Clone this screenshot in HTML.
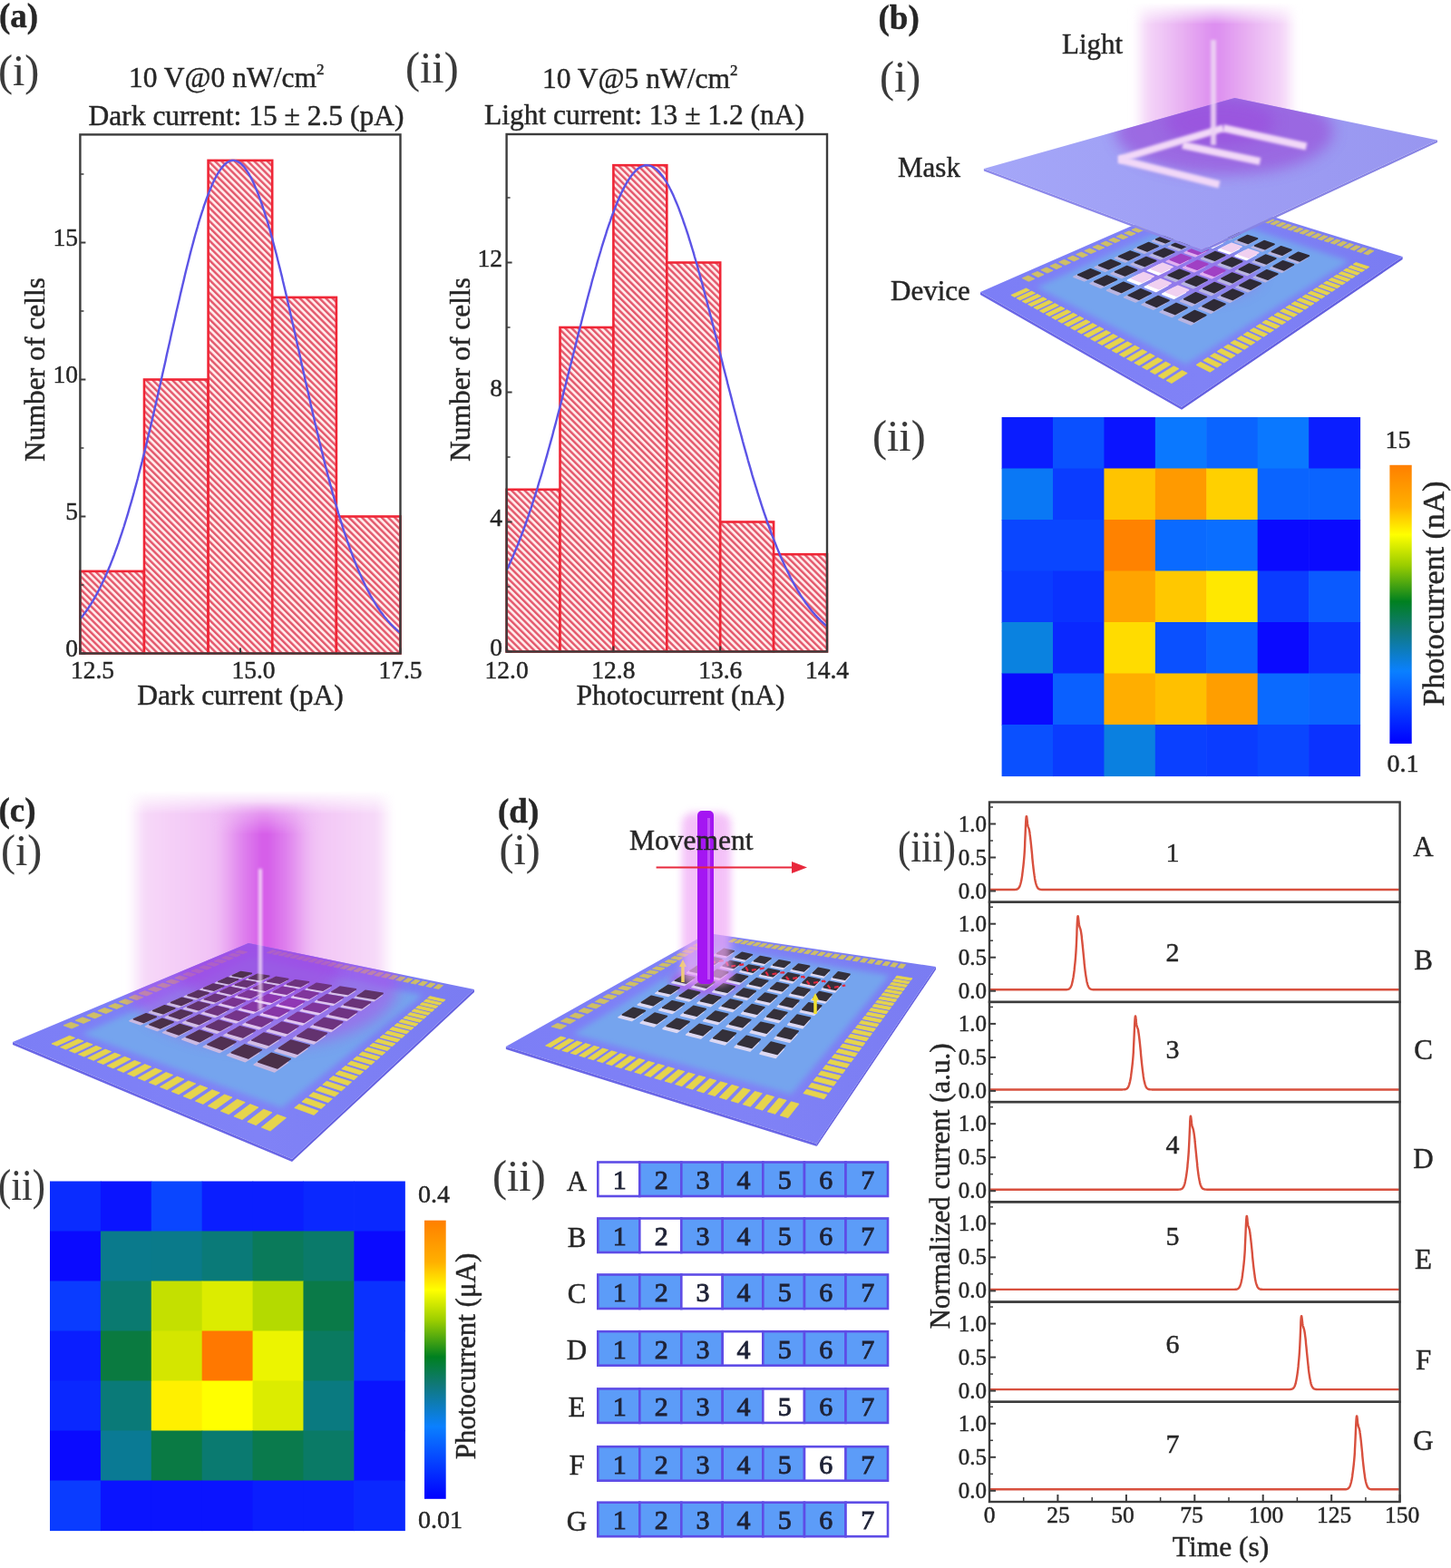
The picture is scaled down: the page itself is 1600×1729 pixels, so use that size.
<!DOCTYPE html>
<html><head><meta charset="utf-8"><style>
html,body{margin:0;padding:0;background:#fff;overflow:hidden;}
svg{display:block;filter:blur(0.6px);}
</style></head><body>
<svg width="1600" height="1729" viewBox="0 0 1600 1729" font-family="'Liberation Serif', serif">
<defs><pattern id="hatch" patternUnits="userSpaceOnUse" width="5.1" height="5.1" patternTransform="rotate(-45)">
<rect width="5.1" height="5.1" fill="#ffeaea"/><rect x="0" y="0" width="2.4" height="5.1" fill="#e4586c"/></pattern><linearGradient id="cbar" x1="0" y1="1" x2="0" y2="0"><stop offset="0" stop-color="#0000ff"/><stop offset="0.26" stop-color="#0a80ff"/><stop offset="0.41" stop-color="#107878"/><stop offset="0.51" stop-color="#008020"/><stop offset="0.64" stop-color="#9acd00"/><stop offset="0.75" stop-color="#ffff00"/><stop offset="0.85" stop-color="#ffb000"/><stop offset="1" stop-color="#ff7f00"/></linearGradient><filter id="soft2" x="-10%" y="-10%" width="120%" height="120%"><feGaussianBlur stdDeviation="3"/></filter><filter id="blur8" x="-50%" y="-50%" width="200%" height="200%"><feGaussianBlur stdDeviation="8"/></filter><filter id="blur5" x="-50%" y="-50%" width="200%" height="200%"><feGaussianBlur stdDeviation="5"/></filter><filter id="blur4" x="-50%" y="-50%" width="200%" height="200%"><feGaussianBlur stdDeviation="4"/></filter><filter id="blur2" x="-50%" y="-50%" width="200%" height="200%"><feGaussianBlur stdDeviation="1.5"/></filter><filter id="blur1" x="-20%" y="-20%" width="140%" height="140%"><feGaussianBlur stdDeviation="0.7"/></filter><linearGradient id="gc" x1="0" y1="0" x2="1" y2="0"><stop offset="0" stop-color="#f8e0fa" stop-opacity="0"/><stop offset="0.06" stop-color="#f6d6f8" stop-opacity="0.95"/><stop offset="0.3" stop-color="#f2c4f6"/><stop offset="0.5" stop-color="#eeb4f4"/><stop offset="0.7" stop-color="#f2c4f6"/><stop offset="0.94" stop-color="#f6d8f8" stop-opacity="0.95"/><stop offset="1" stop-color="#f8e0fa" stop-opacity="0"/></linearGradient><linearGradient id="gcc" x1="0" y1="0" x2="1" y2="0"><stop offset="0" stop-color="#e8a0f0" stop-opacity="0"/><stop offset="0.25" stop-color="#e088ee"/><stop offset="0.5" stop-color="#d458e8"/><stop offset="0.75" stop-color="#e088ee"/><stop offset="1" stop-color="#e8a0f0" stop-opacity="0"/></linearGradient><linearGradient id="gcv" x1="0" y1="0" x2="0" y2="1"><stop offset="0" stop-color="#fff" stop-opacity="0"/><stop offset="1" stop-color="#fff" stop-opacity="1"/></linearGradient><mask id="mcv"><rect x="0" y="872" width="600" height="26" fill="url(#gcv)"/><rect x="0" y="897" width="600" height="300" fill="#fff"/></mask><mask id="mcc"><rect x="0" y="884" width="600" height="36" fill="url(#gcv)"/><rect x="0" y="919" width="600" height="300" fill="#fff"/></mask><linearGradient id="pl1" gradientUnits="userSpaceOnUse" x1="14" y1="1149" x2="523" y2="1091"><stop offset="0" stop-color="#7c7ef6"/><stop offset="0.5" stop-color="#8082f6"/><stop offset="1" stop-color="#7a7cf2"/></linearGradient><clipPath id="cp1"><polygon points="274,1040 523,1091 322,1278 14,1149"/></clipPath><linearGradient id="pl2" gradientUnits="userSpaceOnUse" x1="1081" y1="322" x2="1546.6" y2="283"><stop offset="0" stop-color="#7c7ef6"/><stop offset="0.5" stop-color="#8082f6"/><stop offset="1" stop-color="#7a7cf2"/></linearGradient><clipPath id="cp2"><polygon points="1326,215 1546.6,283 1303,448.75 1081,322"/></clipPath><linearGradient id="gb" x1="0" y1="0" x2="1" y2="0"><stop offset="0" stop-color="#f6dcf8" stop-opacity="0"/><stop offset="0.08" stop-color="#f4d4f8" stop-opacity="0.95"/><stop offset="0.3" stop-color="#e8b0f2"/><stop offset="0.5" stop-color="#dc8cf0"/><stop offset="0.7" stop-color="#e8b0f2"/><stop offset="0.92" stop-color="#f4d4f8" stop-opacity="0.95"/><stop offset="1" stop-color="#f6dcf8" stop-opacity="0"/></linearGradient><mask id="mbv"><rect x="1100" y="3" width="500" height="24" fill="url(#gcv)"/><rect x="1100" y="26" width="500" height="200" fill="#fff"/></mask><linearGradient id="mkbase" gradientUnits="userSpaceOnUse" x1="1100" y1="180" x2="1580" y2="160"><stop offset="0" stop-color="#a4a6f8"/><stop offset="1" stop-color="#9896f0"/></linearGradient><clipPath id="cpmask"><polygon points="1084.9,186 1361.5,108 1585,154.5 1325,275.4"/></clipPath><linearGradient id="pl3" gradientUnits="userSpaceOnUse" x1="557.9" y1="1154" x2="1032" y2="1066"><stop offset="0" stop-color="#7c7ef6"/><stop offset="0.5" stop-color="#8082f6"/><stop offset="1" stop-color="#7a7cf2"/></linearGradient><clipPath id="cp3"><polygon points="780.5,1029 1032,1066 900.7,1261 557.9,1154"/></clipPath></defs>
<rect width="1600" height="1729" fill="#fff"/>
<rect x="88.4" y="629.9" width="70.6" height="90.6" fill="url(#hatch)" stroke="#f02636" stroke-width="2.6"/>
<rect x="159.0" y="418.5" width="70.6" height="302.0" fill="url(#hatch)" stroke="#f02636" stroke-width="2.6"/>
<rect x="229.6" y="176.9" width="70.6" height="543.6" fill="url(#hatch)" stroke="#f02636" stroke-width="2.6"/>
<rect x="300.3" y="327.9" width="70.6" height="392.6" fill="url(#hatch)" stroke="#f02636" stroke-width="2.6"/>
<rect x="370.9" y="569.5" width="70.6" height="151.0" fill="url(#hatch)" stroke="#f02636" stroke-width="2.6"/>
<polyline points="88.4,682.5 89.6,681.1 90.8,679.6 91.9,678.1 93.1,676.5 94.3,674.9 95.5,673.3 96.6,671.6 97.8,669.8 99.0,668.0 100.2,666.2 101.3,664.3 102.5,662.3 103.7,660.3 104.9,658.2 106.1,656.1 107.2,654.0 108.4,651.7 109.6,649.5 110.8,647.1 111.9,644.7 113.1,642.3 114.3,639.8 115.5,637.2 116.6,634.6 117.8,631.9 119.0,629.2 120.2,626.3 121.4,623.5 122.5,620.6 123.7,617.6 124.9,614.5 126.1,611.4 127.2,608.2 128.4,605.0 129.6,601.7 130.8,598.3 131.9,594.9 133.1,591.4 134.3,587.8 135.5,584.2 136.7,580.5 137.8,576.8 139.0,573.0 140.2,569.1 141.4,565.2 142.5,561.2 143.7,557.2 144.9,553.1 146.1,548.9 147.3,544.7 148.4,540.4 149.6,536.1 150.8,531.7 152.0,527.3 153.1,522.8 154.3,518.2 155.5,513.6 156.7,509.0 157.8,504.3 159.0,499.5 160.2,494.7 161.4,489.9 162.6,485.0 163.7,480.1 164.9,475.1 166.1,470.1 167.3,465.1 168.4,460.0 169.6,454.9 170.8,449.8 172.0,444.6 173.1,439.5 174.3,434.2 175.5,429.0 176.7,423.8 177.9,418.5 179.0,413.2 180.2,408.0 181.4,402.7 182.6,397.4 183.7,392.1 184.9,386.8 186.1,381.5 187.3,376.2 188.4,370.9 189.6,365.6 190.8,360.3 192.0,355.1 193.2,349.8 194.3,344.6 195.5,339.5 196.7,334.3 197.9,329.2 199.0,324.1 200.2,319.1 201.4,314.0 202.6,309.1 203.7,304.2 204.9,299.3 206.1,294.5 207.3,289.7 208.5,285.0 209.6,280.4 210.8,275.8 212.0,271.3 213.2,266.9 214.3,262.6 215.5,258.3 216.7,254.1 217.9,250.0 219.0,245.9 220.2,242.0 221.4,238.2 222.6,234.4 223.8,230.8 224.9,227.2 226.1,223.8 227.3,220.4 228.5,217.2 229.6,214.1 230.8,211.1 232.0,208.2 233.2,205.4 234.3,202.7 235.5,200.2 236.7,197.8 237.9,195.5 239.1,193.3 240.2,191.3 241.4,189.4 242.6,187.6 243.8,186.0 244.9,184.5 246.1,183.1 247.3,181.8 248.5,180.7 249.6,179.8 250.8,178.9 252.0,178.3 253.2,177.7 254.4,177.3 255.5,177.0 256.7,176.9 257.9,176.9 259.1,177.1 260.2,177.4 261.4,177.8 262.6,178.4 263.8,179.1 265.0,180.0 266.1,180.9 267.3,182.1 268.5,183.3 269.7,184.7 270.8,186.3 272.0,188.0 273.2,189.8 274.4,191.7 275.5,193.8 276.7,195.9 277.9,198.3 279.1,200.7 280.3,203.3 281.4,205.9 282.6,208.7 283.8,211.7 285.0,214.7 286.1,217.8 287.3,221.1 288.5,224.5 289.7,227.9 290.8,231.5 292.0,235.2 293.2,238.9 294.4,242.8 295.6,246.7 296.7,250.8 297.9,254.9 299.1,259.1 300.3,263.4 301.4,267.8 302.6,272.2 303.8,276.7 305.0,281.3 306.1,286.0 307.3,290.7 308.5,295.4 309.7,300.3 310.9,305.1 312.0,310.1 313.2,315.0 314.4,320.1 315.6,325.1 316.7,330.2 317.9,335.3 319.1,340.5 320.3,345.7 321.4,350.9 322.6,356.1 323.8,361.4 325.0,366.6 326.2,371.9 327.3,377.2 328.5,382.5 329.7,387.8 330.9,393.1 332.0,398.4 333.2,403.7 334.4,409.0 335.6,414.3 336.7,419.6 337.9,424.8 339.1,430.1 340.3,435.3 341.5,440.5 342.6,445.7 343.8,450.8 345.0,455.9 346.2,461.0 347.3,466.1 348.5,471.1 349.7,476.1 350.9,481.1 352.0,486.0 353.2,490.8 354.4,495.7 355.6,500.5 356.8,505.2 357.9,509.9 359.1,514.5 360.3,519.1 361.5,523.7 362.6,528.1 363.8,532.6 365.0,537.0 366.2,541.3 367.3,545.5 368.5,549.8 369.7,553.9 370.9,558.0 372.1,562.0 373.2,566.0 374.4,569.9 375.6,573.8 376.8,577.6 377.9,581.3 379.1,585.0 380.3,588.6 381.5,592.1 382.7,595.6 383.8,599.0 385.0,602.3 386.2,605.6 387.4,608.9 388.5,612.0 389.7,615.1 390.9,618.2 392.1,621.1 393.2,624.1 394.4,626.9 395.6,629.7 396.8,632.4 398.0,635.1 399.1,637.7 400.3,640.3 401.5,642.8 402.7,645.2 403.8,647.6 405.0,649.9 406.2,652.2 407.4,654.4 408.5,656.5 409.7,658.6 410.9,660.7 412.1,662.7 413.3,664.6 414.4,666.5 415.6,668.4 416.8,670.2 418.0,671.9 419.1,673.6 420.3,675.2 421.5,676.8 422.7,678.4 423.8,679.9 425.0,681.4 426.2,682.8 427.4,684.2 428.6,685.5 429.7,686.8 430.9,688.1 432.1,689.3 433.3,690.5 434.4,691.6 435.6,692.7 436.8,693.8 438.0,694.8 439.1,695.8 440.3,696.8 441.5,697.7" fill="none" stroke="#5c54e6" stroke-width="2.4"/>
<rect x="88.4" y="148.4" width="353.1" height="572.1" fill="none" stroke="#3c3c3c" stroke-width="2.4"/>
<line x1="88.4" y1="720.5" x2="94.4" y2="720.5" stroke="#3c3c3c" stroke-width="2"/>
<text x="85.9" y="723.5" font-size="27.5" text-anchor="end" fill="#262626" stroke="#262626" stroke-width="0.45">0</text>
<line x1="88.4" y1="569.5" x2="94.4" y2="569.5" stroke="#3c3c3c" stroke-width="2"/>
<text x="85.9" y="572.5" font-size="27.5" text-anchor="end" fill="#262626" stroke="#262626" stroke-width="0.45">5</text>
<line x1="88.4" y1="418.5" x2="94.4" y2="418.5" stroke="#3c3c3c" stroke-width="2"/>
<text x="85.9" y="421.5" font-size="27.5" text-anchor="end" fill="#262626" stroke="#262626" stroke-width="0.45">10</text>
<line x1="88.4" y1="267.5" x2="94.4" y2="267.5" stroke="#3c3c3c" stroke-width="2"/>
<text x="85.9" y="270.5" font-size="27.5" text-anchor="end" fill="#262626" stroke="#262626" stroke-width="0.45">15</text>
<line x1="88.4" y1="645.0" x2="92.4" y2="645.0" stroke="#3c3c3c" stroke-width="1.5"/>
<line x1="88.4" y1="494.0" x2="92.4" y2="494.0" stroke="#3c3c3c" stroke-width="1.5"/>
<line x1="88.4" y1="343.0" x2="92.4" y2="343.0" stroke="#3c3c3c" stroke-width="1.5"/>
<line x1="88.4" y1="192.0" x2="92.4" y2="192.0" stroke="#3c3c3c" stroke-width="1.5"/>
<line x1="88.4" y1="720.5" x2="88.4" y2="714.5" stroke="#3c3c3c" stroke-width="2"/>
<text x="102" y="748" font-size="27.5" text-anchor="middle" fill="#262626" stroke="#262626" stroke-width="0.45">12.5</text>
<line x1="265.0" y1="720.5" x2="265.0" y2="714.5" stroke="#3c3c3c" stroke-width="2"/>
<text x="279.5" y="748" font-size="27.5" text-anchor="middle" fill="#262626" stroke="#262626" stroke-width="0.45">15.0</text>
<line x1="441.5" y1="720.5" x2="441.5" y2="714.5" stroke="#3c3c3c" stroke-width="2"/>
<text x="441.5" y="748" font-size="27.5" text-anchor="middle" fill="#262626" stroke="#262626" stroke-width="0.45">17.5</text>
<rect x="558.6" y="539.8" width="58.9" height="178.8" fill="url(#hatch)" stroke="#f02636" stroke-width="2.6"/>
<rect x="617.5" y="361.0" width="58.9" height="357.5" fill="url(#hatch)" stroke="#f02636" stroke-width="2.6"/>
<rect x="676.4" y="182.2" width="58.9" height="536.2" fill="url(#hatch)" stroke="#f02636" stroke-width="2.6"/>
<rect x="735.3" y="289.5" width="58.9" height="429.0" fill="url(#hatch)" stroke="#f02636" stroke-width="2.6"/>
<rect x="794.2" y="575.5" width="58.9" height="143.0" fill="url(#hatch)" stroke="#f02636" stroke-width="2.6"/>
<rect x="853.1" y="611.2" width="58.9" height="107.2" fill="url(#hatch)" stroke="#f02636" stroke-width="2.6"/>
<polyline points="558.6,628.9 559.8,626.5 561.0,624.0 562.1,621.4 563.3,618.8 564.5,616.1 565.7,613.4 566.8,610.6 568.0,607.8 569.2,605.0 570.4,602.1 571.6,599.1 572.7,596.1 573.9,593.0 575.1,589.9 576.3,586.8 577.4,583.6 578.6,580.3 579.8,577.0 581.0,573.7 582.2,570.3 583.3,566.8 584.5,563.3 585.7,559.8 586.9,556.2 588.0,552.5 589.2,548.8 590.4,545.1 591.6,541.3 592.8,537.5 593.9,533.6 595.1,529.7 596.3,525.8 597.5,521.8 598.7,517.7 599.8,513.7 601.0,509.6 602.2,505.4 603.4,501.2 604.5,497.0 605.7,492.7 606.9,488.4 608.1,484.1 609.3,479.7 610.4,475.3 611.6,470.9 612.8,466.5 614.0,462.0 615.1,457.5 616.3,453.0 617.5,448.4 618.7,443.8 619.9,439.2 621.0,434.6 622.2,430.0 623.4,425.4 624.6,420.7 625.7,416.1 626.9,411.4 628.1,406.7 629.3,402.0 630.5,397.3 631.6,392.7 632.8,388.0 634.0,383.3 635.2,378.6 636.3,373.9 637.5,369.3 638.7,364.6 639.9,360.0 641.1,355.3 642.2,350.7 643.4,346.1 644.6,341.6 645.8,337.0 646.9,332.5 648.1,328.0 649.3,323.5 650.5,319.1 651.7,314.7 652.8,310.3 654.0,306.0 655.2,301.7 656.4,297.5 657.6,293.3 658.7,289.1 659.9,285.0 661.1,281.0 662.3,277.0 663.4,273.0 664.6,269.1 665.8,265.3 667.0,261.6 668.2,257.9 669.3,254.2 670.5,250.7 671.7,247.2 672.9,243.8 674.0,240.4 675.2,237.2 676.4,234.0 677.6,230.9 678.8,227.9 679.9,224.9 681.1,222.1 682.3,219.3 683.5,216.6 684.6,214.0 685.8,211.5 687.0,209.1 688.2,206.8 689.4,204.6 690.5,202.5 691.7,200.5 692.9,198.6 694.1,196.8 695.2,195.1 696.4,193.4 697.6,191.9 698.8,190.5 700.0,189.3 701.1,188.1 702.3,187.0 703.5,186.0 704.7,185.2 705.9,184.4 707.0,183.8 708.2,183.3 709.4,182.8 710.6,182.5 711.7,182.3 712.9,182.3 714.1,182.3 715.3,182.4 716.5,182.7 717.6,183.0 718.8,183.5 720.0,184.1 721.2,184.8 722.3,185.6 723.5,186.5 724.7,187.5 725.9,188.6 727.1,189.9 728.2,191.2 729.4,192.7 730.6,194.2 731.8,195.9 732.9,197.7 734.1,199.5 735.3,201.5 736.5,203.5 737.7,205.7 738.8,208.0 740.0,210.3 741.2,212.8 742.4,215.3 743.5,217.9 744.7,220.7 745.9,223.5 747.1,226.4 748.3,229.4 749.4,232.4 750.6,235.6 751.8,238.8 753.0,242.1 754.1,245.5 755.3,248.9 756.5,252.4 757.7,256.0 758.9,259.7 760.0,263.4 761.2,267.2 762.4,271.1 763.6,275.0 764.8,278.9 765.9,283.0 767.1,287.0 768.3,291.2 769.5,295.3 770.6,299.6 771.8,303.8 773.0,308.1 774.2,312.5 775.4,316.9 776.5,321.3 777.7,325.7 778.9,330.2 780.1,334.7 781.2,339.3 782.4,343.8 783.6,348.4 784.8,353.0 786.0,357.6 787.1,362.3 788.3,366.9 789.5,371.6 790.7,376.3 791.8,380.9 793.0,385.6 794.2,390.3 795.4,395.0 796.6,399.7 797.7,404.4 798.9,409.1 800.1,413.7 801.3,418.4 802.4,423.1 803.6,427.7 804.8,432.3 806.0,436.9 807.2,441.5 808.3,446.1 809.5,450.7 810.7,455.2 811.9,459.7 813.0,464.2 814.2,468.7 815.4,473.1 816.6,477.5 817.8,481.9 818.9,486.3 820.1,490.6 821.3,494.9 822.5,499.1 823.7,503.3 824.8,507.5 826.0,511.6 827.2,515.7 828.4,519.8 829.5,523.8 830.7,527.8 831.9,531.7 833.1,535.6 834.3,539.4 835.4,543.2 836.6,547.0 837.8,550.7 839.0,554.4 840.1,558.0 841.3,561.5 842.5,565.1 843.7,568.5 844.9,572.0 846.0,575.3 847.2,578.7 848.4,582.0 849.6,585.2 850.7,588.4 851.9,591.5 853.1,594.6 854.3,597.6 855.5,600.6 856.6,603.5 857.8,606.4 859.0,609.2 860.2,612.0 861.3,614.8 862.5,617.5 863.7,620.1 864.9,622.7 866.1,625.2 867.2,627.7 868.4,630.1 869.6,632.5 870.8,634.9 871.9,637.2 873.1,639.4 874.3,641.7 875.5,643.8 876.7,645.9 877.8,648.0 879.0,650.0 880.2,652.0 881.4,653.9 882.5,655.8 883.7,657.7 884.9,659.5 886.1,661.3 887.3,663.0 888.4,664.7 889.6,666.3 890.8,667.9 892.0,669.5 893.2,671.0 894.3,672.5 895.5,673.9 896.7,675.4 897.9,676.7 899.0,678.1 900.2,679.4 901.4,680.7 902.6,681.9 903.8,683.1 904.9,684.3 906.1,685.4 907.3,686.5 908.5,687.6 909.6,688.7 910.8,689.7 912.0,690.7" fill="none" stroke="#5c54e6" stroke-width="2.4"/>
<rect x="558.6" y="148.0" width="353.4" height="570.5" fill="none" stroke="#3c3c3c" stroke-width="2.4"/>
<line x1="558.6" y1="718.5" x2="564.6" y2="718.5" stroke="#3c3c3c" stroke-width="2"/>
<text x="554.1" y="722.5" font-size="27.5" text-anchor="end" fill="#262626" stroke="#262626" stroke-width="0.45">0</text>
<line x1="558.6" y1="575.5" x2="564.6" y2="575.5" stroke="#3c3c3c" stroke-width="2"/>
<text x="554.1" y="579.5" font-size="27.5" text-anchor="end" fill="#262626" stroke="#262626" stroke-width="0.45">4</text>
<line x1="558.6" y1="432.5" x2="564.6" y2="432.5" stroke="#3c3c3c" stroke-width="2"/>
<text x="554.1" y="436.5" font-size="27.5" text-anchor="end" fill="#262626" stroke="#262626" stroke-width="0.45">8</text>
<line x1="558.6" y1="289.5" x2="564.6" y2="289.5" stroke="#3c3c3c" stroke-width="2"/>
<text x="554.1" y="293.5" font-size="27.5" text-anchor="end" fill="#262626" stroke="#262626" stroke-width="0.45">12</text>
<line x1="558.6" y1="647.0" x2="562.6" y2="647.0" stroke="#3c3c3c" stroke-width="1.5"/>
<line x1="558.6" y1="504.0" x2="562.6" y2="504.0" stroke="#3c3c3c" stroke-width="1.5"/>
<line x1="558.6" y1="361.0" x2="562.6" y2="361.0" stroke="#3c3c3c" stroke-width="1.5"/>
<line x1="558.6" y1="218.0" x2="562.6" y2="218.0" stroke="#3c3c3c" stroke-width="1.5"/>
<line x1="558.6" y1="718.5" x2="558.6" y2="712.5" stroke="#3c3c3c" stroke-width="2"/>
<text x="558.6" y="748" font-size="27.5" text-anchor="middle" fill="#262626" stroke="#262626" stroke-width="0.45">12.0</text>
<line x1="676.4" y1="718.5" x2="676.4" y2="712.5" stroke="#3c3c3c" stroke-width="2"/>
<text x="676.4000000000001" y="748" font-size="27.5" text-anchor="middle" fill="#262626" stroke="#262626" stroke-width="0.45">12.8</text>
<line x1="794.2" y1="718.5" x2="794.2" y2="712.5" stroke="#3c3c3c" stroke-width="2"/>
<text x="794.1999999999999" y="748" font-size="27.5" text-anchor="middle" fill="#262626" stroke="#262626" stroke-width="0.45">13.6</text>
<line x1="912.0" y1="718.5" x2="912.0" y2="712.5" stroke="#3c3c3c" stroke-width="2"/>
<text x="912.0" y="748" font-size="27.5" text-anchor="middle" fill="#262626" stroke="#262626" stroke-width="0.45">14.4</text>
<text x="-1" y="29.5" font-size="37" text-anchor="start" font-weight="bold" fill="#262626" stroke="#262626" stroke-width="0.45">(a)</text>
<text x="-2" y="93.5" font-size="48" text-anchor="start" fill="#3a3a3a" stroke="#3a3a3a" stroke-width="0.1">(i)</text>
<text x="447" y="90.7" font-size="48" text-anchor="start" fill="#3a3a3a" stroke="#3a3a3a" stroke-width="0.1">(ii)</text>
<text x="142" y="96" font-size="31.5" text-anchor="start" fill="#262626" stroke="#262626" stroke-width="0.45">10 V@0 nW/cm<tspan font-size="17" dy="-14">2</tspan></text>
<text x="271.5" y="138" font-size="31.5" text-anchor="middle" fill="#262626" stroke="#262626" stroke-width="0.45">Dark current: 15 ± 2.5 (pA)</text>
<text x="598" y="97" font-size="31.5" text-anchor="start" fill="#262626" stroke="#262626" stroke-width="0.45">10 V@5 nW/cm<tspan font-size="17" dy="-14">2</tspan></text>
<text x="710.5" y="137" font-size="31.5" text-anchor="middle" fill="#262626" stroke="#262626" stroke-width="0.45">Light current: 13 ± 1.2 (nA)</text>
<text x="265" y="777" font-size="31.5" text-anchor="middle" fill="#262626" stroke="#262626" stroke-width="0.45">Dark current (pA)</text>
<text x="750.5" y="777" font-size="31.5" text-anchor="middle" fill="#262626" stroke="#262626" stroke-width="0.45">Photocurrent (nA)</text>
<text x="48.5" y="407.5" font-size="31.5" text-anchor="middle" fill="#262626" stroke="#262626" stroke-width="0.45" transform="rotate(-90 48.5 407.5)">Number of cells</text>
<text x="517.5" y="407.5" font-size="31.5" text-anchor="middle" fill="#262626" stroke="#262626" stroke-width="0.45" transform="rotate(-90 517.5 407.5)">Number of cells</text>
<rect x="1104.60" y="460.00" width="57.01" height="57.10" fill="#0a1cff"/>
<rect x="1161.01" y="460.00" width="57.01" height="57.10" fill="#0a50ff"/>
<rect x="1217.43" y="460.00" width="57.01" height="57.10" fill="#0a14ff"/>
<rect x="1273.84" y="460.00" width="57.01" height="57.10" fill="#0a78ff"/>
<rect x="1330.26" y="460.00" width="57.01" height="57.10" fill="#0a64ff"/>
<rect x="1386.67" y="460.00" width="57.01" height="57.10" fill="#0a78ff"/>
<rect x="1443.09" y="460.00" width="57.01" height="57.10" fill="#0a1eff"/>
<rect x="1104.60" y="516.50" width="57.01" height="57.10" fill="#0a78f5"/>
<rect x="1161.01" y="516.50" width="57.01" height="57.10" fill="#0a3cff"/>
<rect x="1217.43" y="516.50" width="57.01" height="57.10" fill="#ffc400"/>
<rect x="1273.84" y="516.50" width="57.01" height="57.10" fill="#ff9a00"/>
<rect x="1330.26" y="516.50" width="57.01" height="57.10" fill="#ffd000"/>
<rect x="1386.67" y="516.50" width="57.01" height="57.10" fill="#0a64ff"/>
<rect x="1443.09" y="516.50" width="57.01" height="57.10" fill="#0a64ff"/>
<rect x="1104.60" y="573.00" width="57.01" height="57.10" fill="#0a46ff"/>
<rect x="1161.01" y="573.00" width="57.01" height="57.10" fill="#0a46ff"/>
<rect x="1217.43" y="573.00" width="57.01" height="57.10" fill="#ff8200"/>
<rect x="1273.84" y="573.00" width="57.01" height="57.10" fill="#0a6aff"/>
<rect x="1330.26" y="573.00" width="57.01" height="57.10" fill="#0a6eff"/>
<rect x="1386.67" y="573.00" width="57.01" height="57.10" fill="#0a0aff"/>
<rect x="1443.09" y="573.00" width="57.01" height="57.10" fill="#0a0aff"/>
<rect x="1104.60" y="629.50" width="57.01" height="57.10" fill="#0a3cff"/>
<rect x="1161.01" y="629.50" width="57.01" height="57.10" fill="#0a32ff"/>
<rect x="1217.43" y="629.50" width="57.01" height="57.10" fill="#ffa400"/>
<rect x="1273.84" y="629.50" width="57.01" height="57.10" fill="#ffc800"/>
<rect x="1330.26" y="629.50" width="57.01" height="57.10" fill="#ffe800"/>
<rect x="1386.67" y="629.50" width="57.01" height="57.10" fill="#0a3cff"/>
<rect x="1443.09" y="629.50" width="57.01" height="57.10" fill="#0a5aff"/>
<rect x="1104.60" y="686.00" width="57.01" height="57.10" fill="#0a82e0"/>
<rect x="1161.01" y="686.00" width="57.01" height="57.10" fill="#0a28ff"/>
<rect x="1217.43" y="686.00" width="57.01" height="57.10" fill="#ffdc00"/>
<rect x="1273.84" y="686.00" width="57.01" height="57.10" fill="#0a50ff"/>
<rect x="1330.26" y="686.00" width="57.01" height="57.10" fill="#0a64ff"/>
<rect x="1386.67" y="686.00" width="57.01" height="57.10" fill="#0a0aff"/>
<rect x="1443.09" y="686.00" width="57.01" height="57.10" fill="#0a32ff"/>
<rect x="1104.60" y="742.50" width="57.01" height="57.10" fill="#0a0aff"/>
<rect x="1161.01" y="742.50" width="57.01" height="57.10" fill="#0a60ff"/>
<rect x="1217.43" y="742.50" width="57.01" height="57.10" fill="#ffae00"/>
<rect x="1273.84" y="742.50" width="57.01" height="57.10" fill="#ffc000"/>
<rect x="1330.26" y="742.50" width="57.01" height="57.10" fill="#ff9e00"/>
<rect x="1386.67" y="742.50" width="57.01" height="57.10" fill="#0a6aff"/>
<rect x="1443.09" y="742.50" width="57.01" height="57.10" fill="#0a64ff"/>
<rect x="1104.60" y="799.00" width="57.01" height="57.10" fill="#0a50ff"/>
<rect x="1161.01" y="799.00" width="57.01" height="57.10" fill="#0a3cff"/>
<rect x="1217.43" y="799.00" width="57.01" height="57.10" fill="#0a80e0"/>
<rect x="1273.84" y="799.00" width="57.01" height="57.10" fill="#0a40ff"/>
<rect x="1330.26" y="799.00" width="57.01" height="57.10" fill="#0a3cff"/>
<rect x="1386.67" y="799.00" width="57.01" height="57.10" fill="#0a46ff"/>
<rect x="1443.09" y="799.00" width="57.01" height="57.10" fill="#0a32ff"/>
<rect x="1532.4" y="512.8" width="24.3" height="307.2" fill="url(#cbar)"/>
<text x="1541.5" y="493.5" font-size="28" text-anchor="middle" fill="#262626" stroke="#262626" stroke-width="0.45">15</text>
<text x="1547" y="851" font-size="28" text-anchor="middle" fill="#262626" stroke="#262626" stroke-width="0.45">0.1</text>
<text x="1592" y="654.5" font-size="34" text-anchor="middle" fill="#262626" stroke="#262626" stroke-width="0.45" transform="rotate(-90 1592 654.5)">Photocurrent (nA)</text>
<rect x="55.00" y="1302.50" width="56.49" height="55.60" fill="#0a2cff"/>
<rect x="110.89" y="1302.50" width="56.49" height="55.60" fill="#0a14ff"/>
<rect x="166.79" y="1302.50" width="56.49" height="55.60" fill="#0a46ff"/>
<rect x="222.68" y="1302.50" width="56.49" height="55.60" fill="#0a1eff"/>
<rect x="278.57" y="1302.50" width="56.49" height="55.60" fill="#0a1eff"/>
<rect x="334.46" y="1302.50" width="56.49" height="55.60" fill="#0a28ff"/>
<rect x="390.36" y="1302.50" width="56.49" height="55.60" fill="#0a28ff"/>
<rect x="55.00" y="1357.50" width="56.49" height="55.60" fill="#0a0aff"/>
<rect x="110.89" y="1357.50" width="56.49" height="55.60" fill="#0a7a8c"/>
<rect x="166.79" y="1357.50" width="56.49" height="55.60" fill="#0a7a8a"/>
<rect x="222.68" y="1357.50" width="56.49" height="55.60" fill="#0a7a78"/>
<rect x="278.57" y="1357.50" width="56.49" height="55.60" fill="#0a7a5a"/>
<rect x="334.46" y="1357.50" width="56.49" height="55.60" fill="#0a7a6a"/>
<rect x="390.36" y="1357.50" width="56.49" height="55.60" fill="#0a0aff"/>
<rect x="55.00" y="1412.50" width="56.49" height="55.60" fill="#0a3cff"/>
<rect x="110.89" y="1412.50" width="56.49" height="55.60" fill="#0a7a70"/>
<rect x="166.79" y="1412.50" width="56.49" height="55.60" fill="#c4e000"/>
<rect x="222.68" y="1412.50" width="56.49" height="55.60" fill="#dcec00"/>
<rect x="278.57" y="1412.50" width="56.49" height="55.60" fill="#b4da00"/>
<rect x="334.46" y="1412.50" width="56.49" height="55.60" fill="#0a7a48"/>
<rect x="390.36" y="1412.50" width="56.49" height="55.60" fill="#0a32ff"/>
<rect x="55.00" y="1467.50" width="56.49" height="55.60" fill="#0a1eff"/>
<rect x="110.89" y="1467.50" width="56.49" height="55.60" fill="#0a7a40"/>
<rect x="166.79" y="1467.50" width="56.49" height="55.60" fill="#d4e600"/>
<rect x="222.68" y="1467.50" width="56.49" height="55.60" fill="#ff7800"/>
<rect x="278.57" y="1467.50" width="56.49" height="55.60" fill="#ecf400"/>
<rect x="334.46" y="1467.50" width="56.49" height="55.60" fill="#0a7a60"/>
<rect x="390.36" y="1467.50" width="56.49" height="55.60" fill="#0a32ff"/>
<rect x="55.00" y="1522.50" width="56.49" height="55.60" fill="#0a28ff"/>
<rect x="110.89" y="1522.50" width="56.49" height="55.60" fill="#0a7a78"/>
<rect x="166.79" y="1522.50" width="56.49" height="55.60" fill="#fff000"/>
<rect x="222.68" y="1522.50" width="56.49" height="55.60" fill="#ffff00"/>
<rect x="278.57" y="1522.50" width="56.49" height="55.60" fill="#dcec00"/>
<rect x="334.46" y="1522.50" width="56.49" height="55.60" fill="#0a7a80"/>
<rect x="390.36" y="1522.50" width="56.49" height="55.60" fill="#0a14ff"/>
<rect x="55.00" y="1577.50" width="56.49" height="55.60" fill="#0a0aff"/>
<rect x="110.89" y="1577.50" width="56.49" height="55.60" fill="#0a7a94"/>
<rect x="166.79" y="1577.50" width="56.49" height="55.60" fill="#0a7a44"/>
<rect x="222.68" y="1577.50" width="56.49" height="55.60" fill="#0a7a70"/>
<rect x="278.57" y="1577.50" width="56.49" height="55.60" fill="#0a7a4c"/>
<rect x="334.46" y="1577.50" width="56.49" height="55.60" fill="#0a7a66"/>
<rect x="390.36" y="1577.50" width="56.49" height="55.60" fill="#0a14ff"/>
<rect x="55.00" y="1632.50" width="56.49" height="55.60" fill="#0a3cff"/>
<rect x="110.89" y="1632.50" width="56.49" height="55.60" fill="#0a14ff"/>
<rect x="166.79" y="1632.50" width="56.49" height="55.60" fill="#0a14ff"/>
<rect x="222.68" y="1632.50" width="56.49" height="55.60" fill="#0a14ff"/>
<rect x="278.57" y="1632.50" width="56.49" height="55.60" fill="#0a1eff"/>
<rect x="334.46" y="1632.50" width="56.49" height="55.60" fill="#0a1eff"/>
<rect x="390.36" y="1632.50" width="56.49" height="55.60" fill="#0a28ff"/>
<rect x="468" y="1345.7" width="23.7" height="307.1" fill="url(#cbar)"/>
<text x="478.5" y="1325.6" font-size="28" text-anchor="middle" fill="#262626" stroke="#262626" stroke-width="0.45">0.4</text>
<text x="485.5" y="1685" font-size="28" text-anchor="middle" fill="#262626" stroke="#262626" stroke-width="0.45">0.01</text>
<text x="524" y="1495.5" font-size="31" text-anchor="middle" fill="#262626" stroke="#262626" stroke-width="0.45" transform="rotate(-90 524 1495.5)">Photocurrent (μA)</text>
<rect x="659.3" y="1281.5" width="46.0" height="37.5" fill="#ffffff" stroke="#5e4ce6" stroke-width="2.6"/>
<text x="683.3" y="1311.0" font-size="30" text-anchor="middle" fill="#1e2236" stroke="#1e2236" stroke-width="0.9">1</text>
<rect x="705.3" y="1281.5" width="46.0" height="37.5" fill="#5c9cf8" stroke="#5e4ce6" stroke-width="2.6"/>
<text x="729.3" y="1311.0" font-size="30" text-anchor="middle" fill="#1e2236" stroke="#1e2236" stroke-width="0.9">2</text>
<rect x="751.3" y="1281.5" width="45.4" height="37.5" fill="#5c9cf8" stroke="#5e4ce6" stroke-width="2.6"/>
<text x="775.0" y="1311.0" font-size="30" text-anchor="middle" fill="#1e2236" stroke="#1e2236" stroke-width="0.9">3</text>
<rect x="796.7" y="1281.5" width="44.6" height="37.5" fill="#5c9cf8" stroke="#5e4ce6" stroke-width="2.6"/>
<text x="820.0" y="1311.0" font-size="30" text-anchor="middle" fill="#1e2236" stroke="#1e2236" stroke-width="0.9">4</text>
<rect x="841.3" y="1281.5" width="45.7" height="37.5" fill="#5c9cf8" stroke="#5e4ce6" stroke-width="2.6"/>
<text x="865.15" y="1311.0" font-size="30" text-anchor="middle" fill="#1e2236" stroke="#1e2236" stroke-width="0.9">5</text>
<rect x="887.0" y="1281.5" width="45.5" height="37.5" fill="#5c9cf8" stroke="#5e4ce6" stroke-width="2.6"/>
<text x="910.75" y="1311.0" font-size="30" text-anchor="middle" fill="#1e2236" stroke="#1e2236" stroke-width="0.9">6</text>
<rect x="932.5" y="1281.5" width="46.5" height="37.5" fill="#5c9cf8" stroke="#5e4ce6" stroke-width="2.6"/>
<text x="956.75" y="1311.0" font-size="30" text-anchor="middle" fill="#1e2236" stroke="#1e2236" stroke-width="0.9">7</text>
<text x="636" y="1312.5" font-size="31" text-anchor="middle" fill="#262626" stroke="#262626" stroke-width="0.45">A</text>
<rect x="659.3" y="1343.5" width="46.0" height="37.5" fill="#5c9cf8" stroke="#5e4ce6" stroke-width="2.6"/>
<text x="683.3" y="1373.0" font-size="30" text-anchor="middle" fill="#1e2236" stroke="#1e2236" stroke-width="0.9">1</text>
<rect x="705.3" y="1343.5" width="46.0" height="37.5" fill="#ffffff" stroke="#5e4ce6" stroke-width="2.6"/>
<text x="729.3" y="1373.0" font-size="30" text-anchor="middle" fill="#1e2236" stroke="#1e2236" stroke-width="0.9">2</text>
<rect x="751.3" y="1343.5" width="45.4" height="37.5" fill="#5c9cf8" stroke="#5e4ce6" stroke-width="2.6"/>
<text x="775.0" y="1373.0" font-size="30" text-anchor="middle" fill="#1e2236" stroke="#1e2236" stroke-width="0.9">3</text>
<rect x="796.7" y="1343.5" width="44.6" height="37.5" fill="#5c9cf8" stroke="#5e4ce6" stroke-width="2.6"/>
<text x="820.0" y="1373.0" font-size="30" text-anchor="middle" fill="#1e2236" stroke="#1e2236" stroke-width="0.9">4</text>
<rect x="841.3" y="1343.5" width="45.7" height="37.5" fill="#5c9cf8" stroke="#5e4ce6" stroke-width="2.6"/>
<text x="865.15" y="1373.0" font-size="30" text-anchor="middle" fill="#1e2236" stroke="#1e2236" stroke-width="0.9">5</text>
<rect x="887.0" y="1343.5" width="45.5" height="37.5" fill="#5c9cf8" stroke="#5e4ce6" stroke-width="2.6"/>
<text x="910.75" y="1373.0" font-size="30" text-anchor="middle" fill="#1e2236" stroke="#1e2236" stroke-width="0.9">6</text>
<rect x="932.5" y="1343.5" width="46.5" height="37.5" fill="#5c9cf8" stroke="#5e4ce6" stroke-width="2.6"/>
<text x="956.75" y="1373.0" font-size="30" text-anchor="middle" fill="#1e2236" stroke="#1e2236" stroke-width="0.9">7</text>
<text x="636" y="1374.5" font-size="31" text-anchor="middle" fill="#262626" stroke="#262626" stroke-width="0.45">B</text>
<rect x="659.3" y="1405.5" width="46.0" height="37.5" fill="#5c9cf8" stroke="#5e4ce6" stroke-width="2.6"/>
<text x="683.3" y="1435.0" font-size="30" text-anchor="middle" fill="#1e2236" stroke="#1e2236" stroke-width="0.9">1</text>
<rect x="705.3" y="1405.5" width="46.0" height="37.5" fill="#5c9cf8" stroke="#5e4ce6" stroke-width="2.6"/>
<text x="729.3" y="1435.0" font-size="30" text-anchor="middle" fill="#1e2236" stroke="#1e2236" stroke-width="0.9">2</text>
<rect x="751.3" y="1405.5" width="45.4" height="37.5" fill="#ffffff" stroke="#5e4ce6" stroke-width="2.6"/>
<text x="775.0" y="1435.0" font-size="30" text-anchor="middle" fill="#1e2236" stroke="#1e2236" stroke-width="0.9">3</text>
<rect x="796.7" y="1405.5" width="44.6" height="37.5" fill="#5c9cf8" stroke="#5e4ce6" stroke-width="2.6"/>
<text x="820.0" y="1435.0" font-size="30" text-anchor="middle" fill="#1e2236" stroke="#1e2236" stroke-width="0.9">4</text>
<rect x="841.3" y="1405.5" width="45.7" height="37.5" fill="#5c9cf8" stroke="#5e4ce6" stroke-width="2.6"/>
<text x="865.15" y="1435.0" font-size="30" text-anchor="middle" fill="#1e2236" stroke="#1e2236" stroke-width="0.9">5</text>
<rect x="887.0" y="1405.5" width="45.5" height="37.5" fill="#5c9cf8" stroke="#5e4ce6" stroke-width="2.6"/>
<text x="910.75" y="1435.0" font-size="30" text-anchor="middle" fill="#1e2236" stroke="#1e2236" stroke-width="0.9">6</text>
<rect x="932.5" y="1405.5" width="46.5" height="37.5" fill="#5c9cf8" stroke="#5e4ce6" stroke-width="2.6"/>
<text x="956.75" y="1435.0" font-size="30" text-anchor="middle" fill="#1e2236" stroke="#1e2236" stroke-width="0.9">7</text>
<text x="636" y="1436.5" font-size="31" text-anchor="middle" fill="#262626" stroke="#262626" stroke-width="0.45">C</text>
<rect x="659.3" y="1468.2" width="46.0" height="37.5" fill="#5c9cf8" stroke="#5e4ce6" stroke-width="2.6"/>
<text x="683.3" y="1497.7" font-size="30" text-anchor="middle" fill="#1e2236" stroke="#1e2236" stroke-width="0.9">1</text>
<rect x="705.3" y="1468.2" width="46.0" height="37.5" fill="#5c9cf8" stroke="#5e4ce6" stroke-width="2.6"/>
<text x="729.3" y="1497.7" font-size="30" text-anchor="middle" fill="#1e2236" stroke="#1e2236" stroke-width="0.9">2</text>
<rect x="751.3" y="1468.2" width="45.4" height="37.5" fill="#5c9cf8" stroke="#5e4ce6" stroke-width="2.6"/>
<text x="775.0" y="1497.7" font-size="30" text-anchor="middle" fill="#1e2236" stroke="#1e2236" stroke-width="0.9">3</text>
<rect x="796.7" y="1468.2" width="44.6" height="37.5" fill="#ffffff" stroke="#5e4ce6" stroke-width="2.6"/>
<text x="820.0" y="1497.7" font-size="30" text-anchor="middle" fill="#1e2236" stroke="#1e2236" stroke-width="0.9">4</text>
<rect x="841.3" y="1468.2" width="45.7" height="37.5" fill="#5c9cf8" stroke="#5e4ce6" stroke-width="2.6"/>
<text x="865.15" y="1497.7" font-size="30" text-anchor="middle" fill="#1e2236" stroke="#1e2236" stroke-width="0.9">5</text>
<rect x="887.0" y="1468.2" width="45.5" height="37.5" fill="#5c9cf8" stroke="#5e4ce6" stroke-width="2.6"/>
<text x="910.75" y="1497.7" font-size="30" text-anchor="middle" fill="#1e2236" stroke="#1e2236" stroke-width="0.9">6</text>
<rect x="932.5" y="1468.2" width="46.5" height="37.5" fill="#5c9cf8" stroke="#5e4ce6" stroke-width="2.6"/>
<text x="956.75" y="1497.7" font-size="30" text-anchor="middle" fill="#1e2236" stroke="#1e2236" stroke-width="0.9">7</text>
<text x="636" y="1499.2" font-size="31" text-anchor="middle" fill="#262626" stroke="#262626" stroke-width="0.45">D</text>
<rect x="659.3" y="1531.4" width="46.0" height="37.5" fill="#5c9cf8" stroke="#5e4ce6" stroke-width="2.6"/>
<text x="683.3" y="1560.9" font-size="30" text-anchor="middle" fill="#1e2236" stroke="#1e2236" stroke-width="0.9">1</text>
<rect x="705.3" y="1531.4" width="46.0" height="37.5" fill="#5c9cf8" stroke="#5e4ce6" stroke-width="2.6"/>
<text x="729.3" y="1560.9" font-size="30" text-anchor="middle" fill="#1e2236" stroke="#1e2236" stroke-width="0.9">2</text>
<rect x="751.3" y="1531.4" width="45.4" height="37.5" fill="#5c9cf8" stroke="#5e4ce6" stroke-width="2.6"/>
<text x="775.0" y="1560.9" font-size="30" text-anchor="middle" fill="#1e2236" stroke="#1e2236" stroke-width="0.9">3</text>
<rect x="796.7" y="1531.4" width="44.6" height="37.5" fill="#5c9cf8" stroke="#5e4ce6" stroke-width="2.6"/>
<text x="820.0" y="1560.9" font-size="30" text-anchor="middle" fill="#1e2236" stroke="#1e2236" stroke-width="0.9">4</text>
<rect x="841.3" y="1531.4" width="45.7" height="37.5" fill="#ffffff" stroke="#5e4ce6" stroke-width="2.6"/>
<text x="865.15" y="1560.9" font-size="30" text-anchor="middle" fill="#1e2236" stroke="#1e2236" stroke-width="0.9">5</text>
<rect x="887.0" y="1531.4" width="45.5" height="37.5" fill="#5c9cf8" stroke="#5e4ce6" stroke-width="2.6"/>
<text x="910.75" y="1560.9" font-size="30" text-anchor="middle" fill="#1e2236" stroke="#1e2236" stroke-width="0.9">6</text>
<rect x="932.5" y="1531.4" width="46.5" height="37.5" fill="#5c9cf8" stroke="#5e4ce6" stroke-width="2.6"/>
<text x="956.75" y="1560.9" font-size="30" text-anchor="middle" fill="#1e2236" stroke="#1e2236" stroke-width="0.9">7</text>
<text x="636" y="1562.4" font-size="31" text-anchor="middle" fill="#262626" stroke="#262626" stroke-width="0.45">E</text>
<rect x="659.3" y="1595.2" width="46.0" height="37.5" fill="#5c9cf8" stroke="#5e4ce6" stroke-width="2.6"/>
<text x="683.3" y="1624.7" font-size="30" text-anchor="middle" fill="#1e2236" stroke="#1e2236" stroke-width="0.9">1</text>
<rect x="705.3" y="1595.2" width="46.0" height="37.5" fill="#5c9cf8" stroke="#5e4ce6" stroke-width="2.6"/>
<text x="729.3" y="1624.7" font-size="30" text-anchor="middle" fill="#1e2236" stroke="#1e2236" stroke-width="0.9">2</text>
<rect x="751.3" y="1595.2" width="45.4" height="37.5" fill="#5c9cf8" stroke="#5e4ce6" stroke-width="2.6"/>
<text x="775.0" y="1624.7" font-size="30" text-anchor="middle" fill="#1e2236" stroke="#1e2236" stroke-width="0.9">3</text>
<rect x="796.7" y="1595.2" width="44.6" height="37.5" fill="#5c9cf8" stroke="#5e4ce6" stroke-width="2.6"/>
<text x="820.0" y="1624.7" font-size="30" text-anchor="middle" fill="#1e2236" stroke="#1e2236" stroke-width="0.9">4</text>
<rect x="841.3" y="1595.2" width="45.7" height="37.5" fill="#5c9cf8" stroke="#5e4ce6" stroke-width="2.6"/>
<text x="865.15" y="1624.7" font-size="30" text-anchor="middle" fill="#1e2236" stroke="#1e2236" stroke-width="0.9">5</text>
<rect x="887.0" y="1595.2" width="45.5" height="37.5" fill="#ffffff" stroke="#5e4ce6" stroke-width="2.6"/>
<text x="910.75" y="1624.7" font-size="30" text-anchor="middle" fill="#1e2236" stroke="#1e2236" stroke-width="0.9">6</text>
<rect x="932.5" y="1595.2" width="46.5" height="37.5" fill="#5c9cf8" stroke="#5e4ce6" stroke-width="2.6"/>
<text x="956.75" y="1624.7" font-size="30" text-anchor="middle" fill="#1e2236" stroke="#1e2236" stroke-width="0.9">7</text>
<text x="636" y="1626.2" font-size="31" text-anchor="middle" fill="#262626" stroke="#262626" stroke-width="0.45">F</text>
<rect x="659.3" y="1656.7" width="46.0" height="37.5" fill="#5c9cf8" stroke="#5e4ce6" stroke-width="2.6"/>
<text x="683.3" y="1686.2" font-size="30" text-anchor="middle" fill="#1e2236" stroke="#1e2236" stroke-width="0.9">1</text>
<rect x="705.3" y="1656.7" width="46.0" height="37.5" fill="#5c9cf8" stroke="#5e4ce6" stroke-width="2.6"/>
<text x="729.3" y="1686.2" font-size="30" text-anchor="middle" fill="#1e2236" stroke="#1e2236" stroke-width="0.9">2</text>
<rect x="751.3" y="1656.7" width="45.4" height="37.5" fill="#5c9cf8" stroke="#5e4ce6" stroke-width="2.6"/>
<text x="775.0" y="1686.2" font-size="30" text-anchor="middle" fill="#1e2236" stroke="#1e2236" stroke-width="0.9">3</text>
<rect x="796.7" y="1656.7" width="44.6" height="37.5" fill="#5c9cf8" stroke="#5e4ce6" stroke-width="2.6"/>
<text x="820.0" y="1686.2" font-size="30" text-anchor="middle" fill="#1e2236" stroke="#1e2236" stroke-width="0.9">4</text>
<rect x="841.3" y="1656.7" width="45.7" height="37.5" fill="#5c9cf8" stroke="#5e4ce6" stroke-width="2.6"/>
<text x="865.15" y="1686.2" font-size="30" text-anchor="middle" fill="#1e2236" stroke="#1e2236" stroke-width="0.9">5</text>
<rect x="887.0" y="1656.7" width="45.5" height="37.5" fill="#5c9cf8" stroke="#5e4ce6" stroke-width="2.6"/>
<text x="910.75" y="1686.2" font-size="30" text-anchor="middle" fill="#1e2236" stroke="#1e2236" stroke-width="0.9">6</text>
<rect x="932.5" y="1656.7" width="46.5" height="37.5" fill="#ffffff" stroke="#5e4ce6" stroke-width="2.6"/>
<text x="956.75" y="1686.2" font-size="30" text-anchor="middle" fill="#1e2236" stroke="#1e2236" stroke-width="0.9">7</text>
<text x="636" y="1687.7" font-size="31" text-anchor="middle" fill="#262626" stroke="#262626" stroke-width="0.45">G</text>
<polyline points="1091.9,981.0 1092.8,981.0 1093.8,981.0 1094.7,981.0 1095.6,981.0 1096.6,981.0 1097.5,981.0 1098.4,981.0 1099.3,981.0 1100.3,981.0 1101.2,981.0 1102.1,981.0 1103.1,981.0 1104.0,981.0 1104.9,981.0 1105.9,981.0 1106.8,981.0 1107.7,981.0 1108.7,981.0 1109.6,981.0 1110.5,981.0 1111.4,981.0 1112.4,981.0 1113.3,981.0 1114.2,981.0 1114.4,981.0 1114.6,981.0 1114.8,981.0 1115.0,981.0 1115.2,981.0 1115.4,981.0 1115.6,981.0 1115.8,981.0 1116.0,981.0 1116.2,981.0 1116.4,981.0 1116.5,981.0 1116.7,981.0 1116.9,981.0 1117.1,981.0 1117.3,981.0 1117.5,981.0 1117.7,981.0 1117.9,981.0 1118.1,981.0 1118.3,981.0 1118.5,981.0 1118.7,981.0 1118.9,981.0 1119.1,981.0 1119.2,981.0 1119.4,981.0 1119.6,980.9 1119.8,980.9 1120.0,980.9 1120.2,980.9 1120.4,980.8 1120.6,980.8 1120.8,980.8 1121.0,980.7 1121.2,980.7 1121.4,980.6 1121.6,980.5 1121.8,980.4 1121.9,980.3 1122.1,980.2 1122.3,980.1 1122.5,980.0 1122.7,979.8 1122.9,979.6 1123.1,979.4 1123.3,979.2 1123.5,978.9 1123.7,978.7 1123.9,978.3 1124.1,978.0 1124.3,977.6 1124.5,977.2 1124.6,976.7 1124.8,976.1 1125.0,975.6 1125.2,974.9 1125.4,974.3 1125.6,973.5 1125.8,972.7 1126.0,971.8 1126.2,970.9 1126.4,969.9 1126.6,968.8 1126.8,967.6 1127.0,966.4 1127.2,965.1 1127.3,963.8 1127.5,962.3 1127.7,960.8 1127.9,959.2 1128.1,957.5 1128.3,955.8 1128.5,954.0 1128.7,952.1 1128.9,950.1 1129.1,947.9 1129.3,945.6 1129.5,943.0 1129.7,940.1 1129.9,936.8 1130.1,933.1 1130.2,929.0 1130.4,924.4 1130.6,919.7 1130.8,914.9 1131.0,910.3 1131.2,906.4 1131.4,903.2 1131.6,901.1 1131.8,900.1 1132.0,900.1 1132.2,900.9 1132.4,902.4 1132.6,904.1 1132.8,905.9 1132.9,907.6 1133.1,909.0 1133.3,910.1 1133.5,910.9 1133.7,911.6 1133.9,912.1 1134.1,912.6 1134.3,913.1 1134.5,913.7 1134.7,914.4 1134.9,915.2 1135.1,916.2 1135.3,917.2 1135.5,918.4 1135.6,919.7 1135.8,921.2 1136.0,922.7 1136.2,924.4 1136.4,926.1 1136.6,927.9 1136.8,929.8 1137.0,931.7 1137.2,933.7 1137.4,935.7 1137.6,937.7 1137.8,939.7 1138.0,941.7 1138.2,943.8 1138.3,945.8 1138.5,947.7 1138.7,949.7 1138.9,951.6 1139.1,953.4 1139.3,955.2 1139.5,957.0 1139.7,958.6 1139.9,960.2 1140.1,961.8 1140.3,963.3 1140.5,964.6 1140.7,966.0 1140.9,967.2 1141.0,968.4 1141.2,969.5 1141.4,970.5 1141.6,971.5 1141.8,972.4 1142.0,973.2 1142.2,974.0 1142.4,974.7 1142.6,975.4 1142.8,975.9 1143.0,976.5 1143.2,977.0 1143.4,977.4 1143.6,977.8 1143.7,978.2 1143.9,978.5 1144.1,978.8 1144.3,979.1 1144.5,979.4 1144.7,979.6 1144.9,979.8 1145.1,979.9 1145.3,980.1 1145.5,980.2 1145.7,980.3 1145.9,980.4 1146.1,980.5 1146.3,980.6 1146.4,980.6 1146.6,980.7 1146.8,980.8 1147.0,980.8 1147.2,980.8 1147.4,980.9 1147.6,980.9 1147.8,980.9 1148.0,980.9 1148.2,980.9 1148.4,981.0 1148.6,981.0 1148.8,981.0 1149.0,981.0 1149.1,981.0 1149.3,981.0 1149.5,981.0 1149.7,981.0 1149.9,981.0 1150.1,981.0 1150.3,981.0 1150.5,981.0 1150.7,981.0 1150.9,981.0 1151.1,981.0 1151.3,981.0 1151.5,981.0 1151.7,981.0 1151.8,981.0 1152.0,981.0 1152.2,981.0 1152.4,981.0 1152.6,981.0 1152.8,981.0 1153.0,981.0 1153.2,981.0 1153.4,981.0 1153.6,981.0 1153.8,981.0 1154.0,981.0 1154.2,981.0 1154.4,981.0 1154.5,981.0 1154.7,981.0 1154.9,981.0 1155.1,981.0 1155.3,981.0 1155.5,981.0 1155.7,981.0 1155.9,981.0 1156.1,981.0 1156.3,981.0 1156.5,981.0 1166.4,981.0 1176.3,981.0 1186.2,981.0 1196.1,981.0 1206.0,981.0 1215.9,981.0 1225.8,981.0 1235.7,981.0 1245.6,981.0 1255.5,981.0 1265.4,981.0 1275.3,981.0 1285.2,981.0 1295.1,981.0 1305.0,981.0 1314.9,981.0 1324.8,981.0 1334.7,981.0 1344.6,981.0 1354.5,981.0 1364.4,981.0 1374.3,981.0 1384.2,981.0 1394.1,981.0 1404.1,981.0 1414.0,981.0 1423.9,981.0 1433.8,981.0 1443.7,981.0 1453.6,981.0 1463.5,981.0 1473.4,981.0 1483.3,981.0 1493.2,981.0 1503.1,981.0 1513.0,981.0 1522.9,981.0 1532.8,981.0 1542.7,981.0" fill="none" stroke="#d8503e" stroke-width="2.4" stroke-linejoin="round"/>
<rect x="1091" y="884.5" width="452.6" height="110.2" fill="none" stroke="#3c3c3c" stroke-width="2.4"/>
<line x1="1091" y1="982.5" x2="1098" y2="982.5" stroke="#3c3c3c" stroke-width="2"/>
<text x="1088" y="990.5142857142856" font-size="25" text-anchor="end" fill="#262626" stroke="#262626" stroke-width="0.45">0.0</text>
<line x1="1091" y1="945.5" x2="1098" y2="945.5" stroke="#3c3c3c" stroke-width="2"/>
<text x="1088" y="953.5142857142856" font-size="25" text-anchor="end" fill="#262626" stroke="#262626" stroke-width="0.45">0.5</text>
<line x1="1091" y1="908.5" x2="1098" y2="908.5" stroke="#3c3c3c" stroke-width="2"/>
<text x="1088" y="916.5142857142856" font-size="25" text-anchor="end" fill="#262626" stroke="#262626" stroke-width="0.45">1.0</text>
<line x1="1091" y1="964.0" x2="1095" y2="964.0" stroke="#3c3c3c" stroke-width="1.5"/>
<line x1="1091" y1="927.0" x2="1095" y2="927.0" stroke="#3c3c3c" stroke-width="1.5"/>
<line x1="1091" y1="890.0" x2="1095" y2="890.0" stroke="#3c3c3c" stroke-width="1.5"/>
<polyline points="1091.9,1091.2 1095.2,1091.2 1098.5,1091.2 1101.8,1091.2 1105.1,1091.2 1108.4,1091.2 1111.7,1091.2 1115.0,1091.2 1118.3,1091.2 1121.6,1091.2 1124.8,1091.2 1128.1,1091.2 1131.4,1091.2 1134.7,1091.2 1138.0,1091.2 1141.3,1091.2 1144.6,1091.2 1147.9,1091.2 1151.2,1091.2 1154.5,1091.2 1157.8,1091.2 1161.1,1091.2 1164.4,1091.2 1167.7,1091.2 1171.0,1091.2 1171.2,1091.2 1171.3,1091.2 1171.5,1091.2 1171.7,1091.2 1171.9,1091.2 1172.1,1091.2 1172.3,1091.2 1172.5,1091.2 1172.7,1091.2 1172.9,1091.2 1173.1,1091.2 1173.3,1091.2 1173.5,1091.2 1173.7,1091.2 1173.9,1091.2 1174.0,1091.2 1174.2,1091.2 1174.4,1091.2 1174.6,1091.2 1174.8,1091.2 1175.0,1091.2 1175.2,1091.2 1175.4,1091.2 1175.6,1091.2 1175.8,1091.2 1176.0,1091.2 1176.2,1091.2 1176.4,1091.2 1176.6,1091.1 1176.7,1091.1 1176.9,1091.1 1177.1,1091.1 1177.3,1091.0 1177.5,1091.0 1177.7,1090.9 1177.9,1090.9 1178.1,1090.8 1178.3,1090.7 1178.5,1090.7 1178.7,1090.6 1178.9,1090.5 1179.1,1090.3 1179.3,1090.2 1179.4,1090.0 1179.6,1089.8 1179.8,1089.6 1180.0,1089.4 1180.2,1089.2 1180.4,1088.9 1180.6,1088.6 1180.8,1088.2 1181.0,1087.8 1181.2,1087.4 1181.4,1086.9 1181.6,1086.4 1181.8,1085.8 1182.0,1085.2 1182.1,1084.5 1182.3,1083.7 1182.5,1082.9 1182.7,1082.0 1182.9,1081.1 1183.1,1080.1 1183.3,1079.0 1183.5,1077.9 1183.7,1076.6 1183.9,1075.3 1184.1,1074.0 1184.3,1072.5 1184.5,1071.0 1184.7,1069.4 1184.8,1067.8 1185.0,1066.0 1185.2,1064.2 1185.4,1062.3 1185.6,1060.3 1185.8,1058.2 1186.0,1055.8 1186.2,1053.2 1186.4,1050.3 1186.6,1047.0 1186.8,1043.3 1187.0,1039.2 1187.2,1034.6 1187.4,1029.9 1187.5,1025.1 1187.7,1020.6 1187.9,1016.6 1188.1,1013.4 1188.3,1011.3 1188.5,1010.3 1188.7,1010.3 1188.9,1011.1 1189.1,1012.6 1189.3,1014.3 1189.5,1016.1 1189.7,1017.8 1189.9,1019.2 1190.1,1020.3 1190.2,1021.2 1190.4,1021.8 1190.6,1022.4 1190.8,1022.8 1191.0,1023.4 1191.2,1023.9 1191.4,1024.6 1191.6,1025.4 1191.8,1026.4 1192.0,1027.4 1192.2,1028.6 1192.4,1030.0 1192.6,1031.4 1192.8,1032.9 1192.9,1034.6 1193.1,1036.3 1193.3,1038.1 1193.5,1040.0 1193.7,1041.9 1193.9,1043.9 1194.1,1045.9 1194.3,1047.9 1194.5,1049.9 1194.7,1052.0 1194.9,1054.0 1195.1,1056.0 1195.3,1058.0 1195.5,1059.9 1195.6,1061.8 1195.8,1063.6 1196.0,1065.4 1196.2,1067.2 1196.4,1068.8 1196.6,1070.5 1196.8,1072.0 1197.0,1073.5 1197.2,1074.9 1197.4,1076.2 1197.6,1077.4 1197.8,1078.6 1198.0,1079.7 1198.2,1080.7 1198.3,1081.7 1198.5,1082.6 1198.7,1083.4 1198.9,1084.2 1199.1,1084.9 1199.3,1085.6 1199.5,1086.2 1199.7,1086.7 1199.9,1087.2 1200.1,1087.7 1200.3,1088.1 1200.5,1088.4 1200.7,1088.8 1200.9,1089.1 1201.0,1089.3 1201.2,1089.6 1201.4,1089.8 1201.6,1090.0 1201.8,1090.1 1202.0,1090.3 1202.2,1090.4 1202.4,1090.5 1202.6,1090.6 1202.8,1090.7 1203.0,1090.8 1203.2,1090.9 1203.4,1090.9 1203.6,1091.0 1203.8,1091.0 1203.9,1091.0 1204.1,1091.1 1204.3,1091.1 1204.5,1091.1 1204.7,1091.1 1204.9,1091.2 1205.1,1091.2 1205.3,1091.2 1205.5,1091.2 1205.7,1091.2 1205.9,1091.2 1206.1,1091.2 1206.3,1091.2 1206.5,1091.2 1206.6,1091.2 1206.8,1091.2 1207.0,1091.2 1207.2,1091.2 1207.4,1091.2 1207.6,1091.2 1207.8,1091.2 1208.0,1091.2 1208.2,1091.2 1208.4,1091.2 1208.6,1091.2 1208.8,1091.2 1209.0,1091.2 1209.2,1091.2 1209.3,1091.2 1209.5,1091.2 1209.7,1091.2 1209.9,1091.2 1210.1,1091.2 1210.3,1091.2 1210.5,1091.2 1210.7,1091.2 1210.9,1091.2 1211.1,1091.2 1211.3,1091.2 1211.5,1091.2 1211.7,1091.2 1211.9,1091.2 1212.0,1091.2 1212.2,1091.2 1212.4,1091.2 1212.6,1091.2 1212.8,1091.2 1213.0,1091.2 1213.2,1091.2 1221.7,1091.2 1230.1,1091.2 1238.5,1091.2 1247.0,1091.2 1255.4,1091.2 1263.9,1091.2 1272.3,1091.2 1280.8,1091.2 1289.2,1091.2 1297.7,1091.2 1306.1,1091.2 1314.6,1091.2 1323.0,1091.2 1331.5,1091.2 1339.9,1091.2 1348.4,1091.2 1356.8,1091.2 1365.3,1091.2 1373.7,1091.2 1382.2,1091.2 1390.6,1091.2 1399.1,1091.2 1407.5,1091.2 1416.0,1091.2 1424.4,1091.2 1432.9,1091.2 1441.3,1091.2 1449.8,1091.2 1458.2,1091.2 1466.7,1091.2 1475.1,1091.2 1483.6,1091.2 1492.0,1091.2 1500.5,1091.2 1508.9,1091.2 1517.3,1091.2 1525.8,1091.2 1534.2,1091.2 1542.7,1091.2" fill="none" stroke="#d8503e" stroke-width="2.4" stroke-linejoin="round"/>
<rect x="1091" y="994.7" width="452.6" height="110.2" fill="none" stroke="#3c3c3c" stroke-width="2.4"/>
<line x1="1091" y1="1092.7" x2="1098" y2="1092.7" stroke="#3c3c3c" stroke-width="2"/>
<text x="1088" y="1100.7285714285713" font-size="25" text-anchor="end" fill="#262626" stroke="#262626" stroke-width="0.45">0.0</text>
<line x1="1091" y1="1055.7" x2="1098" y2="1055.7" stroke="#3c3c3c" stroke-width="2"/>
<text x="1088" y="1063.7285714285713" font-size="25" text-anchor="end" fill="#262626" stroke="#262626" stroke-width="0.45">0.5</text>
<line x1="1091" y1="1018.7" x2="1098" y2="1018.7" stroke="#3c3c3c" stroke-width="2"/>
<text x="1088" y="1026.7285714285713" font-size="25" text-anchor="end" fill="#262626" stroke="#262626" stroke-width="0.45">1.0</text>
<line x1="1091" y1="1074.2" x2="1095" y2="1074.2" stroke="#3c3c3c" stroke-width="1.5"/>
<line x1="1091" y1="1037.2" x2="1095" y2="1037.2" stroke="#3c3c3c" stroke-width="1.5"/>
<line x1="1091" y1="1000.2" x2="1095" y2="1000.2" stroke="#3c3c3c" stroke-width="1.5"/>
<polyline points="1091.9,1201.5 1097.8,1201.5 1103.8,1201.5 1109.7,1201.5 1115.6,1201.5 1121.6,1201.5 1127.5,1201.5 1133.4,1201.5 1139.4,1201.5 1145.3,1201.5 1151.2,1201.5 1157.2,1201.5 1163.1,1201.5 1169.0,1201.5 1175.0,1201.5 1180.9,1201.5 1186.9,1201.5 1192.8,1201.5 1198.7,1201.5 1204.7,1201.5 1210.6,1201.5 1216.5,1201.5 1222.5,1201.5 1228.4,1201.5 1234.3,1201.5 1234.5,1201.5 1234.7,1201.5 1234.9,1201.5 1235.1,1201.5 1235.3,1201.5 1235.5,1201.5 1235.7,1201.5 1235.9,1201.5 1236.1,1201.5 1236.3,1201.5 1236.4,1201.5 1236.6,1201.5 1236.8,1201.5 1237.0,1201.5 1237.2,1201.5 1237.4,1201.5 1237.6,1201.5 1237.8,1201.4 1238.0,1201.4 1238.2,1201.4 1238.4,1201.4 1238.6,1201.4 1238.8,1201.4 1239.0,1201.4 1239.1,1201.4 1239.3,1201.4 1239.5,1201.4 1239.7,1201.4 1239.9,1201.3 1240.1,1201.3 1240.3,1201.3 1240.5,1201.3 1240.7,1201.2 1240.9,1201.2 1241.1,1201.1 1241.3,1201.1 1241.5,1201.0 1241.7,1201.0 1241.8,1200.9 1242.0,1200.8 1242.2,1200.7 1242.4,1200.5 1242.6,1200.4 1242.8,1200.2 1243.0,1200.1 1243.2,1199.9 1243.4,1199.6 1243.6,1199.4 1243.8,1199.1 1244.0,1198.8 1244.2,1198.4 1244.4,1198.0 1244.5,1197.6 1244.7,1197.1 1244.9,1196.6 1245.1,1196.0 1245.3,1195.4 1245.5,1194.7 1245.7,1193.9 1245.9,1193.1 1246.1,1192.3 1246.3,1191.3 1246.5,1190.3 1246.7,1189.2 1246.9,1188.1 1247.1,1186.9 1247.2,1185.6 1247.4,1184.2 1247.6,1182.7 1247.8,1181.2 1248.0,1179.6 1248.2,1178.0 1248.4,1176.2 1248.6,1174.4 1248.8,1172.5 1249.0,1170.5 1249.2,1168.4 1249.4,1166.0 1249.6,1163.4 1249.8,1160.5 1249.9,1157.3 1250.1,1153.5 1250.3,1149.4 1250.5,1144.9 1250.7,1140.1 1250.9,1135.3 1251.1,1130.8 1251.3,1126.8 1251.5,1123.7 1251.7,1121.5 1251.9,1120.5 1252.1,1120.5 1252.3,1121.3 1252.5,1122.8 1252.6,1124.5 1252.8,1126.3 1253.0,1128.0 1253.2,1129.4 1253.4,1130.5 1253.6,1131.4 1253.8,1132.0 1254.0,1132.6 1254.2,1133.1 1254.4,1133.6 1254.6,1134.2 1254.8,1134.8 1255.0,1135.6 1255.2,1136.6 1255.3,1137.6 1255.5,1138.8 1255.7,1140.2 1255.9,1141.6 1256.1,1143.2 1256.3,1144.8 1256.5,1146.5 1256.7,1148.3 1256.9,1150.2 1257.1,1152.1 1257.3,1154.1 1257.5,1156.1 1257.7,1158.1 1257.9,1160.1 1258.0,1162.2 1258.2,1164.2 1258.4,1166.2 1258.6,1168.2 1258.8,1170.1 1259.0,1172.0 1259.2,1173.9 1259.4,1175.6 1259.6,1177.4 1259.8,1179.1 1260.0,1180.7 1260.2,1182.2 1260.4,1183.7 1260.6,1185.1 1260.7,1186.4 1260.9,1187.6 1261.1,1188.8 1261.3,1189.9 1261.5,1191.0 1261.7,1191.9 1261.9,1192.8 1262.1,1193.7 1262.3,1194.4 1262.5,1195.1 1262.7,1195.8 1262.9,1196.4 1263.1,1196.9 1263.3,1197.4 1263.4,1197.9 1263.6,1198.3 1263.8,1198.6 1264.0,1199.0 1264.2,1199.3 1264.4,1199.5 1264.6,1199.8 1264.8,1200.0 1265.0,1200.2 1265.2,1200.3 1265.4,1200.5 1265.6,1200.6 1265.8,1200.7 1266.0,1200.8 1266.1,1200.9 1266.3,1201.0 1266.5,1201.1 1266.7,1201.1 1266.9,1201.2 1267.1,1201.2 1267.3,1201.3 1267.5,1201.3 1267.7,1201.3 1267.9,1201.3 1268.1,1201.4 1268.3,1201.4 1268.5,1201.4 1268.7,1201.4 1268.9,1201.4 1269.0,1201.4 1269.2,1201.4 1269.4,1201.4 1269.6,1201.4 1269.8,1201.4 1270.0,1201.4 1270.2,1201.5 1270.4,1201.5 1270.6,1201.5 1270.8,1201.5 1271.0,1201.5 1271.2,1201.5 1271.4,1201.5 1271.6,1201.5 1271.7,1201.5 1271.9,1201.5 1272.1,1201.5 1272.3,1201.5 1272.5,1201.5 1272.7,1201.5 1272.9,1201.5 1273.1,1201.5 1273.3,1201.5 1273.5,1201.5 1273.7,1201.5 1273.9,1201.5 1274.1,1201.5 1274.3,1201.5 1274.4,1201.5 1274.6,1201.5 1274.8,1201.5 1275.0,1201.5 1275.2,1201.5 1275.4,1201.5 1275.6,1201.5 1275.8,1201.5 1276.0,1201.5 1276.2,1201.5 1276.4,1201.5 1276.6,1201.5 1283.4,1201.5 1290.2,1201.5 1297.0,1201.5 1303.9,1201.5 1310.7,1201.5 1317.5,1201.5 1324.3,1201.5 1331.2,1201.5 1338.0,1201.5 1344.8,1201.5 1351.6,1201.5 1358.5,1201.5 1365.3,1201.5 1372.1,1201.5 1378.9,1201.5 1385.7,1201.5 1392.6,1201.5 1399.4,1201.5 1406.2,1201.5 1413.0,1201.5 1419.9,1201.5 1426.7,1201.5 1433.5,1201.5 1440.3,1201.5 1447.2,1201.5 1454.0,1201.5 1460.8,1201.5 1467.6,1201.5 1474.5,1201.5 1481.3,1201.5 1488.1,1201.5 1494.9,1201.5 1501.8,1201.5 1508.6,1201.5 1515.4,1201.5 1522.2,1201.5 1529.0,1201.5 1535.9,1201.5 1542.7,1201.5" fill="none" stroke="#d8503e" stroke-width="2.4" stroke-linejoin="round"/>
<rect x="1091" y="1104.9" width="452.6" height="110.2" fill="none" stroke="#3c3c3c" stroke-width="2.4"/>
<line x1="1091" y1="1202.9" x2="1098" y2="1202.9" stroke="#3c3c3c" stroke-width="2"/>
<text x="1088" y="1210.942857142857" font-size="25" text-anchor="end" fill="#262626" stroke="#262626" stroke-width="0.45">0.0</text>
<line x1="1091" y1="1165.9" x2="1098" y2="1165.9" stroke="#3c3c3c" stroke-width="2"/>
<text x="1088" y="1173.942857142857" font-size="25" text-anchor="end" fill="#262626" stroke="#262626" stroke-width="0.45">0.5</text>
<line x1="1091" y1="1128.9" x2="1098" y2="1128.9" stroke="#3c3c3c" stroke-width="2"/>
<text x="1088" y="1136.942857142857" font-size="25" text-anchor="end" fill="#262626" stroke="#262626" stroke-width="0.45">1.0</text>
<line x1="1091" y1="1184.4" x2="1095" y2="1184.4" stroke="#3c3c3c" stroke-width="1.5"/>
<line x1="1091" y1="1147.4" x2="1095" y2="1147.4" stroke="#3c3c3c" stroke-width="1.5"/>
<line x1="1091" y1="1110.4" x2="1095" y2="1110.4" stroke="#3c3c3c" stroke-width="1.5"/>
<polyline points="1091.9,1311.7 1100.4,1311.7 1108.9,1311.7 1117.3,1311.7 1125.8,1311.7 1134.3,1311.7 1142.7,1311.7 1151.2,1311.7 1159.7,1311.7 1168.2,1311.7 1176.6,1311.7 1185.1,1311.7 1193.6,1311.7 1202.1,1311.7 1210.5,1311.7 1219.0,1311.7 1227.5,1311.7 1236.0,1311.7 1244.4,1311.7 1252.9,1311.7 1261.4,1311.7 1269.9,1311.7 1278.3,1311.7 1286.8,1311.7 1295.3,1311.7 1295.5,1311.7 1295.7,1311.7 1295.9,1311.7 1296.0,1311.7 1296.2,1311.7 1296.4,1311.7 1296.6,1311.7 1296.8,1311.7 1297.0,1311.7 1297.2,1311.7 1297.4,1311.7 1297.6,1311.7 1297.8,1311.7 1298.0,1311.7 1298.2,1311.7 1298.4,1311.7 1298.6,1311.7 1298.7,1311.7 1298.9,1311.7 1299.1,1311.7 1299.3,1311.7 1299.5,1311.6 1299.7,1311.6 1299.9,1311.6 1300.1,1311.6 1300.3,1311.6 1300.5,1311.6 1300.7,1311.6 1300.9,1311.6 1301.1,1311.5 1301.3,1311.5 1301.4,1311.5 1301.6,1311.5 1301.8,1311.4 1302.0,1311.4 1302.2,1311.3 1302.4,1311.2 1302.6,1311.2 1302.8,1311.1 1303.0,1311.0 1303.2,1310.9 1303.4,1310.8 1303.6,1310.6 1303.8,1310.5 1304.0,1310.3 1304.1,1310.1 1304.3,1309.8 1304.5,1309.6 1304.7,1309.3 1304.9,1309.0 1305.1,1308.6 1305.3,1308.2 1305.5,1307.8 1305.7,1307.3 1305.9,1306.8 1306.1,1306.2 1306.3,1305.6 1306.5,1304.9 1306.7,1304.2 1306.8,1303.3 1307.0,1302.5 1307.2,1301.5 1307.4,1300.5 1307.6,1299.4 1307.8,1298.3 1308.0,1297.1 1308.2,1295.8 1308.4,1294.4 1308.6,1293.0 1308.8,1291.4 1309.0,1289.9 1309.2,1288.2 1309.4,1286.5 1309.5,1284.6 1309.7,1282.7 1309.9,1280.7 1310.1,1278.6 1310.3,1276.2 1310.5,1273.7 1310.7,1270.8 1310.9,1267.5 1311.1,1263.8 1311.3,1259.6 1311.5,1255.1 1311.7,1250.3 1311.9,1245.5 1312.1,1241.0 1312.2,1237.0 1312.4,1233.9 1312.6,1231.7 1312.8,1230.7 1313.0,1230.7 1313.2,1231.6 1313.4,1233.0 1313.6,1234.7 1313.8,1236.5 1314.0,1238.2 1314.2,1239.6 1314.4,1240.7 1314.6,1241.6 1314.8,1242.2 1314.9,1242.8 1315.1,1243.3 1315.3,1243.8 1315.5,1244.4 1315.7,1245.1 1315.9,1245.9 1316.1,1246.8 1316.3,1247.9 1316.5,1249.1 1316.7,1250.4 1316.9,1251.8 1317.1,1253.4 1317.3,1255.0 1317.5,1256.7 1317.6,1258.5 1317.8,1260.4 1318.0,1262.3 1318.2,1264.3 1318.4,1266.3 1318.6,1268.3 1318.8,1270.4 1319.0,1272.4 1319.2,1274.4 1319.4,1276.4 1319.6,1278.4 1319.8,1280.3 1320.0,1282.2 1320.2,1284.1 1320.3,1285.9 1320.5,1287.6 1320.7,1289.3 1320.9,1290.9 1321.1,1292.4 1321.3,1293.9 1321.5,1295.3 1321.7,1296.6 1321.9,1297.9 1322.1,1299.0 1322.3,1300.1 1322.5,1301.2 1322.7,1302.1 1322.9,1303.0 1323.0,1303.9 1323.2,1304.6 1323.4,1305.3 1323.6,1306.0 1323.8,1306.6 1324.0,1307.1 1324.2,1307.6 1324.4,1308.1 1324.6,1308.5 1324.8,1308.9 1325.0,1309.2 1325.2,1309.5 1325.4,1309.8 1325.6,1310.0 1325.7,1310.2 1325.9,1310.4 1326.1,1310.6 1326.3,1310.7 1326.5,1310.8 1326.7,1311.0 1326.9,1311.1 1327.1,1311.1 1327.3,1311.2 1327.5,1311.3 1327.7,1311.3 1327.9,1311.4 1328.1,1311.4 1328.3,1311.5 1328.5,1311.5 1328.6,1311.5 1328.8,1311.6 1329.0,1311.6 1329.2,1311.6 1329.4,1311.6 1329.6,1311.6 1329.8,1311.6 1330.0,1311.6 1330.2,1311.6 1330.4,1311.6 1330.6,1311.7 1330.8,1311.7 1331.0,1311.7 1331.2,1311.7 1331.3,1311.7 1331.5,1311.7 1331.7,1311.7 1331.9,1311.7 1332.1,1311.7 1332.3,1311.7 1332.5,1311.7 1332.7,1311.7 1332.9,1311.7 1333.1,1311.7 1333.3,1311.7 1333.5,1311.7 1333.7,1311.7 1333.9,1311.7 1334.0,1311.7 1334.2,1311.7 1334.4,1311.7 1334.6,1311.7 1334.8,1311.7 1335.0,1311.7 1335.2,1311.7 1335.4,1311.7 1335.6,1311.7 1335.8,1311.7 1336.0,1311.7 1336.2,1311.7 1336.4,1311.7 1336.6,1311.7 1336.7,1311.7 1336.9,1311.7 1337.1,1311.7 1337.3,1311.7 1337.5,1311.7 1342.8,1311.7 1348.0,1311.7 1353.3,1311.7 1358.6,1311.7 1363.8,1311.7 1369.1,1311.7 1374.3,1311.7 1379.6,1311.7 1384.9,1311.7 1390.1,1311.7 1395.4,1311.7 1400.6,1311.7 1405.9,1311.7 1411.2,1311.7 1416.4,1311.7 1421.7,1311.7 1427.0,1311.7 1432.2,1311.7 1437.5,1311.7 1442.7,1311.7 1448.0,1311.7 1453.3,1311.7 1458.5,1311.7 1463.8,1311.7 1469.0,1311.7 1474.3,1311.7 1479.6,1311.7 1484.8,1311.7 1490.1,1311.7 1495.3,1311.7 1500.6,1311.7 1505.9,1311.7 1511.1,1311.7 1516.4,1311.7 1521.7,1311.7 1526.9,1311.7 1532.2,1311.7 1537.4,1311.7 1542.7,1311.7" fill="none" stroke="#d8503e" stroke-width="2.4" stroke-linejoin="round"/>
<rect x="1091" y="1215.1" width="452.6" height="110.2" fill="none" stroke="#3c3c3c" stroke-width="2.4"/>
<line x1="1091" y1="1313.2" x2="1098" y2="1313.2" stroke="#3c3c3c" stroke-width="2"/>
<text x="1088" y="1321.1571428571428" font-size="25" text-anchor="end" fill="#262626" stroke="#262626" stroke-width="0.45">0.0</text>
<line x1="1091" y1="1276.2" x2="1098" y2="1276.2" stroke="#3c3c3c" stroke-width="2"/>
<text x="1088" y="1284.1571428571428" font-size="25" text-anchor="end" fill="#262626" stroke="#262626" stroke-width="0.45">0.5</text>
<line x1="1091" y1="1239.2" x2="1098" y2="1239.2" stroke="#3c3c3c" stroke-width="2"/>
<text x="1088" y="1247.1571428571428" font-size="25" text-anchor="end" fill="#262626" stroke="#262626" stroke-width="0.45">1.0</text>
<line x1="1091" y1="1294.7" x2="1095" y2="1294.7" stroke="#3c3c3c" stroke-width="1.5"/>
<line x1="1091" y1="1257.7" x2="1095" y2="1257.7" stroke="#3c3c3c" stroke-width="1.5"/>
<line x1="1091" y1="1220.7" x2="1095" y2="1220.7" stroke="#3c3c3c" stroke-width="1.5"/>
<polyline points="1091.9,1421.9 1103.0,1421.9 1114.0,1421.9 1125.1,1421.9 1136.1,1421.9 1147.2,1421.9 1158.2,1421.9 1169.3,1421.9 1180.3,1421.9 1191.4,1421.9 1202.4,1421.9 1213.5,1421.9 1224.5,1421.9 1235.6,1421.9 1246.6,1421.9 1257.7,1421.9 1268.7,1421.9 1279.8,1421.9 1290.8,1421.9 1301.9,1421.9 1312.9,1421.9 1324.0,1421.9 1335.0,1421.9 1346.1,1421.9 1357.1,1421.9 1357.3,1421.9 1357.5,1421.9 1357.7,1421.9 1357.9,1421.9 1358.1,1421.9 1358.3,1421.9 1358.5,1421.9 1358.7,1421.9 1358.9,1421.9 1359.1,1421.9 1359.3,1421.9 1359.4,1421.9 1359.6,1421.9 1359.8,1421.9 1360.0,1421.9 1360.2,1421.9 1360.4,1421.9 1360.6,1421.9 1360.8,1421.9 1361.0,1421.9 1361.2,1421.9 1361.4,1421.9 1361.6,1421.9 1361.8,1421.8 1362.0,1421.8 1362.1,1421.8 1362.3,1421.8 1362.5,1421.8 1362.7,1421.8 1362.9,1421.8 1363.1,1421.7 1363.3,1421.7 1363.5,1421.7 1363.7,1421.6 1363.9,1421.6 1364.1,1421.5 1364.3,1421.5 1364.5,1421.4 1364.7,1421.3 1364.8,1421.2 1365.0,1421.1 1365.2,1421.0 1365.4,1420.8 1365.6,1420.7 1365.8,1420.5 1366.0,1420.3 1366.2,1420.1 1366.4,1419.8 1366.6,1419.5 1366.8,1419.2 1367.0,1418.8 1367.2,1418.4 1367.4,1418.0 1367.5,1417.5 1367.7,1417.0 1367.9,1416.4 1368.1,1415.8 1368.3,1415.1 1368.5,1414.4 1368.7,1413.6 1368.9,1412.7 1369.1,1411.7 1369.3,1410.7 1369.5,1409.7 1369.7,1408.5 1369.9,1407.3 1370.1,1406.0 1370.2,1404.6 1370.4,1403.2 1370.6,1401.7 1370.8,1400.1 1371.0,1398.4 1371.2,1396.7 1371.4,1394.9 1371.6,1393.0 1371.8,1390.9 1372.0,1388.8 1372.2,1386.5 1372.4,1383.9 1372.6,1381.0 1372.8,1377.7 1372.9,1374.0 1373.1,1369.8 1373.3,1365.3 1373.5,1360.5 1373.7,1355.7 1373.9,1351.2 1374.1,1347.2 1374.3,1344.1 1374.5,1342.0 1374.7,1340.9 1374.9,1340.9 1375.1,1341.8 1375.3,1343.2 1375.5,1345.0 1375.6,1346.8 1375.8,1348.4 1376.0,1349.8 1376.2,1350.9 1376.4,1351.8 1376.6,1352.5 1376.8,1353.0 1377.0,1353.5 1377.2,1354.0 1377.4,1354.6 1377.6,1355.3 1377.8,1356.1 1378.0,1357.0 1378.2,1358.1 1378.3,1359.3 1378.5,1360.6 1378.7,1362.0 1378.9,1363.6 1379.1,1365.2 1379.3,1367.0 1379.5,1368.8 1379.7,1370.6 1379.9,1372.6 1380.1,1374.5 1380.3,1376.5 1380.5,1378.5 1380.7,1380.6 1380.9,1382.6 1381.0,1384.6 1381.2,1386.6 1381.4,1388.6 1381.6,1390.5 1381.8,1392.4 1382.0,1394.3 1382.2,1396.1 1382.4,1397.8 1382.6,1399.5 1382.8,1401.1 1383.0,1402.6 1383.2,1404.1 1383.4,1405.5 1383.6,1406.8 1383.7,1408.1 1383.9,1409.3 1384.1,1410.4 1384.3,1411.4 1384.5,1412.4 1384.7,1413.3 1384.9,1414.1 1385.1,1414.9 1385.3,1415.6 1385.5,1416.2 1385.7,1416.8 1385.9,1417.4 1386.1,1417.8 1386.3,1418.3 1386.4,1418.7 1386.6,1419.1 1386.8,1419.4 1387.0,1419.7 1387.2,1420.0 1387.4,1420.2 1387.6,1420.4 1387.8,1420.6 1388.0,1420.8 1388.2,1420.9 1388.4,1421.1 1388.6,1421.2 1388.8,1421.3 1389.0,1421.4 1389.1,1421.4 1389.3,1421.5 1389.5,1421.6 1389.7,1421.6 1389.9,1421.7 1390.1,1421.7 1390.3,1421.7 1390.5,1421.7 1390.7,1421.8 1390.9,1421.8 1391.1,1421.8 1391.3,1421.8 1391.5,1421.8 1391.7,1421.8 1391.8,1421.9 1392.0,1421.9 1392.2,1421.9 1392.4,1421.9 1392.6,1421.9 1392.8,1421.9 1393.0,1421.9 1393.2,1421.9 1393.4,1421.9 1393.6,1421.9 1393.8,1421.9 1394.0,1421.9 1394.2,1421.9 1394.4,1421.9 1394.5,1421.9 1394.7,1421.9 1394.9,1421.9 1395.1,1421.9 1395.3,1421.9 1395.5,1421.9 1395.7,1421.9 1395.9,1421.9 1396.1,1421.9 1396.3,1421.9 1396.5,1421.9 1396.7,1421.9 1396.9,1421.9 1397.1,1421.9 1397.2,1421.9 1397.4,1421.9 1397.6,1421.9 1397.8,1421.9 1398.0,1421.9 1398.2,1421.9 1398.4,1421.9 1398.6,1421.9 1398.8,1421.9 1399.0,1421.9 1399.2,1421.9 1399.4,1421.9 1403.0,1421.9 1406.7,1421.9 1410.4,1421.9 1414.1,1421.9 1417.7,1421.9 1421.4,1421.9 1425.1,1421.9 1428.8,1421.9 1432.4,1421.9 1436.1,1421.9 1439.8,1421.9 1443.5,1421.9 1447.1,1421.9 1450.8,1421.9 1454.5,1421.9 1458.2,1421.9 1461.8,1421.9 1465.5,1421.9 1469.2,1421.9 1472.9,1421.9 1476.5,1421.9 1480.2,1421.9 1483.9,1421.9 1487.6,1421.9 1491.2,1421.9 1494.9,1421.9 1498.6,1421.9 1502.3,1421.9 1505.9,1421.9 1509.6,1421.9 1513.3,1421.9 1517.0,1421.9 1520.6,1421.9 1524.3,1421.9 1528.0,1421.9 1531.7,1421.9 1535.3,1421.9 1539.0,1421.9 1542.7,1421.9" fill="none" stroke="#d8503e" stroke-width="2.4" stroke-linejoin="round"/>
<rect x="1091" y="1325.4" width="452.6" height="110.2" fill="none" stroke="#3c3c3c" stroke-width="2.4"/>
<line x1="1091" y1="1423.4" x2="1098" y2="1423.4" stroke="#3c3c3c" stroke-width="2"/>
<text x="1088" y="1431.3714285714286" font-size="25" text-anchor="end" fill="#262626" stroke="#262626" stroke-width="0.45">0.0</text>
<line x1="1091" y1="1386.4" x2="1098" y2="1386.4" stroke="#3c3c3c" stroke-width="2"/>
<text x="1088" y="1394.3714285714286" font-size="25" text-anchor="end" fill="#262626" stroke="#262626" stroke-width="0.45">0.5</text>
<line x1="1091" y1="1349.4" x2="1098" y2="1349.4" stroke="#3c3c3c" stroke-width="2"/>
<text x="1088" y="1357.3714285714286" font-size="25" text-anchor="end" fill="#262626" stroke="#262626" stroke-width="0.45">1.0</text>
<line x1="1091" y1="1404.9" x2="1095" y2="1404.9" stroke="#3c3c3c" stroke-width="1.5"/>
<line x1="1091" y1="1367.9" x2="1095" y2="1367.9" stroke="#3c3c3c" stroke-width="1.5"/>
<line x1="1091" y1="1330.9" x2="1095" y2="1330.9" stroke="#3c3c3c" stroke-width="1.5"/>
<polyline points="1091.9,1532.1 1105.5,1532.1 1119.0,1532.1 1132.6,1532.1 1146.2,1532.1 1159.7,1532.1 1173.3,1532.1 1186.9,1532.1 1200.4,1532.1 1214.0,1532.1 1227.6,1532.1 1241.1,1532.1 1254.7,1532.1 1268.3,1532.1 1281.8,1532.1 1295.4,1532.1 1309.0,1532.1 1322.5,1532.1 1336.1,1532.1 1349.6,1532.1 1363.2,1532.1 1376.8,1532.1 1390.3,1532.1 1403.9,1532.1 1417.5,1532.1 1417.7,1532.1 1417.9,1532.1 1418.1,1532.1 1418.2,1532.1 1418.4,1532.1 1418.6,1532.1 1418.8,1532.1 1419.0,1532.1 1419.2,1532.1 1419.4,1532.1 1419.6,1532.1 1419.8,1532.1 1420.0,1532.1 1420.2,1532.1 1420.4,1532.1 1420.6,1532.1 1420.8,1532.1 1420.9,1532.1 1421.1,1532.1 1421.3,1532.1 1421.5,1532.1 1421.7,1532.1 1421.9,1532.1 1422.1,1532.1 1422.3,1532.1 1422.5,1532.0 1422.7,1532.0 1422.9,1532.0 1423.1,1532.0 1423.3,1532.0 1423.5,1531.9 1423.6,1531.9 1423.8,1531.9 1424.0,1531.8 1424.2,1531.8 1424.4,1531.7 1424.6,1531.7 1424.8,1531.6 1425.0,1531.5 1425.2,1531.4 1425.4,1531.3 1425.6,1531.2 1425.8,1531.0 1426.0,1530.9 1426.2,1530.7 1426.3,1530.5 1426.5,1530.3 1426.7,1530.0 1426.9,1529.7 1427.1,1529.4 1427.3,1529.1 1427.5,1528.7 1427.7,1528.2 1427.9,1527.7 1428.1,1527.2 1428.3,1526.6 1428.5,1526.0 1428.7,1525.3 1428.9,1524.6 1429.0,1523.8 1429.2,1522.9 1429.4,1522.0 1429.6,1521.0 1429.8,1519.9 1430.0,1518.7 1430.2,1517.5 1430.4,1516.2 1430.6,1514.8 1430.8,1513.4 1431.0,1511.9 1431.2,1510.3 1431.4,1508.6 1431.6,1506.9 1431.7,1505.1 1431.9,1503.2 1432.1,1501.2 1432.3,1499.0 1432.5,1496.7 1432.7,1494.1 1432.9,1491.2 1433.1,1487.9 1433.3,1484.2 1433.5,1480.0 1433.7,1475.5 1433.9,1470.7 1434.1,1465.9 1434.3,1461.4 1434.4,1457.4 1434.6,1454.3 1434.8,1452.2 1435.0,1451.1 1435.2,1451.1 1435.4,1452.0 1435.6,1453.4 1435.8,1455.2 1436.0,1457.0 1436.2,1458.6 1436.4,1460.0 1436.6,1461.2 1436.8,1462.0 1437.0,1462.7 1437.2,1463.2 1437.3,1463.7 1437.5,1464.2 1437.7,1464.8 1437.9,1465.5 1438.1,1466.3 1438.3,1467.2 1438.5,1468.3 1438.7,1469.5 1438.9,1470.8 1439.1,1472.3 1439.3,1473.8 1439.5,1475.4 1439.7,1477.2 1439.9,1479.0 1440.0,1480.8 1440.2,1482.8 1440.4,1484.7 1440.6,1486.7 1440.8,1488.8 1441.0,1490.8 1441.2,1492.8 1441.4,1494.8 1441.6,1496.8 1441.8,1498.8 1442.0,1500.7 1442.2,1502.6 1442.4,1504.5 1442.6,1506.3 1442.7,1508.0 1442.9,1509.7 1443.1,1511.3 1443.3,1512.9 1443.5,1514.3 1443.7,1515.7 1443.9,1517.0 1444.1,1518.3 1444.3,1519.5 1444.5,1520.6 1444.7,1521.6 1444.9,1522.6 1445.1,1523.5 1445.3,1524.3 1445.4,1525.1 1445.6,1525.8 1445.8,1526.4 1446.0,1527.0 1446.2,1527.6 1446.4,1528.1 1446.6,1528.5 1446.8,1528.9 1447.0,1529.3 1447.2,1529.6 1447.4,1529.9 1447.6,1530.2 1447.8,1530.4 1448.0,1530.6 1448.1,1530.8 1448.3,1531.0 1448.5,1531.1 1448.7,1531.3 1448.9,1531.4 1449.1,1531.5 1449.3,1531.6 1449.5,1531.6 1449.7,1531.7 1449.9,1531.8 1450.1,1531.8 1450.3,1531.9 1450.5,1531.9 1450.7,1531.9 1450.8,1532.0 1451.0,1532.0 1451.2,1532.0 1451.4,1532.0 1451.6,1532.0 1451.8,1532.0 1452.0,1532.1 1452.2,1532.1 1452.4,1532.1 1452.6,1532.1 1452.8,1532.1 1453.0,1532.1 1453.2,1532.1 1453.4,1532.1 1453.5,1532.1 1453.7,1532.1 1453.9,1532.1 1454.1,1532.1 1454.3,1532.1 1454.5,1532.1 1454.7,1532.1 1454.9,1532.1 1455.1,1532.1 1455.3,1532.1 1455.5,1532.1 1455.7,1532.1 1455.9,1532.1 1456.1,1532.1 1456.2,1532.1 1456.4,1532.1 1456.6,1532.1 1456.8,1532.1 1457.0,1532.1 1457.2,1532.1 1457.4,1532.1 1457.6,1532.1 1457.8,1532.1 1458.0,1532.1 1458.2,1532.1 1458.4,1532.1 1458.6,1532.1 1458.8,1532.1 1458.9,1532.1 1459.1,1532.1 1459.3,1532.1 1459.5,1532.1 1459.7,1532.1 1461.8,1532.1 1464.0,1532.1 1466.1,1532.1 1468.2,1532.1 1470.4,1532.1 1472.5,1532.1 1474.6,1532.1 1476.7,1532.1 1478.9,1532.1 1481.0,1532.1 1483.1,1532.1 1485.2,1532.1 1487.4,1532.1 1489.5,1532.1 1491.6,1532.1 1493.8,1532.1 1495.9,1532.1 1498.0,1532.1 1500.1,1532.1 1502.3,1532.1 1504.4,1532.1 1506.5,1532.1 1508.7,1532.1 1510.8,1532.1 1512.9,1532.1 1515.0,1532.1 1517.2,1532.1 1519.3,1532.1 1521.4,1532.1 1523.5,1532.1 1525.7,1532.1 1527.8,1532.1 1529.9,1532.1 1532.1,1532.1 1534.2,1532.1 1536.3,1532.1 1538.4,1532.1 1540.6,1532.1 1542.7,1532.1" fill="none" stroke="#d8503e" stroke-width="2.4" stroke-linejoin="round"/>
<rect x="1091" y="1435.6" width="452.6" height="110.2" fill="none" stroke="#3c3c3c" stroke-width="2.4"/>
<line x1="1091" y1="1533.6" x2="1098" y2="1533.6" stroke="#3c3c3c" stroke-width="2"/>
<text x="1088" y="1541.5857142857142" font-size="25" text-anchor="end" fill="#262626" stroke="#262626" stroke-width="0.45">0.0</text>
<line x1="1091" y1="1496.6" x2="1098" y2="1496.6" stroke="#3c3c3c" stroke-width="2"/>
<text x="1088" y="1504.5857142857142" font-size="25" text-anchor="end" fill="#262626" stroke="#262626" stroke-width="0.45">0.5</text>
<line x1="1091" y1="1459.6" x2="1098" y2="1459.6" stroke="#3c3c3c" stroke-width="2"/>
<text x="1088" y="1467.5857142857142" font-size="25" text-anchor="end" fill="#262626" stroke="#262626" stroke-width="0.45">1.0</text>
<line x1="1091" y1="1515.1" x2="1095" y2="1515.1" stroke="#3c3c3c" stroke-width="1.5"/>
<line x1="1091" y1="1478.1" x2="1095" y2="1478.1" stroke="#3c3c3c" stroke-width="1.5"/>
<line x1="1091" y1="1441.1" x2="1095" y2="1441.1" stroke="#3c3c3c" stroke-width="1.5"/>
<polyline points="1091.9,1642.3 1108.0,1642.3 1124.1,1642.3 1140.2,1642.3 1156.3,1642.3 1172.4,1642.3 1188.5,1642.3 1204.6,1642.3 1220.7,1642.3 1236.9,1642.3 1253.0,1642.3 1269.1,1642.3 1285.2,1642.3 1301.3,1642.3 1317.4,1642.3 1333.5,1642.3 1349.6,1642.3 1365.7,1642.3 1381.8,1642.3 1397.9,1642.3 1414.0,1642.3 1430.1,1642.3 1446.2,1642.3 1462.3,1642.3 1478.4,1642.3 1478.6,1642.3 1478.8,1642.3 1479.0,1642.3 1479.2,1642.3 1479.4,1642.3 1479.6,1642.3 1479.8,1642.3 1480.0,1642.3 1480.2,1642.3 1480.4,1642.3 1480.5,1642.3 1480.7,1642.3 1480.9,1642.3 1481.1,1642.3 1481.3,1642.3 1481.5,1642.3 1481.7,1642.3 1481.9,1642.3 1482.1,1642.3 1482.3,1642.3 1482.5,1642.3 1482.7,1642.3 1482.9,1642.3 1483.1,1642.3 1483.2,1642.3 1483.4,1642.3 1483.6,1642.2 1483.8,1642.2 1484.0,1642.2 1484.2,1642.2 1484.4,1642.2 1484.6,1642.1 1484.8,1642.1 1485.0,1642.1 1485.2,1642.0 1485.4,1642.0 1485.6,1641.9 1485.8,1641.8 1485.9,1641.7 1486.1,1641.6 1486.3,1641.5 1486.5,1641.4 1486.7,1641.3 1486.9,1641.1 1487.1,1640.9 1487.3,1640.7 1487.5,1640.5 1487.7,1640.2 1487.9,1639.9 1488.1,1639.6 1488.3,1639.3 1488.5,1638.9 1488.6,1638.4 1488.8,1638.0 1489.0,1637.4 1489.2,1636.9 1489.4,1636.2 1489.6,1635.5 1489.8,1634.8 1490.0,1634.0 1490.2,1633.1 1490.4,1632.2 1490.6,1631.2 1490.8,1630.1 1491.0,1628.9 1491.2,1627.7 1491.3,1626.4 1491.5,1625.0 1491.7,1623.6 1491.9,1622.1 1492.1,1620.5 1492.3,1618.8 1492.5,1617.1 1492.7,1615.3 1492.9,1613.4 1493.1,1611.4 1493.3,1609.2 1493.5,1606.9 1493.7,1604.3 1493.9,1601.4 1494.0,1598.1 1494.2,1594.4 1494.4,1590.2 1494.6,1585.7 1494.8,1580.9 1495.0,1576.2 1495.2,1571.6 1495.4,1567.7 1495.6,1564.5 1495.8,1562.4 1496.0,1561.4 1496.2,1561.4 1496.4,1562.2 1496.6,1563.6 1496.8,1565.4 1496.9,1567.2 1497.1,1568.8 1497.3,1570.3 1497.5,1571.4 1497.7,1572.2 1497.9,1572.9 1498.1,1573.4 1498.3,1573.9 1498.5,1574.4 1498.7,1575.0 1498.9,1575.7 1499.1,1576.5 1499.3,1577.4 1499.5,1578.5 1499.6,1579.7 1499.8,1581.0 1500.0,1582.5 1500.2,1584.0 1500.4,1585.7 1500.6,1587.4 1500.8,1589.2 1501.0,1591.1 1501.2,1593.0 1501.4,1595.0 1501.6,1597.0 1501.8,1599.0 1502.0,1601.0 1502.2,1603.0 1502.3,1605.0 1502.5,1607.0 1502.7,1609.0 1502.9,1611.0 1503.1,1612.9 1503.3,1614.7 1503.5,1616.5 1503.7,1618.2 1503.9,1619.9 1504.1,1621.5 1504.3,1623.1 1504.5,1624.5 1504.7,1625.9 1504.9,1627.3 1505.0,1628.5 1505.2,1629.7 1505.4,1630.8 1505.6,1631.8 1505.8,1632.8 1506.0,1633.7 1506.2,1634.5 1506.4,1635.3 1506.6,1636.0 1506.8,1636.6 1507.0,1637.2 1507.2,1637.8 1507.4,1638.3 1507.6,1638.7 1507.7,1639.1 1507.9,1639.5 1508.1,1639.8 1508.3,1640.1 1508.5,1640.4 1508.7,1640.6 1508.9,1640.8 1509.1,1641.0 1509.3,1641.2 1509.5,1641.4 1509.7,1641.5 1509.9,1641.6 1510.1,1641.7 1510.3,1641.8 1510.4,1641.9 1510.6,1641.9 1510.8,1642.0 1511.0,1642.0 1511.2,1642.1 1511.4,1642.1 1511.6,1642.1 1511.8,1642.2 1512.0,1642.2 1512.2,1642.2 1512.4,1642.2 1512.6,1642.2 1512.8,1642.3 1513.0,1642.3 1513.1,1642.3 1513.3,1642.3 1513.5,1642.3 1513.7,1642.3 1513.9,1642.3 1514.1,1642.3 1514.3,1642.3 1514.5,1642.3 1514.7,1642.3 1514.9,1642.3 1515.1,1642.3 1515.3,1642.3 1515.5,1642.3 1515.7,1642.3 1515.8,1642.3 1516.0,1642.3 1516.2,1642.3 1516.4,1642.3 1516.6,1642.3 1516.8,1642.3 1517.0,1642.3 1517.2,1642.3 1517.4,1642.3 1517.6,1642.3 1517.8,1642.3 1518.0,1642.3 1518.2,1642.3 1518.4,1642.3 1518.5,1642.3 1518.7,1642.3 1518.9,1642.3 1519.1,1642.3 1519.3,1642.3 1519.5,1642.3 1519.7,1642.3 1519.9,1642.3 1520.1,1642.3 1520.3,1642.3 1520.5,1642.3 1520.7,1642.3 1521.2,1642.3 1521.8,1642.3 1522.4,1642.3 1522.9,1642.3 1523.5,1642.3 1524.1,1642.3 1524.6,1642.3 1525.2,1642.3 1525.8,1642.3 1526.3,1642.3 1526.9,1642.3 1527.4,1642.3 1528.0,1642.3 1528.6,1642.3 1529.1,1642.3 1529.7,1642.3 1530.3,1642.3 1530.8,1642.3 1531.4,1642.3 1532.0,1642.3 1532.5,1642.3 1533.1,1642.3 1533.7,1642.3 1534.2,1642.3 1534.8,1642.3 1535.4,1642.3 1535.9,1642.3 1536.5,1642.3 1537.0,1642.3 1537.6,1642.3 1538.2,1642.3 1538.7,1642.3 1539.3,1642.3 1539.9,1642.3 1540.4,1642.3 1541.0,1642.3 1541.6,1642.3 1542.1,1642.3 1542.7,1642.3" fill="none" stroke="#d8503e" stroke-width="2.4" stroke-linejoin="round"/>
<rect x="1091" y="1545.8" width="452.6" height="110.2" fill="none" stroke="#3c3c3c" stroke-width="2.4"/>
<line x1="1091" y1="1643.8" x2="1098" y2="1643.8" stroke="#3c3c3c" stroke-width="2"/>
<text x="1088" y="1651.8" font-size="25" text-anchor="end" fill="#262626" stroke="#262626" stroke-width="0.45">0.0</text>
<line x1="1091" y1="1606.8" x2="1098" y2="1606.8" stroke="#3c3c3c" stroke-width="2"/>
<text x="1088" y="1614.8" font-size="25" text-anchor="end" fill="#262626" stroke="#262626" stroke-width="0.45">0.5</text>
<line x1="1091" y1="1569.8" x2="1098" y2="1569.8" stroke="#3c3c3c" stroke-width="2"/>
<text x="1088" y="1577.8" font-size="25" text-anchor="end" fill="#262626" stroke="#262626" stroke-width="0.45">1.0</text>
<line x1="1091" y1="1625.3" x2="1095" y2="1625.3" stroke="#3c3c3c" stroke-width="1.5"/>
<line x1="1091" y1="1588.3" x2="1095" y2="1588.3" stroke="#3c3c3c" stroke-width="1.5"/>
<line x1="1091" y1="1551.3" x2="1095" y2="1551.3" stroke="#3c3c3c" stroke-width="1.5"/>
<line x1="1091.0" y1="1656" x2="1091.0" y2="1648" stroke="#3c3c3c" stroke-width="2"/>
<text x="1091" y="1679" font-size="25.5" text-anchor="middle" fill="#262626" stroke="#262626" stroke-width="0.45">0</text>
<line x1="1166.4" y1="1656" x2="1166.4" y2="1648" stroke="#3c3c3c" stroke-width="2"/>
<text x="1167" y="1679" font-size="25.5" text-anchor="middle" fill="#262626" stroke="#262626" stroke-width="0.45">25</text>
<line x1="1241.9" y1="1656" x2="1241.9" y2="1648" stroke="#3c3c3c" stroke-width="2"/>
<text x="1238" y="1679" font-size="25.5" text-anchor="middle" fill="#262626" stroke="#262626" stroke-width="0.45">50</text>
<line x1="1317.3" y1="1656" x2="1317.3" y2="1648" stroke="#3c3c3c" stroke-width="2"/>
<text x="1314" y="1679" font-size="25.5" text-anchor="middle" fill="#262626" stroke="#262626" stroke-width="0.45">75</text>
<line x1="1392.7" y1="1656" x2="1392.7" y2="1648" stroke="#3c3c3c" stroke-width="2"/>
<text x="1396" y="1679" font-size="25.5" text-anchor="middle" fill="#262626" stroke="#262626" stroke-width="0.45">100</text>
<line x1="1468.2" y1="1656" x2="1468.2" y2="1648" stroke="#3c3c3c" stroke-width="2"/>
<text x="1471" y="1679" font-size="25.5" text-anchor="middle" fill="#262626" stroke="#262626" stroke-width="0.45">125</text>
<line x1="1543.6" y1="1656" x2="1543.6" y2="1648" stroke="#3c3c3c" stroke-width="2"/>
<text x="1546" y="1679" font-size="25.5" text-anchor="middle" fill="#262626" stroke="#262626" stroke-width="0.45">150</text>
<line x1="1128.7" y1="1656" x2="1128.7" y2="1651" stroke="#3c3c3c" stroke-width="1.5"/>
<line x1="1204.2" y1="1656" x2="1204.2" y2="1651" stroke="#3c3c3c" stroke-width="1.5"/>
<line x1="1279.6" y1="1656" x2="1279.6" y2="1651" stroke="#3c3c3c" stroke-width="1.5"/>
<line x1="1355.0" y1="1656" x2="1355.0" y2="1651" stroke="#3c3c3c" stroke-width="1.5"/>
<line x1="1430.4" y1="1656" x2="1430.4" y2="1651" stroke="#3c3c3c" stroke-width="1.5"/>
<line x1="1505.9" y1="1656" x2="1505.9" y2="1651" stroke="#3c3c3c" stroke-width="1.5"/>
<text x="1293" y="949.6" font-size="30" text-anchor="middle" fill="#262626" stroke="#262626" stroke-width="0.45">1</text>
<text x="1569.5" y="944" font-size="31" text-anchor="middle" fill="#262626" stroke="#262626" stroke-width="0.45">A</text>
<text x="1293" y="1060" font-size="30" text-anchor="middle" fill="#262626" stroke="#262626" stroke-width="0.45">2</text>
<text x="1569.5" y="1069" font-size="31" text-anchor="middle" fill="#262626" stroke="#262626" stroke-width="0.45">B</text>
<text x="1293" y="1167" font-size="30" text-anchor="middle" fill="#262626" stroke="#262626" stroke-width="0.45">3</text>
<text x="1569.5" y="1168" font-size="31" text-anchor="middle" fill="#262626" stroke="#262626" stroke-width="0.45">C</text>
<text x="1293" y="1272" font-size="30" text-anchor="middle" fill="#262626" stroke="#262626" stroke-width="0.45">4</text>
<text x="1569.5" y="1288" font-size="31" text-anchor="middle" fill="#262626" stroke="#262626" stroke-width="0.45">D</text>
<text x="1293" y="1373.4" font-size="30" text-anchor="middle" fill="#262626" stroke="#262626" stroke-width="0.45">5</text>
<text x="1569.5" y="1399" font-size="31" text-anchor="middle" fill="#262626" stroke="#262626" stroke-width="0.45">E</text>
<text x="1293" y="1491.6" font-size="30" text-anchor="middle" fill="#262626" stroke="#262626" stroke-width="0.45">6</text>
<text x="1569.5" y="1510" font-size="31" text-anchor="middle" fill="#262626" stroke="#262626" stroke-width="0.45">F</text>
<text x="1293" y="1602" font-size="30" text-anchor="middle" fill="#262626" stroke="#262626" stroke-width="0.45">7</text>
<text x="1569.5" y="1599" font-size="31" text-anchor="middle" fill="#262626" stroke="#262626" stroke-width="0.45">G</text>
<text x="1346" y="1716" font-size="31.5" text-anchor="middle" fill="#262626" stroke="#262626" stroke-width="0.45">Time (s)</text>
<text x="1047" y="1308" font-size="31" text-anchor="middle" fill="#262626" stroke="#262626" stroke-width="0.45" transform="rotate(-90 1047 1308)">Normalized current (a.u.)</text>
<text x="968.5" y="31.8" font-size="37" text-anchor="start" font-weight="bold" fill="#262626" stroke="#262626" stroke-width="0.45">(b)</text>
<text x="1171" y="59" font-size="31" text-anchor="start" fill="#262626" stroke="#262626" stroke-width="0.45">Light</text>
<text x="970" y="101.3" font-size="48" text-anchor="start" fill="#3a3a3a" stroke="#3a3a3a" stroke-width="0.1">(i)</text>
<text x="990" y="195" font-size="31" text-anchor="start" fill="#262626" stroke="#262626" stroke-width="0.45">Mask</text>
<text x="982" y="331" font-size="31" text-anchor="start" fill="#262626" stroke="#262626" stroke-width="0.45">Device</text>
<text x="962" y="497" font-size="48" text-anchor="start" fill="#3a3a3a" stroke="#3a3a3a" stroke-width="0.1">(ii)</text>
<text x="-1.5" y="906.3" font-size="37" text-anchor="start" font-weight="bold" fill="#262626" stroke="#262626" stroke-width="0.45">(c)</text>
<text x="1" y="953.8" font-size="48" text-anchor="start" fill="#3a3a3a" stroke="#3a3a3a" stroke-width="0.1">(i)</text>
<text x="-2" y="1322.5" font-size="48" text-anchor="start" fill="#3a3a3a" stroke="#3a3a3a" stroke-width="0.1" textLength="52" lengthAdjust="spacingAndGlyphs">(ii)</text>
<text x="549" y="907" font-size="37" text-anchor="start" font-weight="bold" fill="#262626" stroke="#262626" stroke-width="0.45">(d)</text>
<text x="550.5" y="953.4" font-size="48" text-anchor="start" fill="#3a3a3a" stroke="#3a3a3a" stroke-width="0.1">(i)</text>
<text x="543" y="1313" font-size="48" text-anchor="start" fill="#3a3a3a" stroke="#3a3a3a" stroke-width="0.1">(ii)</text>
<text x="990" y="949.6" font-size="48" text-anchor="start" fill="#3a3a3a" stroke="#3a3a3a" stroke-width="0.1" textLength="64" lengthAdjust="spacingAndGlyphs">(iii)</text>
<g mask="url(#mcv)"><rect x="141" y="860" width="293" height="260" fill="url(#gc)" filter="url(#blur4)"/></g>
<g mask="url(#mcc)"><rect x="236" y="870" width="112" height="250" fill="url(#gcc)" filter="url(#blur5)"/></g>
<polygon points="14,1149 322,1278 322,1281 14,1152" fill="#6a66e6"/>
<polygon points="322,1278 523,1091 523,1094 322,1281" fill="#6460e0"/>
<polygon points="274,1040 523,1091 322,1278 14,1149" fill="url(#pl1)"/>
<polygon points="277.2,1056.0 465.8,1097.5 310.7,1221.8 90.4,1140.3" fill="#74a4ee" filter="url(#soft2)"/>
<polygon points="76.6,1142.2 82.5,1144.4 62.9,1153.2 57.0,1150.9" fill="#e6d44c" opacity="1.0" stroke="#e6d44c" stroke-width="0.8" stroke-linejoin="round"/>
<polygon points="86.1,1145.8 92.1,1148.1 72.6,1157.1 66.6,1154.7" fill="#e6d44c" opacity="1.0" stroke="#e6d44c" stroke-width="0.8" stroke-linejoin="round"/>
<polygon points="95.9,1149.5 102.1,1151.8 82.6,1161.1 76.4,1158.6" fill="#e6d44c" opacity="1.0" stroke="#e6d44c" stroke-width="0.8" stroke-linejoin="round"/>
<polygon points="105.9,1153.3 112.2,1155.7 92.7,1165.1 86.4,1162.6" fill="#e6d44c" opacity="1.0" stroke="#e6d44c" stroke-width="0.8" stroke-linejoin="round"/>
<polygon points="116.1,1157.1 122.6,1159.6 103.2,1169.3 96.7,1166.7" fill="#e6d44c" opacity="1.0" stroke="#e6d44c" stroke-width="0.8" stroke-linejoin="round"/>
<polygon points="126.6,1161.1 133.2,1163.6 113.9,1173.5 107.2,1170.9" fill="#e6d44c" opacity="1.0" stroke="#e6d44c" stroke-width="0.8" stroke-linejoin="round"/>
<polygon points="137.4,1165.2 144.1,1167.8 124.9,1177.9 118.0,1175.2" fill="#e6d44c" opacity="1.0" stroke="#e6d44c" stroke-width="0.8" stroke-linejoin="round"/>
<polygon points="148.4,1169.4 155.3,1172.0 136.1,1182.4 129.1,1179.6" fill="#e6d44c" opacity="1.0" stroke="#e6d44c" stroke-width="0.8" stroke-linejoin="round"/>
<polygon points="159.7,1173.6 166.8,1176.3 147.7,1187.0 140.5,1184.1" fill="#e6d44c" opacity="1.0" stroke="#e6d44c" stroke-width="0.8" stroke-linejoin="round"/>
<polygon points="171.2,1178.0 178.6,1180.8 159.5,1191.7 152.1,1188.8" fill="#e6d44c" opacity="1.0" stroke="#e6d44c" stroke-width="0.8" stroke-linejoin="round"/>
<polygon points="183.1,1182.5 190.7,1185.4 171.7,1196.6 164.1,1193.6" fill="#e6d44c" opacity="1.0" stroke="#e6d44c" stroke-width="0.8" stroke-linejoin="round"/>
<polygon points="195.3,1187.1 203.0,1190.1 184.2,1201.6 176.4,1198.5" fill="#e6d44c" opacity="1.0" stroke="#e6d44c" stroke-width="0.8" stroke-linejoin="round"/>
<polygon points="207.8,1191.9 215.8,1194.9 197.1,1206.7 189.1,1203.5" fill="#e6d44c" opacity="1.0" stroke="#e6d44c" stroke-width="0.8" stroke-linejoin="round"/>
<polygon points="220.7,1196.7 228.9,1199.8 210.3,1212.0 202.0,1208.7" fill="#e6d44c" opacity="1.0" stroke="#e6d44c" stroke-width="0.8" stroke-linejoin="round"/>
<polygon points="233.9,1201.7 242.3,1204.9 223.9,1217.4 215.4,1214.0" fill="#e6d44c" opacity="1.0" stroke="#e6d44c" stroke-width="0.8" stroke-linejoin="round"/>
<polygon points="247.5,1206.9 256.1,1210.1 237.9,1223.0 229.2,1219.5" fill="#e6d44c" opacity="1.0" stroke="#e6d44c" stroke-width="0.8" stroke-linejoin="round"/>
<polygon points="261.5,1212.2 270.3,1215.5 252.3,1228.7 243.3,1225.1" fill="#e6d44c" opacity="1.0" stroke="#e6d44c" stroke-width="0.8" stroke-linejoin="round"/>
<polygon points="275.8,1217.6 284.9,1221.1 267.1,1234.6 257.9,1230.9" fill="#e6d44c" opacity="1.0" stroke="#e6d44c" stroke-width="0.8" stroke-linejoin="round"/>
<polygon points="290.6,1223.2 300.0,1226.7 282.4,1240.7 272.8,1236.9" fill="#e6d44c" opacity="1.0" stroke="#e6d44c" stroke-width="0.8" stroke-linejoin="round"/>
<polygon points="305.8,1229.0 315.5,1232.6 298.1,1247.0 288.3,1243.1" fill="#e6d44c" opacity="1.0" stroke="#e6d44c" stroke-width="0.8" stroke-linejoin="round"/>
<polygon points="474.1,1098.6 491.1,1102.4 488.7,1104.5 471.5,1100.7" fill="#e6d44c" opacity="1.0" stroke="#e6d44c" stroke-width="0.8" stroke-linejoin="round"/>
<polygon points="470.0,1102.0 487.1,1105.9 484.6,1108.1 467.3,1104.2" fill="#e6d44c" opacity="1.0" stroke="#e6d44c" stroke-width="0.8" stroke-linejoin="round"/>
<polygon points="465.7,1105.5 483.0,1109.5 480.4,1111.7 463.0,1107.8" fill="#e6d44c" opacity="1.0" stroke="#e6d44c" stroke-width="0.8" stroke-linejoin="round"/>
<polygon points="461.4,1109.1 478.8,1113.1 476.2,1115.5 458.6,1111.4" fill="#e6d44c" opacity="1.0" stroke="#e6d44c" stroke-width="0.8" stroke-linejoin="round"/>
<polygon points="456.9,1112.8 474.5,1116.9 471.8,1119.3 454.1,1115.1" fill="#e6d44c" opacity="1.0" stroke="#e6d44c" stroke-width="0.8" stroke-linejoin="round"/>
<polygon points="452.4,1116.5 470.1,1120.8 467.3,1123.2 449.5,1118.9" fill="#e6d44c" opacity="1.0" stroke="#e6d44c" stroke-width="0.8" stroke-linejoin="round"/>
<polygon points="447.7,1120.4 465.6,1124.7 462.7,1127.2 444.7,1122.8" fill="#e6d44c" opacity="1.0" stroke="#e6d44c" stroke-width="0.8" stroke-linejoin="round"/>
<polygon points="442.9,1124.3 461.0,1128.8 458.0,1131.4 439.9,1126.8" fill="#e6d44c" opacity="1.0" stroke="#e6d44c" stroke-width="0.8" stroke-linejoin="round"/>
<polygon points="438.0,1128.4 456.2,1133.0 453.2,1135.6 434.9,1130.9" fill="#e6d44c" opacity="1.0" stroke="#e6d44c" stroke-width="0.8" stroke-linejoin="round"/>
<polygon points="432.9,1132.5 451.3,1137.2 448.2,1139.9 429.7,1135.2" fill="#e6d44c" opacity="1.0" stroke="#e6d44c" stroke-width="0.8" stroke-linejoin="round"/>
<polygon points="427.7,1136.8 446.3,1141.6 443.1,1144.4 424.5,1139.5" fill="#e6d44c" opacity="1.0" stroke="#e6d44c" stroke-width="0.8" stroke-linejoin="round"/>
<polygon points="422.4,1141.2 441.2,1146.1 437.9,1149.0 419.1,1143.9" fill="#e6d44c" opacity="1.0" stroke="#e6d44c" stroke-width="0.8" stroke-linejoin="round"/>
<polygon points="417.0,1145.7 435.9,1150.8 432.5,1153.7 413.5,1148.5" fill="#e6d44c" opacity="1.0" stroke="#e6d44c" stroke-width="0.8" stroke-linejoin="round"/>
<polygon points="411.4,1150.3 430.4,1155.5 427.0,1158.5 407.8,1153.2" fill="#e6d44c" opacity="1.0" stroke="#e6d44c" stroke-width="0.8" stroke-linejoin="round"/>
<polygon points="405.6,1155.0 424.9,1160.4 421.3,1163.5 402.0,1158.0" fill="#e6d44c" opacity="1.0" stroke="#e6d44c" stroke-width="0.8" stroke-linejoin="round"/>
<polygon points="399.7,1159.9 419.1,1165.5 415.5,1168.7 395.9,1163.0" fill="#e6d44c" opacity="1.0" stroke="#e6d44c" stroke-width="0.8" stroke-linejoin="round"/>
<polygon points="393.6,1164.9 413.2,1170.6 409.4,1173.9 389.7,1168.1" fill="#e6d44c" opacity="1.0" stroke="#e6d44c" stroke-width="0.8" stroke-linejoin="round"/>
<polygon points="387.3,1170.1 407.1,1176.0 403.2,1179.4 383.3,1173.3" fill="#e6d44c" opacity="1.0" stroke="#e6d44c" stroke-width="0.8" stroke-linejoin="round"/>
<polygon points="380.9,1175.4 400.8,1181.5 396.8,1185.0 376.8,1178.7" fill="#e6d44c" opacity="1.0" stroke="#e6d44c" stroke-width="0.8" stroke-linejoin="round"/>
<polygon points="374.2,1180.8 394.4,1187.1 390.3,1190.7 370.0,1184.3" fill="#e6d44c" opacity="1.0" stroke="#e6d44c" stroke-width="0.8" stroke-linejoin="round"/>
<polygon points="367.4,1186.5 387.7,1193.0 383.5,1196.7 363.0,1190.1" fill="#e6d44c" opacity="1.0" stroke="#e6d44c" stroke-width="0.8" stroke-linejoin="round"/>
<polygon points="360.3,1192.3 380.8,1199.0 376.5,1202.8 355.8,1196.0" fill="#e6d44c" opacity="1.0" stroke="#e6d44c" stroke-width="0.8" stroke-linejoin="round"/>
<polygon points="353.0,1198.3 373.7,1205.2 369.2,1209.1 348.4,1202.1" fill="#e6d44c" opacity="1.0" stroke="#e6d44c" stroke-width="0.8" stroke-linejoin="round"/>
<polygon points="345.5,1204.5 366.4,1211.6 361.8,1215.7 340.8,1208.4" fill="#e6d44c" opacity="1.0" stroke="#e6d44c" stroke-width="0.8" stroke-linejoin="round"/>
<polygon points="337.8,1210.8 358.9,1218.2 354.1,1222.4 332.9,1214.9" fill="#e6d44c" opacity="1.0" stroke="#e6d44c" stroke-width="0.8" stroke-linejoin="round"/>
<polygon points="329.8,1217.4 351.1,1225.1 346.1,1229.4 324.7,1221.6" fill="#e6d44c" opacity="1.0" stroke="#e6d44c" stroke-width="0.8" stroke-linejoin="round"/>
<polygon points="264.2,1048.0 272.5,1049.8 267.9,1051.8 259.6,1049.9" fill="#d8c656" opacity="0.9" stroke="#d8c656" stroke-width="0.8" stroke-linejoin="round"/>
<polygon points="256.7,1051.2 265.1,1053.0 260.4,1055.0 252.0,1053.2" fill="#d8c656" opacity="0.9" stroke="#d8c656" stroke-width="0.8" stroke-linejoin="round"/>
<polygon points="249.1,1054.4 257.4,1056.3 252.6,1058.4 244.2,1056.5" fill="#d8c656" opacity="0.9" stroke="#d8c656" stroke-width="0.8" stroke-linejoin="round"/>
<polygon points="241.2,1057.8 249.6,1059.7 244.7,1061.9 236.2,1059.9" fill="#d8c656" opacity="0.9" stroke="#d8c656" stroke-width="0.8" stroke-linejoin="round"/>
<polygon points="233.1,1061.2 241.6,1063.2 236.5,1065.4 228.0,1063.4" fill="#d8c656" opacity="0.9" stroke="#d8c656" stroke-width="0.8" stroke-linejoin="round"/>
<polygon points="224.8,1064.8 233.3,1066.8 228.1,1069.1 219.6,1067.0" fill="#d8c656" opacity="0.9" stroke="#d8c656" stroke-width="0.8" stroke-linejoin="round"/>
<polygon points="216.3,1068.4 224.8,1070.5 219.4,1072.9 210.9,1070.7" fill="#d8c656" opacity="0.9" stroke="#d8c656" stroke-width="0.8" stroke-linejoin="round"/>
<polygon points="207.5,1072.1 216.1,1074.3 210.5,1076.7 201.9,1074.5" fill="#d8c656" opacity="0.9" stroke="#d8c656" stroke-width="0.8" stroke-linejoin="round"/>
<polygon points="198.4,1076.0 207.1,1078.2 201.4,1080.7 192.7,1078.5" fill="#d8c656" opacity="0.9" stroke="#d8c656" stroke-width="0.8" stroke-linejoin="round"/>
<polygon points="189.1,1080.0 197.8,1082.3 191.9,1084.9 183.2,1082.5" fill="#d8c656" opacity="0.9" stroke="#d8c656" stroke-width="0.8" stroke-linejoin="round"/>
<polygon points="179.5,1084.1 188.3,1086.4 182.2,1089.1 173.4,1086.7" fill="#d8c656" opacity="0.9" stroke="#d8c656" stroke-width="0.8" stroke-linejoin="round"/>
<polygon points="169.6,1088.3 178.4,1090.7 172.2,1093.5 163.4,1091.0" fill="#d8c656" opacity="0.9" stroke="#d8c656" stroke-width="0.8" stroke-linejoin="round"/>
<polygon points="159.5,1092.6 168.3,1095.2 161.8,1098.0 153.0,1095.4" fill="#d8c656" opacity="0.9" stroke="#d8c656" stroke-width="0.8" stroke-linejoin="round"/>
<polygon points="148.9,1097.1 157.8,1099.7 151.1,1102.6 142.3,1100.0" fill="#d8c656" opacity="0.9" stroke="#d8c656" stroke-width="0.8" stroke-linejoin="round"/>
<polygon points="138.1,1101.7 147.0,1104.4 140.1,1107.4 131.2,1104.7" fill="#d8c656" opacity="0.9" stroke="#d8c656" stroke-width="0.8" stroke-linejoin="round"/>
<polygon points="126.9,1106.5 135.8,1109.3 128.7,1112.4 119.7,1109.5" fill="#d8c656" opacity="0.9" stroke="#d8c656" stroke-width="0.8" stroke-linejoin="round"/>
<polygon points="115.3,1111.4 124.2,1114.3 116.9,1117.5 107.9,1114.6" fill="#d8c656" opacity="0.9" stroke="#d8c656" stroke-width="0.8" stroke-linejoin="round"/>
<polygon points="103.3,1116.5 112.3,1119.5 104.7,1122.9 95.7,1119.8" fill="#d8c656" opacity="0.9" stroke="#d8c656" stroke-width="0.8" stroke-linejoin="round"/>
<polygon points="91.0,1121.8 99.9,1124.9 92.1,1128.4 83.1,1125.2" fill="#d8c656" opacity="0.9" stroke="#d8c656" stroke-width="0.8" stroke-linejoin="round"/>
<polygon points="78.2,1127.3 87.2,1130.5 79.0,1134.1 70.0,1130.7" fill="#d8c656" opacity="0.9" stroke="#d8c656" stroke-width="0.8" stroke-linejoin="round"/>
<polygon points="300.5,1047.7 304.4,1048.5 298.2,1051.3 294.3,1050.5" fill="#d8c656" opacity="0.9" stroke="#d8c656" stroke-width="0.8" stroke-linejoin="round"/>
<polygon points="306.8,1049.0 310.7,1049.8 304.6,1052.7 300.6,1051.9" fill="#d8c656" opacity="0.9" stroke="#d8c656" stroke-width="0.8" stroke-linejoin="round"/>
<polygon points="313.1,1050.3 317.1,1051.1 311.0,1054.0 307.0,1053.2" fill="#d8c656" opacity="0.9" stroke="#d8c656" stroke-width="0.8" stroke-linejoin="round"/>
<polygon points="319.5,1051.6 323.5,1052.5 317.5,1055.4 313.4,1054.6" fill="#d8c656" opacity="0.9" stroke="#d8c656" stroke-width="0.8" stroke-linejoin="round"/>
<polygon points="326.0,1053.0 330.1,1053.8 324.1,1056.8 320.0,1055.9" fill="#d8c656" opacity="0.9" stroke="#d8c656" stroke-width="0.8" stroke-linejoin="round"/>
<polygon points="332.6,1054.4 336.7,1055.2 330.7,1058.2 326.6,1057.3" fill="#d8c656" opacity="0.9" stroke="#d8c656" stroke-width="0.8" stroke-linejoin="round"/>
<polygon points="339.2,1055.7 343.4,1056.6 337.5,1059.6 333.3,1058.7" fill="#d8c656" opacity="0.9" stroke="#d8c656" stroke-width="0.8" stroke-linejoin="round"/>
<polygon points="345.9,1057.1 350.1,1058.0 344.3,1061.1 340.0,1060.2" fill="#d8c656" opacity="0.9" stroke="#d8c656" stroke-width="0.8" stroke-linejoin="round"/>
<polygon points="352.7,1058.5 357.0,1059.4 351.2,1062.5 346.9,1061.6" fill="#d8c656" opacity="0.9" stroke="#d8c656" stroke-width="0.8" stroke-linejoin="round"/>
<polygon points="359.6,1060.0 364.0,1060.9 358.2,1064.0 353.8,1063.1" fill="#d8c656" opacity="0.9" stroke="#d8c656" stroke-width="0.8" stroke-linejoin="round"/>
<polygon points="366.6,1061.4 371.0,1062.3 365.3,1065.5 360.9,1064.6" fill="#d8c656" opacity="0.9" stroke="#d8c656" stroke-width="0.8" stroke-linejoin="round"/>
<polygon points="373.7,1062.9 378.1,1063.8 372.5,1067.0 368.0,1066.1" fill="#d8c656" opacity="0.9" stroke="#d8c656" stroke-width="0.8" stroke-linejoin="round"/>
<polygon points="380.9,1064.4 385.4,1065.3 379.7,1068.5 375.2,1067.6" fill="#d8c656" opacity="0.9" stroke="#d8c656" stroke-width="0.8" stroke-linejoin="round"/>
<polygon points="388.1,1065.9 392.7,1066.8 387.1,1070.1 382.5,1069.1" fill="#d8c656" opacity="0.9" stroke="#d8c656" stroke-width="0.8" stroke-linejoin="round"/>
<polygon points="395.5,1067.4 400.1,1068.3 394.6,1071.7 389.9,1070.7" fill="#d8c656" opacity="0.9" stroke="#d8c656" stroke-width="0.8" stroke-linejoin="round"/>
<polygon points="402.9,1068.9 407.6,1069.9 402.2,1073.3 397.5,1072.3" fill="#d8c656" opacity="0.9" stroke="#d8c656" stroke-width="0.8" stroke-linejoin="round"/>
<polygon points="410.5,1070.5 415.2,1071.5 409.8,1074.9 405.1,1073.9" fill="#d8c656" opacity="0.9" stroke="#d8c656" stroke-width="0.8" stroke-linejoin="round"/>
<polygon points="418.1,1072.1 422.9,1073.1 417.6,1076.5 412.8,1075.5" fill="#d8c656" opacity="0.9" stroke="#d8c656" stroke-width="0.8" stroke-linejoin="round"/>
<polygon points="425.9,1073.7 430.7,1074.7 425.5,1078.2 420.6,1077.2" fill="#d8c656" opacity="0.9" stroke="#d8c656" stroke-width="0.8" stroke-linejoin="round"/>
<polygon points="433.7,1075.3 438.6,1076.3 433.5,1079.9 428.5,1078.8" fill="#d8c656" opacity="0.9" stroke="#d8c656" stroke-width="0.8" stroke-linejoin="round"/>
<polygon points="441.7,1076.9 446.7,1078.0 441.6,1081.6 436.5,1080.5" fill="#d8c656" opacity="0.9" stroke="#d8c656" stroke-width="0.8" stroke-linejoin="round"/>
<polygon points="449.7,1078.6 454.8,1079.7 449.8,1083.3 444.7,1082.2" fill="#d8c656" opacity="0.9" stroke="#d8c656" stroke-width="0.8" stroke-linejoin="round"/>
<polygon points="457.9,1080.3 463.0,1081.4 458.1,1085.1 452.9,1084.0" fill="#d8c656" opacity="0.9" stroke="#d8c656" stroke-width="0.8" stroke-linejoin="round"/>
<polygon points="466.2,1082.0 471.4,1083.1 466.5,1086.9 461.3,1085.7" fill="#d8c656" opacity="0.9" stroke="#d8c656" stroke-width="0.8" stroke-linejoin="round"/>
<polygon points="474.6,1083.8 479.9,1084.9 475.1,1088.7 469.8,1087.5" fill="#d8c656" opacity="0.9" stroke="#d8c656" stroke-width="0.8" stroke-linejoin="round"/>
<polygon points="483.1,1085.5 488.5,1086.6 483.8,1090.5 478.4,1089.4" fill="#d8c656" opacity="0.9" stroke="#d8c656" stroke-width="0.8" stroke-linejoin="round"/>
<g clip-path="url(#cp1)"><ellipse cx="290" cy="1085" rx="150" ry="70" fill="#b050e8" opacity="0.55" filter="url(#blur8)"/><ellipse cx="285" cy="1070" rx="90" ry="38" fill="#a040e0" opacity="0.5" filter="url(#blur8)"/></g>
<polygon points="262.7,1072.8 275.4,1074.8 265.8,1079.1 253.2,1077.0" fill="#cab9e1" stroke="#cab9e1" stroke-width="1.5" stroke-linejoin="round"/>
<polygon points="265.6,1071.5 277.3,1073.3 267.9,1077.6 256.2,1075.7" fill="#4f3050" stroke="#4f3050" stroke-width="1.6" stroke-linejoin="round"/>
<polygon points="281.2,1075.7 294.9,1077.8 285.4,1082.4 271.7,1080.1" fill="#d1bde5" stroke="#d1bde5" stroke-width="1.5" stroke-linejoin="round"/>
<polygon points="284.1,1074.3 296.8,1076.3 287.4,1080.8 274.7,1078.7" fill="#5c3164" stroke="#5c3164" stroke-width="1.6" stroke-linejoin="round"/>
<polygon points="301.2,1078.8 316.0,1081.1 306.5,1085.9 291.7,1083.5" fill="#d6c0e8" stroke="#d6c0e8" stroke-width="1.5" stroke-linejoin="round"/>
<polygon points="304.1,1077.4 317.8,1079.5 308.4,1084.2 294.7,1082.0" fill="#673274" stroke="#673274" stroke-width="1.6" stroke-linejoin="round"/>
<polygon points="322.9,1082.2 338.9,1084.7 329.5,1089.8 313.4,1087.1" fill="#dac3eb" stroke="#dac3eb" stroke-width="1.5" stroke-linejoin="round"/>
<polygon points="325.7,1080.7 340.5,1082.9 331.3,1088.0 316.4,1085.5" fill="#6d337f" stroke="#6d337f" stroke-width="1.6" stroke-linejoin="round"/>
<polygon points="346.4,1085.8 363.8,1088.6 354.6,1094.0 337.1,1091.1" fill="#dac3eb" stroke="#dac3eb" stroke-width="1.5" stroke-linejoin="round"/>
<polygon points="349.2,1084.2 365.3,1086.7 356.2,1092.1 340.0,1089.4" fill="#6e3380" stroke="#6e3380" stroke-width="1.6" stroke-linejoin="round"/>
<polygon points="372.0,1089.8 391.1,1092.8 382.1,1098.6 362.9,1095.4" fill="#d7c1e9" stroke="#d7c1e9" stroke-width="1.5" stroke-linejoin="round"/>
<polygon points="374.8,1088.1 392.4,1090.8 383.5,1096.5 365.8,1093.6" fill="#683377" stroke="#683377" stroke-width="1.6" stroke-linejoin="round"/>
<polygon points="400.1,1094.2 421.0,1097.5 412.3,1103.7 391.1,1100.1" fill="#d2bee6" stroke="#d2bee6" stroke-width="1.5" stroke-linejoin="round"/>
<polygon points="402.8,1092.4 422.1,1095.3 413.5,1101.5 394.0,1098.3" fill="#5e3267" stroke="#5e3267" stroke-width="1.6" stroke-linejoin="round"/>
<polygon points="247.7,1079.4 260.3,1081.7 250.2,1086.3 237.6,1083.9" fill="#cfbce4" stroke="#cfbce4" stroke-width="1.5" stroke-linejoin="round"/>
<polygon points="250.8,1078.1 262.5,1080.1 252.5,1084.6 240.8,1082.5" fill="#57315d" stroke="#57315d" stroke-width="1.6" stroke-linejoin="round"/>
<polygon points="266.2,1082.7 279.9,1085.1 269.7,1089.9 256.1,1087.4" fill="#d6c0e8" stroke="#d6c0e8" stroke-width="1.5" stroke-linejoin="round"/>
<polygon points="269.3,1081.2 281.9,1083.4 271.9,1088.2 259.3,1085.9" fill="#673274" stroke="#673274" stroke-width="1.6" stroke-linejoin="round"/>
<polygon points="286.2,1086.2 301.0,1088.8 290.9,1093.9 276.1,1091.2" fill="#dec5ed" stroke="#dec5ed" stroke-width="1.5" stroke-linejoin="round"/>
<polygon points="289.3,1084.7 303.0,1087.0 293.0,1092.1 279.3,1089.6" fill="#75348a" stroke="#75348a" stroke-width="1.6" stroke-linejoin="round"/>
<polygon points="308.0,1090.0 324.1,1092.8 314.0,1098.3 297.9,1095.3" fill="#e3c8f0" stroke="#e3c8f0" stroke-width="1.5" stroke-linejoin="round"/>
<polygon points="311.0,1088.4 325.9,1090.9 316.0,1096.3 301.1,1093.6" fill="#7f359a" stroke="#7f359a" stroke-width="1.6" stroke-linejoin="round"/>
<polygon points="331.6,1094.1 349.2,1097.2 339.3,1103.1 321.6,1099.7" fill="#e4c8f0" stroke="#e4c8f0" stroke-width="1.5" stroke-linejoin="round"/>
<polygon points="334.7,1092.4 350.9,1095.2 341.1,1101.0 324.8,1097.9" fill="#80359c" stroke="#80359c" stroke-width="1.6" stroke-linejoin="round"/>
<polygon points="357.5,1098.6 376.8,1102.0 367.1,1108.3 347.6,1104.6" fill="#dfc6ee" stroke="#dfc6ee" stroke-width="1.5" stroke-linejoin="round"/>
<polygon points="360.5,1096.8 378.3,1099.9 368.7,1106.0 350.8,1102.7" fill="#77348e" stroke="#77348e" stroke-width="1.6" stroke-linejoin="round"/>
<polygon points="385.9,1103.6 407.2,1107.3 397.8,1114.1 376.3,1110.0" fill="#d8c1e9" stroke="#d8c1e9" stroke-width="1.5" stroke-linejoin="round"/>
<polygon points="388.8,1101.7 408.5,1105.0 399.2,1111.6 379.4,1108.0" fill="#6a3379" stroke="#6a3379" stroke-width="1.6" stroke-linejoin="round"/>
<polygon points="231.8,1086.5 244.3,1089.0 233.6,1093.9 221.1,1091.2" fill="#d1bde5" stroke="#d1bde5" stroke-width="1.5" stroke-linejoin="round"/>
<polygon points="235.0,1085.0 246.7,1087.3 236.1,1092.1 224.5,1089.7" fill="#5b3163" stroke="#5b3163" stroke-width="1.6" stroke-linejoin="round"/>
<polygon points="250.2,1090.1 263.8,1092.8 253.0,1098.0 239.4,1095.1" fill="#d9c2ea" stroke="#d9c2ea" stroke-width="1.5" stroke-linejoin="round"/>
<polygon points="253.5,1088.6 266.1,1091.0 255.5,1096.1 242.9,1093.5" fill="#6c337c" stroke="#6c337c" stroke-width="1.6" stroke-linejoin="round"/>
<polygon points="270.2,1094.0 285.0,1097.0 274.2,1102.5 259.4,1099.4" fill="#e2c7ef" stroke="#e2c7ef" stroke-width="1.5" stroke-linejoin="round"/>
<polygon points="273.5,1092.4 287.2,1095.1 276.6,1100.5 262.8,1097.7" fill="#7d3596" stroke="#7d3596" stroke-width="1.6" stroke-linejoin="round"/>
<polygon points="292.0,1098.3 308.2,1101.5 297.4,1107.4 281.2,1104.0" fill="#eaccf4" stroke="#eaccf4" stroke-width="1.5" stroke-linejoin="round"/>
<polygon points="295.3,1096.6 310.2,1099.5 299.6,1105.3 284.6,1102.2" fill="#8d36af" stroke="#8d36af" stroke-width="1.6" stroke-linejoin="round"/>
<polygon points="315.8,1103.0 333.5,1106.5 322.8,1112.8 305.0,1109.0" fill="#eccdf5" stroke="#eccdf5" stroke-width="1.5" stroke-linejoin="round"/>
<polygon points="319.0,1101.2 335.4,1104.3 324.9,1110.5 308.4,1107.1" fill="#9037b4" stroke="#9037b4" stroke-width="1.6" stroke-linejoin="round"/>
<polygon points="341.9,1108.1 361.4,1112.0 350.9,1118.7 331.3,1114.6" fill="#e3c8f0" stroke="#e3c8f0" stroke-width="1.5" stroke-linejoin="round"/>
<polygon points="345.1,1106.2 363.1,1109.6 352.8,1116.3 334.6,1112.5" fill="#80359b" stroke="#80359b" stroke-width="1.6" stroke-linejoin="round"/>
<polygon points="370.7,1113.8 392.3,1118.0 382.0,1125.3 360.2,1120.7" fill="#dbc3eb" stroke="#dbc3eb" stroke-width="1.5" stroke-linejoin="round"/>
<polygon points="373.8,1111.7 393.7,1115.5 383.7,1122.7 363.5,1118.5" fill="#6f3382" stroke="#6f3382" stroke-width="1.6" stroke-linejoin="round"/>
<polygon points="214.8,1094.0 227.3,1096.7 215.8,1102.0 203.4,1099.0" fill="#d0bce4" stroke="#d0bce4" stroke-width="1.5" stroke-linejoin="round"/>
<polygon points="218.3,1092.4 229.9,1094.9 218.6,1100.1 207.0,1097.4" fill="#5a3160" stroke="#5a3160" stroke-width="1.6" stroke-linejoin="round"/>
<polygon points="233.2,1098.0 246.8,1101.0 235.2,1106.6 221.7,1103.4" fill="#d8c1e9" stroke="#d8c1e9" stroke-width="1.5" stroke-linejoin="round"/>
<polygon points="236.7,1096.4 249.3,1099.1 237.9,1104.6 225.3,1101.7" fill="#6a3379" stroke="#6a3379" stroke-width="1.6" stroke-linejoin="round"/>
<polygon points="253.1,1102.4 267.9,1105.7 256.3,1111.7 241.5,1108.1" fill="#e0c6ee" stroke="#e0c6ee" stroke-width="1.5" stroke-linejoin="round"/>
<polygon points="256.6,1100.7 270.3,1103.7 258.9,1109.5 245.2,1106.3" fill="#793490" stroke="#793490" stroke-width="1.6" stroke-linejoin="round"/>
<polygon points="274.9,1107.3 291.1,1110.9 279.5,1117.2 263.3,1113.3" fill="#e6caf2" stroke="#e6caf2" stroke-width="1.5" stroke-linejoin="round"/>
<polygon points="278.4,1105.4 293.4,1108.7 282.0,1114.9 267.0,1111.4" fill="#8636a4" stroke="#8636a4" stroke-width="1.6" stroke-linejoin="round"/>
<polygon points="298.8,1112.5 316.6,1116.5 305.1,1123.3 287.2,1119.0" fill="#e7caf2" stroke="#e7caf2" stroke-width="1.5" stroke-linejoin="round"/>
<polygon points="302.3,1110.6 318.8,1114.1 307.4,1120.8 290.8,1117.0" fill="#8736a6" stroke="#8736a6" stroke-width="1.6" stroke-linejoin="round"/>
<polygon points="325.0,1118.4 344.8,1122.7 333.4,1130.1 313.5,1125.3" fill="#e1c7ef" stroke="#e1c7ef" stroke-width="1.5" stroke-linejoin="round"/>
<polygon points="328.5,1116.2 346.7,1120.2 335.5,1127.4 317.2,1123.1" fill="#7c3595" stroke="#7c3595" stroke-width="1.6" stroke-linejoin="round"/>
<polygon points="354.1,1124.8 376.0,1129.6 364.9,1137.6 342.8,1132.3" fill="#dac2ea" stroke="#dac2ea" stroke-width="1.5" stroke-linejoin="round"/>
<polygon points="357.5,1122.5 377.7,1126.9 366.8,1134.7 346.4,1129.9" fill="#6d337e" stroke="#6d337e" stroke-width="1.6" stroke-linejoin="round"/>
<polygon points="196.8,1102.0 209.2,1105.0 196.9,1110.7 184.6,1107.3" fill="#ccbae2" stroke="#ccbae2" stroke-width="1.5" stroke-linejoin="round"/>
<polygon points="200.5,1100.3 212.0,1103.1 199.9,1108.6 188.5,1105.6" fill="#533056" stroke="#533056" stroke-width="1.6" stroke-linejoin="round"/>
<polygon points="215.0,1106.5 228.5,1109.9 216.1,1115.8 202.7,1112.2" fill="#d3bfe7" stroke="#d3bfe7" stroke-width="1.5" stroke-linejoin="round"/>
<polygon points="218.7,1104.8 231.2,1107.8 219.0,1113.7 206.6,1110.4" fill="#61326b" stroke="#61326b" stroke-width="1.6" stroke-linejoin="round"/>
<polygon points="234.8,1111.4 249.6,1115.1 237.1,1121.5 222.4,1117.6" fill="#dac2ea" stroke="#dac2ea" stroke-width="1.5" stroke-linejoin="round"/>
<polygon points="238.6,1109.6 252.2,1112.9 239.9,1119.2 226.3,1115.6" fill="#6d337e" stroke="#6d337e" stroke-width="1.6" stroke-linejoin="round"/>
<polygon points="256.5,1116.9 272.7,1120.9 260.2,1127.8 244.0,1123.4" fill="#dec5ed" stroke="#dec5ed" stroke-width="1.5" stroke-linejoin="round"/>
<polygon points="260.3,1114.9 275.3,1118.6 263.0,1125.3 248.0,1121.3" fill="#75348a" stroke="#75348a" stroke-width="1.6" stroke-linejoin="round"/>
<polygon points="280.4,1122.8 298.3,1127.3 285.8,1134.7 267.9,1129.9" fill="#dec5ed" stroke="#dec5ed" stroke-width="1.5" stroke-linejoin="round"/>
<polygon points="284.2,1120.7 300.7,1124.8 288.4,1132.0 271.8,1127.6" fill="#75348b" stroke="#75348b" stroke-width="1.6" stroke-linejoin="round"/>
<polygon points="306.8,1129.4 326.7,1134.4 314.3,1142.4 294.3,1137.0" fill="#dbc3eb" stroke="#dbc3eb" stroke-width="1.5" stroke-linejoin="round"/>
<polygon points="310.6,1127.1 328.9,1131.6 316.7,1139.5 298.3,1134.6" fill="#6f3381" stroke="#6f3381" stroke-width="1.6" stroke-linejoin="round"/>
<polygon points="336.1,1136.8 358.3,1142.3 346.1,1151.0 323.7,1145.0" fill="#d5bfe7" stroke="#d5bfe7" stroke-width="1.5" stroke-linejoin="round"/>
<polygon points="339.8,1134.3 360.3,1139.3 348.3,1147.8 327.7,1142.4" fill="#63326f" stroke="#63326f" stroke-width="1.6" stroke-linejoin="round"/>
<polygon points="177.5,1110.5 189.7,1113.9 176.6,1119.9 164.5,1116.2" fill="#c8b8e0" stroke="#c8b8e0" stroke-width="1.5" stroke-linejoin="round"/>
<polygon points="181.5,1108.7 192.8,1111.8 179.9,1117.8 168.6,1114.4" fill="#4a3048" stroke="#4a3048" stroke-width="1.6" stroke-linejoin="round"/>
<polygon points="195.5,1115.5 208.8,1119.3 195.5,1125.8 182.3,1121.7" fill="#cdbbe3" stroke="#cdbbe3" stroke-width="1.5" stroke-linejoin="round"/>
<polygon points="199.5,1113.7 211.9,1117.1 198.7,1123.4 186.5,1119.7" fill="#543157" stroke="#543157" stroke-width="1.6" stroke-linejoin="round"/>
<polygon points="215.1,1121.1 229.8,1125.3 216.3,1132.2 201.7,1127.7" fill="#d2bee6" stroke="#d2bee6" stroke-width="1.5" stroke-linejoin="round"/>
<polygon points="219.2,1119.1 232.8,1122.9 219.5,1129.6 206.0,1125.6" fill="#5d3266" stroke="#5d3266" stroke-width="1.6" stroke-linejoin="round"/>
<polygon points="236.7,1127.2 252.9,1131.8 239.3,1139.2 223.2,1134.3" fill="#d4bfe7" stroke="#d4bfe7" stroke-width="1.5" stroke-linejoin="round"/>
<polygon points="240.8,1125.1 255.8,1129.2 242.4,1136.5 227.5,1132.0" fill="#63326e" stroke="#63326e" stroke-width="1.6" stroke-linejoin="round"/>
<polygon points="260.5,1134.0 278.5,1139.1 264.9,1147.1 246.9,1141.6" fill="#d5bfe7" stroke="#d5bfe7" stroke-width="1.5" stroke-linejoin="round"/>
<polygon points="264.6,1131.7 281.2,1136.3 267.8,1144.1 251.3,1139.2" fill="#63326f" stroke="#63326f" stroke-width="1.6" stroke-linejoin="round"/>
<polygon points="287.0,1141.5 307.0,1147.1 293.4,1155.9 273.4,1149.7" fill="#d2bee6" stroke="#d2bee6" stroke-width="1.5" stroke-linejoin="round"/>
<polygon points="291.1,1139.0 309.5,1144.1 296.2,1152.6 277.7,1147.1" fill="#5e3268" stroke="#5e3268" stroke-width="1.6" stroke-linejoin="round"/>
<polygon points="316.5,1149.8 338.9,1156.2 325.5,1165.8 302.9,1158.8" fill="#cebbe3" stroke="#cebbe3" stroke-width="1.5" stroke-linejoin="round"/>
<polygon points="320.5,1147.1 341.3,1152.8 328.1,1162.2 307.3,1156.0" fill="#56315a" stroke="#56315a" stroke-width="1.6" stroke-linejoin="round"/>
<polygon points="156.9,1119.6 168.9,1123.4 154.8,1129.9 142.9,1125.7" fill="#c8b8e0" stroke="#c8b8e0" stroke-width="1.5" stroke-linejoin="round"/>
<polygon points="161.1,1117.7 172.3,1121.2 158.4,1127.6 147.4,1123.8" fill="#4a3048" stroke="#4a3048" stroke-width="1.6" stroke-linejoin="round"/>
<polygon points="174.6,1125.3 187.7,1129.5 173.4,1136.5 160.3,1131.9" fill="#c8b8e0" stroke="#c8b8e0" stroke-width="1.5" stroke-linejoin="round"/>
<polygon points="178.9,1123.3 191.1,1127.1 176.9,1133.9 164.9,1129.8" fill="#4a3048" stroke="#4a3048" stroke-width="1.6" stroke-linejoin="round"/>
<polygon points="193.9,1131.5 208.4,1136.2 193.9,1143.7 179.5,1138.6" fill="#c9b8e0" stroke="#c9b8e0" stroke-width="1.5" stroke-linejoin="round"/>
<polygon points="198.3,1129.4 211.8,1133.6 197.4,1140.9 184.1,1136.4" fill="#4c304b" stroke="#4c304b" stroke-width="1.6" stroke-linejoin="round"/>
<polygon points="215.3,1138.4 231.4,1143.6 216.6,1151.7 200.7,1146.1" fill="#cbbae2" stroke="#cbbae2" stroke-width="1.5" stroke-linejoin="round"/>
<polygon points="219.7,1136.1 234.6,1140.8 220.1,1148.7 205.3,1143.6" fill="#503052" stroke="#503052" stroke-width="1.6" stroke-linejoin="round"/>
<polygon points="239.0,1146.1 256.9,1151.8 242.0,1160.6 224.2,1154.3" fill="#cbbae2" stroke="#cbbae2" stroke-width="1.5" stroke-linejoin="round"/>
<polygon points="243.4,1143.6 260.0,1148.8 245.4,1157.4 228.9,1151.7" fill="#513052" stroke="#513052" stroke-width="1.6" stroke-linejoin="round"/>
<polygon points="265.4,1154.6 285.4,1161.0 270.5,1170.7 250.5,1163.6" fill="#c9b9e1" stroke="#c9b9e1" stroke-width="1.5" stroke-linejoin="round"/>
<polygon points="269.8,1151.9 288.4,1157.7 273.8,1167.1 255.2,1160.7" fill="#4d304d" stroke="#4d304d" stroke-width="1.6" stroke-linejoin="round"/>
<polygon points="295.0,1164.1 317.6,1171.4 302.8,1182.0 280.1,1174.0" fill="#c8b8e0" stroke="#c8b8e0" stroke-width="1.5" stroke-linejoin="round"/>
<polygon points="299.4,1161.2 320.3,1167.7 305.8,1178.0 284.8,1170.9" fill="#4a3048" stroke="#4a3048" stroke-width="1.6" stroke-linejoin="round"/>
<rect x="285" y="958" width="4" height="156" fill="#f6e6f8" opacity="0.8" filter="url(#blur2)"/>
<polygon points="1081,322 1303,448.75 1303,451.75 1081,325" fill="#6a66e6"/>
<polygon points="1303,448.75 1546.6,283 1546.6,286 1303,451.75" fill="#6460e0"/>
<polygon points="1326,215 1546.6,283 1303,448.75 1081,322" fill="url(#pl2)"/>
<polygon points="1324.1,234.1 1487.7,287.9 1307.6,401.8 1143.2,316.8" fill="#74a4ee" filter="url(#soft2)"/>
<polygon points="1131.5,317.9 1135.3,319.9 1118.7,327.5 1114.9,325.4" fill="#e6d44c" opacity="1.0" stroke="#e6d44c" stroke-width="0.8" stroke-linejoin="round"/>
<polygon points="1137.6,321.1 1141.5,323.2 1124.8,330.9 1121.0,328.8" fill="#e6d44c" opacity="1.0" stroke="#e6d44c" stroke-width="0.8" stroke-linejoin="round"/>
<polygon points="1143.9,324.4 1147.8,326.5 1131.1,334.3 1127.2,332.2" fill="#e6d44c" opacity="1.0" stroke="#e6d44c" stroke-width="0.8" stroke-linejoin="round"/>
<polygon points="1150.2,327.8 1154.2,329.9 1137.4,337.8 1133.5,335.6" fill="#e6d44c" opacity="1.0" stroke="#e6d44c" stroke-width="0.8" stroke-linejoin="round"/>
<polygon points="1156.6,331.2 1160.7,333.3 1143.9,341.3 1139.9,339.1" fill="#e6d44c" opacity="1.0" stroke="#e6d44c" stroke-width="0.8" stroke-linejoin="round"/>
<polygon points="1163.2,334.6 1167.3,336.8 1150.4,345.0 1146.4,342.7" fill="#e6d44c" opacity="1.0" stroke="#e6d44c" stroke-width="0.8" stroke-linejoin="round"/>
<polygon points="1169.8,338.1 1174.0,340.3 1157.1,348.6 1153.0,346.3" fill="#e6d44c" opacity="1.0" stroke="#e6d44c" stroke-width="0.8" stroke-linejoin="round"/>
<polygon points="1176.6,341.7 1180.9,343.9 1163.9,352.4 1159.7,350.0" fill="#e6d44c" opacity="1.0" stroke="#e6d44c" stroke-width="0.8" stroke-linejoin="round"/>
<polygon points="1183.5,345.3 1187.8,347.6 1170.9,356.2 1166.6,353.8" fill="#e6d44c" opacity="1.0" stroke="#e6d44c" stroke-width="0.8" stroke-linejoin="round"/>
<polygon points="1190.5,349.0 1194.9,351.3 1177.9,360.0 1173.5,357.6" fill="#e6d44c" opacity="1.0" stroke="#e6d44c" stroke-width="0.8" stroke-linejoin="round"/>
<polygon points="1197.6,352.8 1202.1,355.1 1185.1,364.0 1180.6,361.5" fill="#e6d44c" opacity="1.0" stroke="#e6d44c" stroke-width="0.8" stroke-linejoin="round"/>
<polygon points="1204.9,356.6 1209.5,359.0 1192.4,368.0 1187.9,365.5" fill="#e6d44c" opacity="1.0" stroke="#e6d44c" stroke-width="0.8" stroke-linejoin="round"/>
<polygon points="1212.3,360.5 1216.9,362.9 1199.9,372.1 1195.2,369.5" fill="#e6d44c" opacity="1.0" stroke="#e6d44c" stroke-width="0.8" stroke-linejoin="round"/>
<polygon points="1219.8,364.4 1224.6,366.9 1207.4,376.3 1202.7,373.7" fill="#e6d44c" opacity="1.0" stroke="#e6d44c" stroke-width="0.8" stroke-linejoin="round"/>
<polygon points="1227.5,368.5 1232.3,371.0 1215.2,380.5 1210.4,377.9" fill="#e6d44c" opacity="1.0" stroke="#e6d44c" stroke-width="0.8" stroke-linejoin="round"/>
<polygon points="1235.3,372.6 1240.2,375.2 1223.0,384.8 1218.1,382.1" fill="#e6d44c" opacity="1.0" stroke="#e6d44c" stroke-width="0.8" stroke-linejoin="round"/>
<polygon points="1243.3,376.8 1248.3,379.4 1231.1,389.2 1226.1,386.5" fill="#e6d44c" opacity="1.0" stroke="#e6d44c" stroke-width="0.8" stroke-linejoin="round"/>
<polygon points="1251.4,381.1 1256.5,383.7 1239.3,393.7 1234.2,390.9" fill="#e6d44c" opacity="1.0" stroke="#e6d44c" stroke-width="0.8" stroke-linejoin="round"/>
<polygon points="1259.6,385.4 1264.8,388.1 1247.6,398.3 1242.4,395.5" fill="#e6d44c" opacity="1.0" stroke="#e6d44c" stroke-width="0.8" stroke-linejoin="round"/>
<polygon points="1268.0,389.8 1273.3,392.6 1256.1,403.0 1250.8,400.1" fill="#e6d44c" opacity="1.0" stroke="#e6d44c" stroke-width="0.8" stroke-linejoin="round"/>
<polygon points="1276.6,394.4 1282.0,397.2 1264.8,407.7 1259.4,404.8" fill="#e6d44c" opacity="1.0" stroke="#e6d44c" stroke-width="0.8" stroke-linejoin="round"/>
<polygon points="1285.4,399.0 1290.9,401.9 1273.6,412.6 1268.1,409.6" fill="#e6d44c" opacity="1.0" stroke="#e6d44c" stroke-width="0.8" stroke-linejoin="round"/>
<polygon points="1294.3,403.7 1299.9,406.6 1282.7,417.6 1277.0,414.5" fill="#e6d44c" opacity="1.0" stroke="#e6d44c" stroke-width="0.8" stroke-linejoin="round"/>
<polygon points="1303.4,408.5 1309.2,411.5 1291.9,422.6 1286.1,419.5" fill="#e6d44c" opacity="1.0" stroke="#e6d44c" stroke-width="0.8" stroke-linejoin="round"/>
<polygon points="1495.2,289.5 1509.8,294.3 1506.6,296.4 1492.0,291.5" fill="#e6d44c" opacity="1.0" stroke="#e6d44c" stroke-width="0.8" stroke-linejoin="round"/>
<polygon points="1490.0,292.8 1504.7,297.7 1501.5,299.8 1486.8,294.9" fill="#e6d44c" opacity="1.0" stroke="#e6d44c" stroke-width="0.8" stroke-linejoin="round"/>
<polygon points="1484.8,296.1 1499.5,301.1 1496.2,303.3 1481.5,298.2" fill="#e6d44c" opacity="1.0" stroke="#e6d44c" stroke-width="0.8" stroke-linejoin="round"/>
<polygon points="1479.5,299.6 1494.2,304.6 1490.9,306.8 1476.1,301.7" fill="#e6d44c" opacity="1.0" stroke="#e6d44c" stroke-width="0.8" stroke-linejoin="round"/>
<polygon points="1474.1,303.0 1488.8,308.1 1485.5,310.4 1470.7,305.2" fill="#e6d44c" opacity="1.0" stroke="#e6d44c" stroke-width="0.8" stroke-linejoin="round"/>
<polygon points="1468.6,306.5 1483.4,311.7 1480.0,314.0 1465.1,308.7" fill="#e6d44c" opacity="1.0" stroke="#e6d44c" stroke-width="0.8" stroke-linejoin="round"/>
<polygon points="1463.0,310.1 1477.9,315.4 1474.4,317.7 1459.5,312.3" fill="#e6d44c" opacity="1.0" stroke="#e6d44c" stroke-width="0.8" stroke-linejoin="round"/>
<polygon points="1457.4,313.7 1472.3,319.1 1468.7,321.4 1453.8,316.0" fill="#e6d44c" opacity="1.0" stroke="#e6d44c" stroke-width="0.8" stroke-linejoin="round"/>
<polygon points="1451.7,317.4 1466.6,322.9 1463.0,325.2 1448.1,319.7" fill="#e6d44c" opacity="1.0" stroke="#e6d44c" stroke-width="0.8" stroke-linejoin="round"/>
<polygon points="1445.8,321.1 1460.8,326.7 1457.2,329.1 1442.2,323.4" fill="#e6d44c" opacity="1.0" stroke="#e6d44c" stroke-width="0.8" stroke-linejoin="round"/>
<polygon points="1439.9,324.9 1454.9,330.6 1451.2,333.0 1436.2,327.3" fill="#e6d44c" opacity="1.0" stroke="#e6d44c" stroke-width="0.8" stroke-linejoin="round"/>
<polygon points="1433.9,328.7 1449.0,334.5 1445.2,337.0 1430.2,331.1" fill="#e6d44c" opacity="1.0" stroke="#e6d44c" stroke-width="0.8" stroke-linejoin="round"/>
<polygon points="1427.9,332.6 1442.9,338.5 1439.1,341.0 1424.0,335.1" fill="#e6d44c" opacity="1.0" stroke="#e6d44c" stroke-width="0.8" stroke-linejoin="round"/>
<polygon points="1421.7,336.6 1436.8,342.6 1432.9,345.1 1417.8,339.1" fill="#e6d44c" opacity="1.0" stroke="#e6d44c" stroke-width="0.8" stroke-linejoin="round"/>
<polygon points="1415.4,340.6 1430.5,346.7 1426.6,349.3 1411.5,343.1" fill="#e6d44c" opacity="1.0" stroke="#e6d44c" stroke-width="0.8" stroke-linejoin="round"/>
<polygon points="1409.0,344.7 1424.2,350.9 1420.2,353.5 1405.0,347.3" fill="#e6d44c" opacity="1.0" stroke="#e6d44c" stroke-width="0.8" stroke-linejoin="round"/>
<polygon points="1402.6,348.8 1417.7,355.2 1413.7,357.8 1398.5,351.5" fill="#e6d44c" opacity="1.0" stroke="#e6d44c" stroke-width="0.8" stroke-linejoin="round"/>
<polygon points="1396.0,353.1 1411.2,359.5 1407.0,362.2 1391.8,355.7" fill="#e6d44c" opacity="1.0" stroke="#e6d44c" stroke-width="0.8" stroke-linejoin="round"/>
<polygon points="1389.3,357.4 1404.5,363.9 1400.3,366.7 1385.1,360.0" fill="#e6d44c" opacity="1.0" stroke="#e6d44c" stroke-width="0.8" stroke-linejoin="round"/>
<polygon points="1382.5,361.7 1397.7,368.4 1393.5,371.2 1378.2,364.4" fill="#e6d44c" opacity="1.0" stroke="#e6d44c" stroke-width="0.8" stroke-linejoin="round"/>
<polygon points="1375.6,366.1 1390.8,372.9 1386.5,375.8 1371.2,368.9" fill="#e6d44c" opacity="1.0" stroke="#e6d44c" stroke-width="0.8" stroke-linejoin="round"/>
<polygon points="1368.6,370.6 1383.8,377.6 1379.4,380.5 1364.2,373.5" fill="#e6d44c" opacity="1.0" stroke="#e6d44c" stroke-width="0.8" stroke-linejoin="round"/>
<polygon points="1361.4,375.2 1376.7,382.3 1372.2,385.2 1356.9,378.1" fill="#e6d44c" opacity="1.0" stroke="#e6d44c" stroke-width="0.8" stroke-linejoin="round"/>
<polygon points="1354.2,379.9 1369.5,387.1 1364.9,390.1 1349.6,382.8" fill="#e6d44c" opacity="1.0" stroke="#e6d44c" stroke-width="0.8" stroke-linejoin="round"/>
<polygon points="1346.8,384.6 1362.1,391.9 1357.4,395.0 1342.1,387.6" fill="#e6d44c" opacity="1.0" stroke="#e6d44c" stroke-width="0.8" stroke-linejoin="round"/>
<polygon points="1339.3,389.4 1354.6,396.9 1349.9,400.0 1334.5,392.5" fill="#e6d44c" opacity="1.0" stroke="#e6d44c" stroke-width="0.8" stroke-linejoin="round"/>
<polygon points="1331.6,394.3 1347.0,401.9 1342.2,405.1 1326.8,397.4" fill="#e6d44c" opacity="1.0" stroke="#e6d44c" stroke-width="0.8" stroke-linejoin="round"/>
<polygon points="1323.8,399.3 1339.2,407.1 1334.3,410.3 1319.0,402.4" fill="#e6d44c" opacity="1.0" stroke="#e6d44c" stroke-width="0.8" stroke-linejoin="round"/>
<polygon points="1314.4,224.2 1321.7,226.5 1317.2,228.5 1309.9,226.1" fill="#d8c656" opacity="0.9" stroke="#d8c656" stroke-width="0.8" stroke-linejoin="round"/>
<polygon points="1307.1,227.4 1314.4,229.8 1309.9,231.8 1302.6,229.4" fill="#d8c656" opacity="0.9" stroke="#d8c656" stroke-width="0.8" stroke-linejoin="round"/>
<polygon points="1299.8,230.6 1307.1,233.0 1302.5,235.1 1295.2,232.6" fill="#d8c656" opacity="0.9" stroke="#d8c656" stroke-width="0.8" stroke-linejoin="round"/>
<polygon points="1292.3,233.9 1299.6,236.4 1294.9,238.5 1287.7,236.0" fill="#d8c656" opacity="0.9" stroke="#d8c656" stroke-width="0.8" stroke-linejoin="round"/>
<polygon points="1284.8,237.2 1292.0,239.8 1287.3,241.9 1280.0,239.3" fill="#d8c656" opacity="0.9" stroke="#d8c656" stroke-width="0.8" stroke-linejoin="round"/>
<polygon points="1277.0,240.6 1284.3,243.2 1279.5,245.4 1272.2,242.8" fill="#d8c656" opacity="0.9" stroke="#d8c656" stroke-width="0.8" stroke-linejoin="round"/>
<polygon points="1269.2,244.1 1276.5,246.7 1271.6,248.9 1264.3,246.3" fill="#d8c656" opacity="0.9" stroke="#d8c656" stroke-width="0.8" stroke-linejoin="round"/>
<polygon points="1261.2,247.6 1268.5,250.3 1263.5,252.5 1256.2,249.8" fill="#d8c656" opacity="0.9" stroke="#d8c656" stroke-width="0.8" stroke-linejoin="round"/>
<polygon points="1253.1,251.2 1260.4,253.9 1255.3,256.2 1248.0,253.4" fill="#d8c656" opacity="0.9" stroke="#d8c656" stroke-width="0.8" stroke-linejoin="round"/>
<polygon points="1244.9,254.8 1252.2,257.6 1247.0,259.9 1239.7,257.1" fill="#d8c656" opacity="0.9" stroke="#d8c656" stroke-width="0.8" stroke-linejoin="round"/>
<polygon points="1236.5,258.5 1243.8,261.4 1238.5,263.7 1231.2,260.9" fill="#d8c656" opacity="0.9" stroke="#d8c656" stroke-width="0.8" stroke-linejoin="round"/>
<polygon points="1228.0,262.3 1235.2,265.2 1229.9,267.6 1222.6,264.7" fill="#d8c656" opacity="0.9" stroke="#d8c656" stroke-width="0.8" stroke-linejoin="round"/>
<polygon points="1219.3,266.1 1226.5,269.1 1221.1,271.5 1213.8,268.5" fill="#d8c656" opacity="0.9" stroke="#d8c656" stroke-width="0.8" stroke-linejoin="round"/>
<polygon points="1210.5,270.0 1217.7,273.0 1212.1,275.5 1204.9,272.5" fill="#d8c656" opacity="0.9" stroke="#d8c656" stroke-width="0.8" stroke-linejoin="round"/>
<polygon points="1201.5,274.0 1208.7,277.1 1203.0,279.6 1195.8,276.5" fill="#d8c656" opacity="0.9" stroke="#d8c656" stroke-width="0.8" stroke-linejoin="round"/>
<polygon points="1192.3,278.0 1199.5,281.2 1193.7,283.8 1186.6,280.6" fill="#d8c656" opacity="0.9" stroke="#d8c656" stroke-width="0.8" stroke-linejoin="round"/>
<polygon points="1183.0,282.1 1190.2,285.3 1184.3,288.0 1177.1,284.7" fill="#d8c656" opacity="0.9" stroke="#d8c656" stroke-width="0.8" stroke-linejoin="round"/>
<polygon points="1173.5,286.3 1180.7,289.6 1174.7,292.3 1167.6,289.0" fill="#d8c656" opacity="0.9" stroke="#d8c656" stroke-width="0.8" stroke-linejoin="round"/>
<polygon points="1163.9,290.6 1171.0,293.9 1164.9,296.7 1157.8,293.3" fill="#d8c656" opacity="0.9" stroke="#d8c656" stroke-width="0.8" stroke-linejoin="round"/>
<polygon points="1154.0,294.9 1161.1,298.3 1154.9,301.1 1147.8,297.7" fill="#d8c656" opacity="0.9" stroke="#d8c656" stroke-width="0.8" stroke-linejoin="round"/>
<polygon points="1144.0,299.4 1151.1,302.8 1144.7,305.7 1137.7,302.1" fill="#d8c656" opacity="0.9" stroke="#d8c656" stroke-width="0.8" stroke-linejoin="round"/>
<polygon points="1133.8,303.9 1140.8,307.4 1134.4,310.3 1127.3,306.7" fill="#d8c656" opacity="0.9" stroke="#d8c656" stroke-width="0.8" stroke-linejoin="round"/>
<polygon points="1348.9,225.0 1352.3,226.1 1345.5,229.2 1342.1,228.2" fill="#d8c656" opacity="0.9" stroke="#d8c656" stroke-width="0.8" stroke-linejoin="round"/>
<polygon points="1354.4,226.7 1357.9,227.8 1351.1,231.0 1347.6,229.9" fill="#d8c656" opacity="0.9" stroke="#d8c656" stroke-width="0.8" stroke-linejoin="round"/>
<polygon points="1360.1,228.5 1363.6,229.6 1356.8,232.8 1353.2,231.7" fill="#d8c656" opacity="0.9" stroke="#d8c656" stroke-width="0.8" stroke-linejoin="round"/>
<polygon points="1365.8,230.3 1369.3,231.4 1362.5,234.6 1358.9,233.5" fill="#d8c656" opacity="0.9" stroke="#d8c656" stroke-width="0.8" stroke-linejoin="round"/>
<polygon points="1371.5,232.1 1375.1,233.2 1368.3,236.5 1364.7,235.3" fill="#d8c656" opacity="0.9" stroke="#d8c656" stroke-width="0.8" stroke-linejoin="round"/>
<polygon points="1377.3,233.9 1381.0,235.0 1374.2,238.3 1370.5,237.2" fill="#d8c656" opacity="0.9" stroke="#d8c656" stroke-width="0.8" stroke-linejoin="round"/>
<polygon points="1383.2,235.7 1386.9,236.9 1380.1,240.2 1376.4,239.0" fill="#d8c656" opacity="0.9" stroke="#d8c656" stroke-width="0.8" stroke-linejoin="round"/>
<polygon points="1389.2,237.6 1392.9,238.7 1386.1,242.1 1382.4,240.9" fill="#d8c656" opacity="0.9" stroke="#d8c656" stroke-width="0.8" stroke-linejoin="round"/>
<polygon points="1395.2,239.4 1399.0,240.6 1392.2,244.1 1388.4,242.9" fill="#d8c656" opacity="0.9" stroke="#d8c656" stroke-width="0.8" stroke-linejoin="round"/>
<polygon points="1401.3,241.3 1405.2,242.5 1398.4,246.0 1394.6,244.8" fill="#d8c656" opacity="0.9" stroke="#d8c656" stroke-width="0.8" stroke-linejoin="round"/>
<polygon points="1407.5,243.3 1411.4,244.5 1404.6,248.0 1400.8,246.8" fill="#d8c656" opacity="0.9" stroke="#d8c656" stroke-width="0.8" stroke-linejoin="round"/>
<polygon points="1413.8,245.2 1417.7,246.4 1411.0,250.0 1407.0,248.7" fill="#d8c656" opacity="0.9" stroke="#d8c656" stroke-width="0.8" stroke-linejoin="round"/>
<polygon points="1420.1,247.2 1424.1,248.4 1417.3,252.0 1413.4,250.7" fill="#d8c656" opacity="0.9" stroke="#d8c656" stroke-width="0.8" stroke-linejoin="round"/>
<polygon points="1426.5,249.2 1430.5,250.4 1423.8,254.1 1419.8,252.8" fill="#d8c656" opacity="0.9" stroke="#d8c656" stroke-width="0.8" stroke-linejoin="round"/>
<polygon points="1433.0,251.2 1437.1,252.5 1430.4,256.1 1426.3,254.8" fill="#d8c656" opacity="0.9" stroke="#d8c656" stroke-width="0.8" stroke-linejoin="round"/>
<polygon points="1439.6,253.3 1443.7,254.5 1437.0,258.2 1432.9,256.9" fill="#d8c656" opacity="0.9" stroke="#d8c656" stroke-width="0.8" stroke-linejoin="round"/>
<polygon points="1446.3,255.3 1450.4,256.6 1443.7,260.4 1439.6,259.0" fill="#d8c656" opacity="0.9" stroke="#d8c656" stroke-width="0.8" stroke-linejoin="round"/>
<polygon points="1453.0,257.4 1457.2,258.7 1450.6,262.5 1446.3,261.2" fill="#d8c656" opacity="0.9" stroke="#d8c656" stroke-width="0.8" stroke-linejoin="round"/>
<polygon points="1459.8,259.6 1464.1,260.9 1457.5,264.7 1453.2,263.4" fill="#d8c656" opacity="0.9" stroke="#d8c656" stroke-width="0.8" stroke-linejoin="round"/>
<polygon points="1466.7,261.7 1471.1,263.1 1464.5,266.9 1460.1,265.6" fill="#d8c656" opacity="0.9" stroke="#d8c656" stroke-width="0.8" stroke-linejoin="round"/>
<polygon points="1473.8,263.9 1478.1,265.3 1471.5,269.2 1467.1,267.8" fill="#d8c656" opacity="0.9" stroke="#d8c656" stroke-width="0.8" stroke-linejoin="round"/>
<polygon points="1480.9,266.1 1485.3,267.5 1478.7,271.5 1474.3,270.0" fill="#d8c656" opacity="0.9" stroke="#d8c656" stroke-width="0.8" stroke-linejoin="round"/>
<polygon points="1488.0,268.3 1492.5,269.7 1486.0,273.8 1481.5,272.3" fill="#d8c656" opacity="0.9" stroke="#d8c656" stroke-width="0.8" stroke-linejoin="round"/>
<polygon points="1495.3,270.6 1499.9,272.0 1493.4,276.1 1488.8,274.6" fill="#d8c656" opacity="0.9" stroke="#d8c656" stroke-width="0.8" stroke-linejoin="round"/>
<polygon points="1502.7,272.9 1507.3,274.3 1500.8,278.5 1496.2,277.0" fill="#d8c656" opacity="0.9" stroke="#d8c656" stroke-width="0.8" stroke-linejoin="round"/>
<polygon points="1510.2,275.2 1514.9,276.7 1508.4,280.9 1503.7,279.4" fill="#d8c656" opacity="0.9" stroke="#d8c656" stroke-width="0.8" stroke-linejoin="round"/>
<g clip-path="url(#cp2)"><ellipse cx="1320" cy="300" rx="70" ry="30" fill="#b050e8" opacity="0.5" filter="url(#blur8)"/></g>
<polygon points="1319.6,243.6 1330.7,247.3 1319.9,252.3 1308.8,248.5" fill="#b8b4e0" stroke="#b8b4e0" stroke-width="1.5" stroke-linejoin="round"/>
<polygon points="1323.2,241.9 1333.4,245.4 1322.7,250.3 1312.4,246.8" fill="#2e2a36" stroke="#2e2a36" stroke-width="1.6" stroke-linejoin="round"/>
<polygon points="1336.8,249.3 1348.1,253.1 1337.4,258.3 1326.0,254.4" fill="#b8b4e0" stroke="#b8b4e0" stroke-width="1.5" stroke-linejoin="round"/>
<polygon points="1340.3,247.7 1350.7,251.2 1340.1,256.2 1329.6,252.7" fill="#2e2a36" stroke="#2e2a36" stroke-width="1.6" stroke-linejoin="round"/>
<polygon points="1354.3,255.2 1365.9,259.1 1355.3,264.4 1343.6,260.4" fill="#b8b4e0" stroke="#b8b4e0" stroke-width="1.5" stroke-linejoin="round"/>
<polygon points="1357.8,253.5 1368.4,257.1 1357.9,262.3 1347.2,258.6" fill="#2e2a36" stroke="#2e2a36" stroke-width="1.6" stroke-linejoin="round"/>
<polygon points="1372.2,261.2 1384.0,265.2 1373.5,270.6 1361.6,266.5" fill="#b8b4e0" stroke="#b8b4e0" stroke-width="1.5" stroke-linejoin="round"/>
<polygon points="1375.6,259.5 1386.6,263.1 1376.2,268.5 1365.2,264.7" fill="#2e2a36" stroke="#2e2a36" stroke-width="1.6" stroke-linejoin="round"/>
<polygon points="1390.5,267.4 1402.6,271.4 1392.2,277.0 1380.0,272.8" fill="#b8b4e0" stroke="#b8b4e0" stroke-width="1.5" stroke-linejoin="round"/>
<polygon points="1393.9,265.6 1405.1,269.3 1394.8,274.8 1383.6,271.0" fill="#2e2a36" stroke="#2e2a36" stroke-width="1.6" stroke-linejoin="round"/>
<polygon points="1409.2,273.7 1421.6,277.8 1411.4,283.5 1398.9,279.2" fill="#b8b4e0" stroke="#b8b4e0" stroke-width="1.5" stroke-linejoin="round"/>
<polygon points="1412.6,271.8 1424.0,275.6 1413.8,281.3 1402.3,277.4" fill="#2e2a36" stroke="#2e2a36" stroke-width="1.6" stroke-linejoin="round"/>
<polygon points="1428.3,280.1 1441.0,284.3 1430.9,290.2 1418.1,285.8" fill="#b8b4e0" stroke="#b8b4e0" stroke-width="1.5" stroke-linejoin="round"/>
<polygon points="1431.7,278.2 1443.4,282.1 1433.3,287.9 1421.6,283.9" fill="#2e2a36" stroke="#2e2a36" stroke-width="1.6" stroke-linejoin="round"/>
<polygon points="1301.4,251.8 1312.6,255.7 1301.4,260.9 1290.1,257.0" fill="#b8b4e0" stroke="#b8b4e0" stroke-width="1.5" stroke-linejoin="round"/>
<polygon points="1305.1,250.2 1315.4,253.7 1304.3,258.9 1293.9,255.2" fill="#2e2a36" stroke="#2e2a36" stroke-width="1.6" stroke-linejoin="round"/>
<polygon points="1318.7,257.8 1330.1,261.8 1319.0,267.1 1307.5,263.1" fill="#b8b4e0" stroke="#b8b4e0" stroke-width="1.5" stroke-linejoin="round"/>
<polygon points="1322.4,256.1 1332.9,259.7 1321.8,265.0 1311.3,261.3" fill="#2e2a36" stroke="#2e2a36" stroke-width="1.6" stroke-linejoin="round"/>
<polygon points="1336.4,263.9 1348.1,267.9 1337.0,273.4 1325.3,269.3" fill="#ffffff" stroke="#ffffff" stroke-width="1.5" stroke-linejoin="round"/>
<polygon points="1340.0,262.1 1350.8,265.8 1339.8,271.3 1329.0,267.5" fill="#f0d0f0" stroke="#f0d0f0" stroke-width="1.6" stroke-linejoin="round"/>
<polygon points="1354.4,270.1 1366.4,274.3 1355.5,279.9 1343.4,275.7" fill="#ffffff" stroke="#ffffff" stroke-width="1.5" stroke-linejoin="round"/>
<polygon points="1358.0,268.3 1369.1,272.1 1358.2,277.7 1347.1,273.8" fill="#f0d0f0" stroke="#f0d0f0" stroke-width="1.6" stroke-linejoin="round"/>
<polygon points="1372.9,276.5 1385.2,280.7 1374.4,286.5 1362.0,282.2" fill="#ffffff" stroke="#ffffff" stroke-width="1.5" stroke-linejoin="round"/>
<polygon points="1376.5,274.7 1387.8,278.5 1377.0,284.3 1365.7,280.3" fill="#f0d0f0" stroke="#f0d0f0" stroke-width="1.6" stroke-linejoin="round"/>
<polygon points="1391.8,283.1 1404.4,287.4 1393.7,293.3 1381.1,288.9" fill="#b8b4e0" stroke="#b8b4e0" stroke-width="1.5" stroke-linejoin="round"/>
<polygon points="1395.4,281.1 1406.9,285.1 1396.3,291.0 1384.7,286.9" fill="#2e2a36" stroke="#2e2a36" stroke-width="1.6" stroke-linejoin="round"/>
<polygon points="1411.2,289.7 1424.0,294.2 1413.5,300.3 1400.6,295.7" fill="#b8b4e0" stroke="#b8b4e0" stroke-width="1.5" stroke-linejoin="round"/>
<polygon points="1414.7,287.8 1426.5,291.8 1416.0,297.9 1404.1,293.7" fill="#2e2a36" stroke="#2e2a36" stroke-width="1.6" stroke-linejoin="round"/>
<polygon points="1282.4,260.4 1293.7,264.5 1282.0,269.9 1270.7,265.8" fill="#b8b4e0" stroke="#b8b4e0" stroke-width="1.5" stroke-linejoin="round"/>
<polygon points="1286.3,258.7 1296.7,262.4 1285.1,267.7 1274.6,264.0" fill="#2e2a36" stroke="#2e2a36" stroke-width="1.6" stroke-linejoin="round"/>
<polygon points="1299.9,266.6 1311.4,270.7 1299.8,276.3 1288.2,272.1" fill="#b8b4e0" stroke="#b8b4e0" stroke-width="1.5" stroke-linejoin="round"/>
<polygon points="1303.7,264.8 1314.3,268.6 1302.8,274.1 1292.1,270.3" fill="#2e2a36" stroke="#2e2a36" stroke-width="1.6" stroke-linejoin="round"/>
<polygon points="1317.7,273.0 1329.5,277.2 1318.0,282.9 1306.1,278.6" fill="#e0b0f0" stroke="#e0b0f0" stroke-width="1.5" stroke-linejoin="round"/>
<polygon points="1321.5,271.1 1332.4,275.0 1320.9,280.6 1310.0,276.7" fill="#a040c4" stroke="#a040c4" stroke-width="1.6" stroke-linejoin="round"/>
<polygon points="1335.9,279.4 1348.0,283.7 1336.6,289.6 1324.5,285.2" fill="#b8b4e0" stroke="#b8b4e0" stroke-width="1.5" stroke-linejoin="round"/>
<polygon points="1339.7,277.6 1350.8,281.5 1339.5,287.3 1328.3,283.3" fill="#2e2a36" stroke="#2e2a36" stroke-width="1.6" stroke-linejoin="round"/>
<polygon points="1354.6,286.1 1367.0,290.5 1355.7,296.5 1343.2,292.0" fill="#b8b4e0" stroke="#b8b4e0" stroke-width="1.5" stroke-linejoin="round"/>
<polygon points="1358.3,284.1 1369.7,288.2 1358.5,294.1 1347.1,290.0" fill="#2e2a36" stroke="#2e2a36" stroke-width="1.6" stroke-linejoin="round"/>
<polygon points="1373.7,292.9 1386.4,297.4 1375.2,303.6 1362.5,299.0" fill="#b8b4e0" stroke="#b8b4e0" stroke-width="1.5" stroke-linejoin="round"/>
<polygon points="1377.4,290.9 1389.1,295.0 1378.0,301.1 1366.3,296.9" fill="#2e2a36" stroke="#2e2a36" stroke-width="1.6" stroke-linejoin="round"/>
<polygon points="1393.3,299.8 1406.3,304.4 1395.2,310.8 1382.2,306.1" fill="#b8b4e0" stroke="#b8b4e0" stroke-width="1.5" stroke-linejoin="round"/>
<polygon points="1396.9,297.8 1408.9,302.0 1397.9,308.3 1385.9,304.0" fill="#2e2a36" stroke="#2e2a36" stroke-width="1.6" stroke-linejoin="round"/>
<polygon points="1262.6,269.4 1274.0,273.6 1261.8,279.3 1250.4,275.0" fill="#b8b4e0" stroke="#b8b4e0" stroke-width="1.5" stroke-linejoin="round"/>
<polygon points="1266.7,267.6 1277.1,271.4 1265.0,277.0 1254.5,273.1" fill="#2e2a36" stroke="#2e2a36" stroke-width="1.6" stroke-linejoin="round"/>
<polygon points="1280.2,275.9 1291.9,280.1 1279.7,285.9 1268.0,281.6" fill="#b8b4e0" stroke="#b8b4e0" stroke-width="1.5" stroke-linejoin="round"/>
<polygon points="1284.2,274.0 1294.9,277.9 1282.9,283.6 1272.1,279.6" fill="#2e2a36" stroke="#2e2a36" stroke-width="1.6" stroke-linejoin="round"/>
<polygon points="1298.2,282.4 1310.1,286.8 1298.1,292.8 1286.1,288.3" fill="#e0b0f0" stroke="#e0b0f0" stroke-width="1.5" stroke-linejoin="round"/>
<polygon points="1302.2,280.5 1313.2,284.5 1301.2,290.4 1290.2,286.3" fill="#a040c4" stroke="#a040c4" stroke-width="1.6" stroke-linejoin="round"/>
<polygon points="1316.6,289.2 1328.8,293.6 1316.9,299.8 1304.6,295.2" fill="#e0b0f0" stroke="#e0b0f0" stroke-width="1.5" stroke-linejoin="round"/>
<polygon points="1320.6,287.2 1331.8,291.3 1320.0,297.3 1308.7,293.2" fill="#a040c4" stroke="#a040c4" stroke-width="1.6" stroke-linejoin="round"/>
<polygon points="1335.5,296.0 1348.0,300.6 1336.2,306.9 1323.6,302.2" fill="#e0b0f0" stroke="#e0b0f0" stroke-width="1.5" stroke-linejoin="round"/>
<polygon points="1339.4,294.0 1350.9,298.2 1339.2,304.4 1327.6,300.2" fill="#a040c4" stroke="#a040c4" stroke-width="1.6" stroke-linejoin="round"/>
<polygon points="1354.8,303.1 1367.6,307.8 1355.9,314.3 1343.0,309.5" fill="#b8b4e0" stroke="#b8b4e0" stroke-width="1.5" stroke-linejoin="round"/>
<polygon points="1358.7,301.0 1370.4,305.3 1358.9,311.7 1347.0,307.3" fill="#2e2a36" stroke="#2e2a36" stroke-width="1.6" stroke-linejoin="round"/>
<polygon points="1374.6,310.3 1387.7,315.1 1376.1,321.8 1362.9,316.9" fill="#b8b4e0" stroke="#b8b4e0" stroke-width="1.5" stroke-linejoin="round"/>
<polygon points="1378.4,308.2 1390.5,312.6 1379.0,319.2 1366.9,314.7" fill="#2e2a36" stroke="#2e2a36" stroke-width="1.6" stroke-linejoin="round"/>
<polygon points="1242.0,278.8 1253.5,283.1 1240.7,289.0 1229.2,284.6" fill="#b8b4e0" stroke="#b8b4e0" stroke-width="1.5" stroke-linejoin="round"/>
<polygon points="1246.2,276.9 1256.8,280.8 1244.1,286.7 1233.5,282.7" fill="#2e2a36" stroke="#2e2a36" stroke-width="1.6" stroke-linejoin="round"/>
<polygon points="1259.7,285.5 1271.5,289.9 1258.8,296.0 1247.0,291.4" fill="#b8b4e0" stroke="#b8b4e0" stroke-width="1.5" stroke-linejoin="round"/>
<polygon points="1263.9,283.5 1274.7,287.6 1262.2,293.6 1251.3,289.4" fill="#2e2a36" stroke="#2e2a36" stroke-width="1.6" stroke-linejoin="round"/>
<polygon points="1277.9,292.3 1289.9,296.8 1277.3,303.1 1265.2,298.4" fill="#ffffff" stroke="#ffffff" stroke-width="1.5" stroke-linejoin="round"/>
<polygon points="1282.0,290.3 1293.1,294.4 1280.6,300.6 1269.5,296.4" fill="#f0d0f0" stroke="#f0d0f0" stroke-width="1.6" stroke-linejoin="round"/>
<polygon points="1296.5,299.3 1308.8,303.9 1296.3,310.4 1283.9,305.6" fill="#b8b4e0" stroke="#b8b4e0" stroke-width="1.5" stroke-linejoin="round"/>
<polygon points="1300.6,297.2 1311.9,301.5 1299.5,307.8 1288.1,303.5" fill="#2e2a36" stroke="#2e2a36" stroke-width="1.6" stroke-linejoin="round"/>
<polygon points="1315.5,306.5 1328.1,311.2 1315.8,317.8 1303.1,313.0" fill="#b8b4e0" stroke="#b8b4e0" stroke-width="1.5" stroke-linejoin="round"/>
<polygon points="1319.6,304.4 1331.2,308.7 1318.9,315.2 1307.2,310.8" fill="#2e2a36" stroke="#2e2a36" stroke-width="1.6" stroke-linejoin="round"/>
<polygon points="1335.0,313.8 1347.9,318.7 1335.7,325.5 1322.7,320.5" fill="#b8b4e0" stroke="#b8b4e0" stroke-width="1.5" stroke-linejoin="round"/>
<polygon points="1339.0,311.6 1350.9,316.1 1338.8,322.8 1326.8,318.2" fill="#2e2a36" stroke="#2e2a36" stroke-width="1.6" stroke-linejoin="round"/>
<polygon points="1355.0,321.4 1368.3,326.3 1356.2,333.3 1342.8,328.2" fill="#b8b4e0" stroke="#b8b4e0" stroke-width="1.5" stroke-linejoin="round"/>
<polygon points="1359.0,319.1 1371.2,323.7 1359.2,330.6 1346.9,325.9" fill="#2e2a36" stroke="#2e2a36" stroke-width="1.6" stroke-linejoin="round"/>
<polygon points="1220.5,288.6 1232.0,293.1 1218.7,299.3 1207.1,294.7" fill="#b8b4e0" stroke="#b8b4e0" stroke-width="1.5" stroke-linejoin="round"/>
<polygon points="1224.9,286.6 1235.5,290.7 1222.3,296.8 1211.6,292.6" fill="#2e2a36" stroke="#2e2a36" stroke-width="1.6" stroke-linejoin="round"/>
<polygon points="1238.3,295.5 1250.2,300.1 1236.9,306.5 1225.0,301.8" fill="#b8b4e0" stroke="#b8b4e0" stroke-width="1.5" stroke-linejoin="round"/>
<polygon points="1242.7,293.5 1253.6,297.7 1240.5,304.0 1229.5,299.7" fill="#2e2a36" stroke="#2e2a36" stroke-width="1.6" stroke-linejoin="round"/>
<polygon points="1256.6,302.6 1268.8,307.3 1255.6,313.9 1243.4,309.0" fill="#ffffff" stroke="#ffffff" stroke-width="1.5" stroke-linejoin="round"/>
<polygon points="1261.0,300.5 1272.1,304.8 1259.1,311.3 1247.8,306.9" fill="#f0d0f0" stroke="#f0d0f0" stroke-width="1.6" stroke-linejoin="round"/>
<polygon points="1275.4,309.9 1287.8,314.7 1274.7,321.5 1262.2,316.5" fill="#ffffff" stroke="#ffffff" stroke-width="1.5" stroke-linejoin="round"/>
<polygon points="1279.7,307.8 1291.1,312.2 1278.2,318.8 1266.7,314.3" fill="#f0d0f0" stroke="#f0d0f0" stroke-width="1.6" stroke-linejoin="round"/>
<polygon points="1294.6,317.4 1307.3,322.3 1294.4,329.3 1281.6,324.2" fill="#ffffff" stroke="#ffffff" stroke-width="1.5" stroke-linejoin="round"/>
<polygon points="1298.8,315.2 1310.6,319.7 1297.7,326.5 1285.9,321.9" fill="#f0d0f0" stroke="#f0d0f0" stroke-width="1.6" stroke-linejoin="round"/>
<polygon points="1314.3,325.0 1327.4,330.1 1314.5,337.2 1301.4,332.0" fill="#b8b4e0" stroke="#b8b4e0" stroke-width="1.5" stroke-linejoin="round"/>
<polygon points="1318.5,322.8 1330.5,327.4 1317.8,334.4 1305.7,329.7" fill="#2e2a36" stroke="#2e2a36" stroke-width="1.6" stroke-linejoin="round"/>
<polygon points="1334.5,332.9 1347.9,338.1 1335.2,345.4 1321.7,340.1" fill="#b8b4e0" stroke="#b8b4e0" stroke-width="1.5" stroke-linejoin="round"/>
<polygon points="1338.7,330.5 1351.0,335.3 1338.4,342.6 1326.0,337.7" fill="#2e2a36" stroke="#2e2a36" stroke-width="1.6" stroke-linejoin="round"/>
<polygon points="1198.0,298.8 1209.6,303.5 1195.6,309.9 1183.9,305.2" fill="#b8b4e0" stroke="#b8b4e0" stroke-width="1.5" stroke-linejoin="round"/>
<polygon points="1202.5,296.7 1213.3,301.0 1199.4,307.4 1188.7,303.0" fill="#2e2a36" stroke="#2e2a36" stroke-width="1.6" stroke-linejoin="round"/>
<polygon points="1215.9,306.0 1227.9,310.8 1214.0,317.5 1202.0,312.6" fill="#b8b4e0" stroke="#b8b4e0" stroke-width="1.5" stroke-linejoin="round"/>
<polygon points="1220.5,303.9 1231.5,308.3 1217.7,314.9 1206.7,310.4" fill="#2e2a36" stroke="#2e2a36" stroke-width="1.6" stroke-linejoin="round"/>
<polygon points="1234.4,313.4 1246.6,318.3 1232.8,325.2 1220.5,320.2" fill="#b8b4e0" stroke="#b8b4e0" stroke-width="1.5" stroke-linejoin="round"/>
<polygon points="1238.9,311.2 1250.2,315.7 1236.5,322.5 1225.2,317.9" fill="#2e2a36" stroke="#2e2a36" stroke-width="1.6" stroke-linejoin="round"/>
<polygon points="1253.3,321.0 1265.8,326.1 1252.1,333.1 1239.5,327.9" fill="#b8b4e0" stroke="#b8b4e0" stroke-width="1.5" stroke-linejoin="round"/>
<polygon points="1257.8,318.8 1269.3,323.4 1255.8,330.3 1244.2,325.6" fill="#2e2a36" stroke="#2e2a36" stroke-width="1.6" stroke-linejoin="round"/>
<polygon points="1272.7,328.8 1285.5,334.0 1272.0,341.2 1259.0,335.9" fill="#b8b4e0" stroke="#b8b4e0" stroke-width="1.5" stroke-linejoin="round"/>
<polygon points="1277.1,326.5 1289.0,331.2 1275.5,338.4 1263.6,333.5" fill="#2e2a36" stroke="#2e2a36" stroke-width="1.6" stroke-linejoin="round"/>
<polygon points="1292.6,336.8 1305.8,342.1 1292.3,349.6 1279.0,344.1" fill="#b8b4e0" stroke="#b8b4e0" stroke-width="1.5" stroke-linejoin="round"/>
<polygon points="1297.0,334.4 1309.1,339.3 1295.8,346.6 1283.6,341.7" fill="#2e2a36" stroke="#2e2a36" stroke-width="1.6" stroke-linejoin="round"/>
<polygon points="1313.0,345.0 1326.5,350.4 1313.2,358.1 1299.6,352.5" fill="#b8b4e0" stroke="#b8b4e0" stroke-width="1.5" stroke-linejoin="round"/>
<polygon points="1317.4,342.5 1329.8,347.5 1316.6,355.1 1304.1,350.0" fill="#2e2a36" stroke="#2e2a36" stroke-width="1.6" stroke-linejoin="round"/>
<g mask="url(#mbv)"><rect x="1250" y="-20" width="180" height="190" fill="url(#gb)" filter="url(#blur4)"/></g>
<polygon points="1084.9,186 1325,275.4 1325,278.4 1084.9,188.5" fill="#8c88ea"/>
<polygon points="1325,275.4 1585,154.5 1585,157.0 1325,278.4" fill="#8884e4"/>
<polygon points="1084.9,186 1361.5,108 1585,154.5 1325,275.4" fill="url(#mkbase)"/>
<g clip-path="url(#cpmask)"><ellipse cx="1350" cy="145" rx="120" ry="48" fill="#9a52da" opacity="0.7" filter="url(#blur8)"/><ellipse cx="1345" cy="135" rx="60" ry="25" fill="#9a44dc" opacity="0.5" filter="url(#blur8)"/></g>
<line x1="1233.5" y1="175.75" x2="1349" y2="141.25" stroke="#f2d8f8" stroke-width="8" stroke-linecap="butt" opacity="1.0" filter="url(#blur2)"/>
<line x1="1233.5" y1="175.75" x2="1344.5" y2="203.5" stroke="#f2d8f8" stroke-width="8" stroke-linecap="butt" opacity="1.0" filter="url(#blur2)"/>
<line x1="1304" y1="160" x2="1389.5" y2="178" stroke="#f2d8f8" stroke-width="8" stroke-linecap="butt" opacity="1.0" filter="url(#blur2)"/>
<line x1="1349" y1="141.25" x2="1440.5" y2="161.5" stroke="#f2d8f8" stroke-width="8" stroke-linecap="butt" opacity="1.0" filter="url(#blur2)"/>
<rect x="1335" y="44" width="6" height="116" fill="#ecd2f4" opacity="0.9" filter="url(#blur2)"/>
<polygon points="557.9,1154 900.7,1261 900.7,1264 557.9,1157" fill="#6a66e6"/>
<polygon points="900.7,1261 1032,1066 1032,1069 900.7,1264" fill="#6460e0"/>
<polygon points="780.5,1029 1032,1066 900.7,1261 557.9,1154" fill="url(#pl3)"/>
<polygon points="788.7,1044.8 980.9,1075.5 872.6,1206.8 631.9,1140.3" fill="#74a4ee" filter="url(#soft2)"/>
<polygon points="618.3,1143.0 623.9,1144.5 607.2,1154.7 601.6,1153.0" fill="#e6d44c" opacity="1.0" stroke="#e6d44c" stroke-width="0.8" stroke-linejoin="round"/>
<polygon points="627.3,1145.5 632.9,1147.1 616.3,1157.4 610.6,1155.7" fill="#e6d44c" opacity="1.0" stroke="#e6d44c" stroke-width="0.8" stroke-linejoin="round"/>
<polygon points="636.3,1148.0 642.0,1149.7 625.6,1160.1 619.8,1158.4" fill="#e6d44c" opacity="1.0" stroke="#e6d44c" stroke-width="0.8" stroke-linejoin="round"/>
<polygon points="645.6,1150.6 651.4,1152.3 635.0,1162.9 629.1,1161.2" fill="#e6d44c" opacity="1.0" stroke="#e6d44c" stroke-width="0.8" stroke-linejoin="round"/>
<polygon points="655.0,1153.3 660.9,1155.0 644.6,1165.8 638.6,1164.0" fill="#e6d44c" opacity="1.0" stroke="#e6d44c" stroke-width="0.8" stroke-linejoin="round"/>
<polygon points="664.5,1156.0 670.6,1157.7 654.4,1168.7 648.3,1166.9" fill="#e6d44c" opacity="1.0" stroke="#e6d44c" stroke-width="0.8" stroke-linejoin="round"/>
<polygon points="674.3,1158.8 680.4,1160.5 664.4,1171.7 658.2,1169.8" fill="#e6d44c" opacity="1.0" stroke="#e6d44c" stroke-width="0.8" stroke-linejoin="round"/>
<polygon points="684.2,1161.6 690.5,1163.3 674.6,1174.7 668.3,1172.8" fill="#e6d44c" opacity="1.0" stroke="#e6d44c" stroke-width="0.8" stroke-linejoin="round"/>
<polygon points="694.3,1164.4 700.7,1166.2 685.0,1177.8 678.5,1175.9" fill="#e6d44c" opacity="1.0" stroke="#e6d44c" stroke-width="0.8" stroke-linejoin="round"/>
<polygon points="704.6,1167.3 711.1,1169.2 695.6,1181.0 689.0,1179.0" fill="#e6d44c" opacity="1.0" stroke="#e6d44c" stroke-width="0.8" stroke-linejoin="round"/>
<polygon points="715.1,1170.3 721.8,1172.2 706.4,1184.2 699.7,1182.2" fill="#e6d44c" opacity="1.0" stroke="#e6d44c" stroke-width="0.8" stroke-linejoin="round"/>
<polygon points="725.8,1173.3 732.6,1175.2 717.4,1187.5 710.6,1185.4" fill="#e6d44c" opacity="1.0" stroke="#e6d44c" stroke-width="0.8" stroke-linejoin="round"/>
<polygon points="736.8,1176.4 743.6,1178.4 728.6,1190.8 721.6,1188.7" fill="#e6d44c" opacity="1.0" stroke="#e6d44c" stroke-width="0.8" stroke-linejoin="round"/>
<polygon points="747.9,1179.6 754.9,1181.6 740.1,1194.2 733.0,1192.1" fill="#e6d44c" opacity="1.0" stroke="#e6d44c" stroke-width="0.8" stroke-linejoin="round"/>
<polygon points="759.2,1182.8 766.4,1184.8 751.8,1197.7 744.5,1195.5" fill="#e6d44c" opacity="1.0" stroke="#e6d44c" stroke-width="0.8" stroke-linejoin="round"/>
<polygon points="770.8,1186.1 778.1,1188.1 763.7,1201.2 756.3,1199.0" fill="#e6d44c" opacity="1.0" stroke="#e6d44c" stroke-width="0.8" stroke-linejoin="round"/>
<polygon points="782.6,1189.4 790.0,1191.5 775.9,1204.9 768.3,1202.6" fill="#e6d44c" opacity="1.0" stroke="#e6d44c" stroke-width="0.8" stroke-linejoin="round"/>
<polygon points="794.6,1192.8 802.2,1194.9 788.4,1208.6 780.6,1206.3" fill="#e6d44c" opacity="1.0" stroke="#e6d44c" stroke-width="0.8" stroke-linejoin="round"/>
<polygon points="806.9,1196.3 814.7,1198.5 801.1,1212.4 793.2,1210.0" fill="#e6d44c" opacity="1.0" stroke="#e6d44c" stroke-width="0.8" stroke-linejoin="round"/>
<polygon points="819.5,1199.8 827.4,1202.1 814.1,1216.2 806.0,1213.8" fill="#e6d44c" opacity="1.0" stroke="#e6d44c" stroke-width="0.8" stroke-linejoin="round"/>
<polygon points="832.3,1203.4 840.4,1205.7 827.4,1220.2 819.1,1217.7" fill="#e6d44c" opacity="1.0" stroke="#e6d44c" stroke-width="0.8" stroke-linejoin="round"/>
<polygon points="845.4,1207.1 853.7,1209.5 840.9,1224.2 832.5,1221.7" fill="#e6d44c" opacity="1.0" stroke="#e6d44c" stroke-width="0.8" stroke-linejoin="round"/>
<polygon points="858.8,1210.9 867.2,1213.3 854.8,1228.3 846.2,1225.8" fill="#e6d44c" opacity="1.0" stroke="#e6d44c" stroke-width="0.8" stroke-linejoin="round"/>
<polygon points="872.4,1214.8 881.0,1217.2 869.0,1232.6 860.2,1229.9" fill="#e6d44c" opacity="1.0" stroke="#e6d44c" stroke-width="0.8" stroke-linejoin="round"/>
<polygon points="988.9,1076.1 1005.9,1078.8 1004.3,1081.1 987.2,1078.3" fill="#e6d44c" opacity="1.0" stroke="#e6d44c" stroke-width="0.8" stroke-linejoin="round"/>
<polygon points="986.1,1079.7 1003.2,1082.5 1001.6,1084.8 984.3,1081.9" fill="#e6d44c" opacity="1.0" stroke="#e6d44c" stroke-width="0.8" stroke-linejoin="round"/>
<polygon points="983.2,1083.3 1000.5,1086.2 998.8,1088.5 981.4,1085.6" fill="#e6d44c" opacity="1.0" stroke="#e6d44c" stroke-width="0.8" stroke-linejoin="round"/>
<polygon points="980.2,1087.1 997.7,1090.0 995.9,1092.4 978.3,1089.4" fill="#e6d44c" opacity="1.0" stroke="#e6d44c" stroke-width="0.8" stroke-linejoin="round"/>
<polygon points="977.2,1090.9 994.8,1093.9 993.0,1096.4 975.3,1093.3" fill="#e6d44c" opacity="1.0" stroke="#e6d44c" stroke-width="0.8" stroke-linejoin="round"/>
<polygon points="974.1,1094.8 991.9,1097.9 990.0,1100.5 972.1,1097.3" fill="#e6d44c" opacity="1.0" stroke="#e6d44c" stroke-width="0.8" stroke-linejoin="round"/>
<polygon points="970.9,1098.9 988.9,1102.1 987.0,1104.7 968.8,1101.4" fill="#e6d44c" opacity="1.0" stroke="#e6d44c" stroke-width="0.8" stroke-linejoin="round"/>
<polygon points="967.6,1103.0 985.8,1106.3 983.8,1109.0 965.5,1105.6" fill="#e6d44c" opacity="1.0" stroke="#e6d44c" stroke-width="0.8" stroke-linejoin="round"/>
<polygon points="964.2,1107.2 982.6,1110.6 980.6,1113.4 962.1,1109.9" fill="#e6d44c" opacity="1.0" stroke="#e6d44c" stroke-width="0.8" stroke-linejoin="round"/>
<polygon points="960.7,1111.6 979.4,1115.1 977.3,1117.9 958.5,1114.3" fill="#e6d44c" opacity="1.0" stroke="#e6d44c" stroke-width="0.8" stroke-linejoin="round"/>
<polygon points="957.2,1116.1 976.0,1119.7 973.9,1122.6 954.9,1118.9" fill="#e6d44c" opacity="1.0" stroke="#e6d44c" stroke-width="0.8" stroke-linejoin="round"/>
<polygon points="953.5,1120.6 972.6,1124.4 970.4,1127.4 951.2,1123.6" fill="#e6d44c" opacity="1.0" stroke="#e6d44c" stroke-width="0.8" stroke-linejoin="round"/>
<polygon points="949.8,1125.4 969.0,1129.2 966.8,1132.3 947.4,1128.4" fill="#e6d44c" opacity="1.0" stroke="#e6d44c" stroke-width="0.8" stroke-linejoin="round"/>
<polygon points="945.9,1130.2 965.4,1134.2 963.1,1137.4 943.5,1133.3" fill="#e6d44c" opacity="1.0" stroke="#e6d44c" stroke-width="0.8" stroke-linejoin="round"/>
<polygon points="941.9,1135.2 961.6,1139.3 959.3,1142.6 939.4,1138.4" fill="#e6d44c" opacity="1.0" stroke="#e6d44c" stroke-width="0.8" stroke-linejoin="round"/>
<polygon points="937.9,1140.3 957.8,1144.6 955.3,1147.9 935.3,1143.6" fill="#e6d44c" opacity="1.0" stroke="#e6d44c" stroke-width="0.8" stroke-linejoin="round"/>
<polygon points="933.7,1145.6 953.8,1150.0 951.3,1153.5 931.0,1149.0" fill="#e6d44c" opacity="1.0" stroke="#e6d44c" stroke-width="0.8" stroke-linejoin="round"/>
<polygon points="929.3,1151.1 949.7,1155.6 947.1,1159.2 926.6,1154.5" fill="#e6d44c" opacity="1.0" stroke="#e6d44c" stroke-width="0.8" stroke-linejoin="round"/>
<polygon points="924.9,1156.7 945.5,1161.4 942.8,1165.0 922.0,1160.2" fill="#e6d44c" opacity="1.0" stroke="#e6d44c" stroke-width="0.8" stroke-linejoin="round"/>
<polygon points="920.3,1162.4 941.2,1167.3 938.4,1171.1 917.4,1166.1" fill="#e6d44c" opacity="1.0" stroke="#e6d44c" stroke-width="0.8" stroke-linejoin="round"/>
<polygon points="915.5,1168.4 936.7,1173.4 933.8,1177.3 912.5,1172.2" fill="#e6d44c" opacity="1.0" stroke="#e6d44c" stroke-width="0.8" stroke-linejoin="round"/>
<polygon points="910.6,1174.5 932.0,1179.8 929.1,1183.8 907.5,1178.5" fill="#e6d44c" opacity="1.0" stroke="#e6d44c" stroke-width="0.8" stroke-linejoin="round"/>
<polygon points="905.6,1180.9 927.3,1186.3 924.2,1190.4 902.4,1184.9" fill="#e6d44c" opacity="1.0" stroke="#e6d44c" stroke-width="0.8" stroke-linejoin="round"/>
<polygon points="900.4,1187.4 922.3,1193.0 919.2,1197.3 897.1,1191.6" fill="#e6d44c" opacity="1.0" stroke="#e6d44c" stroke-width="0.8" stroke-linejoin="round"/>
<polygon points="895.0,1194.2 917.2,1200.0 914.0,1204.5 891.6,1198.5" fill="#e6d44c" opacity="1.0" stroke="#e6d44c" stroke-width="0.8" stroke-linejoin="round"/>
<polygon points="889.4,1201.2 911.9,1207.2 908.6,1211.8 885.9,1205.6" fill="#e6d44c" opacity="1.0" stroke="#e6d44c" stroke-width="0.8" stroke-linejoin="round"/>
<polygon points="773.6,1037.4 782.2,1038.8 778.7,1040.8 770.1,1039.4" fill="#d8c656" opacity="0.9" stroke="#d8c656" stroke-width="0.8" stroke-linejoin="round"/>
<polygon points="767.9,1040.7 776.6,1042.1 773.1,1044.1 764.3,1042.7" fill="#d8c656" opacity="0.9" stroke="#d8c656" stroke-width="0.8" stroke-linejoin="round"/>
<polygon points="762.1,1044.0 770.8,1045.4 767.2,1047.5 758.4,1046.1" fill="#d8c656" opacity="0.9" stroke="#d8c656" stroke-width="0.8" stroke-linejoin="round"/>
<polygon points="756.2,1047.4 765.0,1048.9 761.2,1051.1 752.4,1049.6" fill="#d8c656" opacity="0.9" stroke="#d8c656" stroke-width="0.8" stroke-linejoin="round"/>
<polygon points="750.0,1050.9 758.9,1052.4 755.1,1054.7 746.2,1053.1" fill="#d8c656" opacity="0.9" stroke="#d8c656" stroke-width="0.8" stroke-linejoin="round"/>
<polygon points="743.8,1054.5 752.7,1056.1 748.8,1058.4 739.8,1056.8" fill="#d8c656" opacity="0.9" stroke="#d8c656" stroke-width="0.8" stroke-linejoin="round"/>
<polygon points="737.3,1058.2 746.3,1059.8 742.3,1062.2 733.2,1060.5" fill="#d8c656" opacity="0.9" stroke="#d8c656" stroke-width="0.8" stroke-linejoin="round"/>
<polygon points="730.7,1062.0 739.7,1063.6 735.6,1066.1 726.5,1064.4" fill="#d8c656" opacity="0.9" stroke="#d8c656" stroke-width="0.8" stroke-linejoin="round"/>
<polygon points="723.9,1065.9 733.0,1067.6 728.7,1070.1 719.5,1068.3" fill="#d8c656" opacity="0.9" stroke="#d8c656" stroke-width="0.8" stroke-linejoin="round"/>
<polygon points="716.9,1069.9 726.1,1071.6 721.7,1074.2 712.4,1072.4" fill="#d8c656" opacity="0.9" stroke="#d8c656" stroke-width="0.8" stroke-linejoin="round"/>
<polygon points="709.7,1074.0 719.0,1075.8 714.4,1078.5 705.1,1076.6" fill="#d8c656" opacity="0.9" stroke="#d8c656" stroke-width="0.8" stroke-linejoin="round"/>
<polygon points="702.3,1078.2 711.6,1080.1 707.0,1082.8 697.6,1080.9" fill="#d8c656" opacity="0.9" stroke="#d8c656" stroke-width="0.8" stroke-linejoin="round"/>
<polygon points="694.6,1082.6 704.1,1084.5 699.3,1087.3 689.8,1085.3" fill="#d8c656" opacity="0.9" stroke="#d8c656" stroke-width="0.8" stroke-linejoin="round"/>
<polygon points="686.8,1087.1 696.3,1089.1 691.4,1092.0 681.8,1089.9" fill="#d8c656" opacity="0.9" stroke="#d8c656" stroke-width="0.8" stroke-linejoin="round"/>
<polygon points="678.7,1091.7 688.3,1093.8 683.2,1096.8 673.6,1094.6" fill="#d8c656" opacity="0.9" stroke="#d8c656" stroke-width="0.8" stroke-linejoin="round"/>
<polygon points="670.4,1096.4 680.0,1098.6 674.8,1101.7 665.1,1099.5" fill="#d8c656" opacity="0.9" stroke="#d8c656" stroke-width="0.8" stroke-linejoin="round"/>
<polygon points="661.8,1101.3 671.5,1103.6 666.1,1106.8 656.3,1104.5" fill="#d8c656" opacity="0.9" stroke="#d8c656" stroke-width="0.8" stroke-linejoin="round"/>
<polygon points="652.9,1106.4 662.7,1108.7 657.2,1112.0 647.3,1109.6" fill="#d8c656" opacity="0.9" stroke="#d8c656" stroke-width="0.8" stroke-linejoin="round"/>
<polygon points="643.8,1111.6 653.7,1114.1 647.9,1117.4 638.0,1115.0" fill="#d8c656" opacity="0.9" stroke="#d8c656" stroke-width="0.8" stroke-linejoin="round"/>
<polygon points="634.4,1117.0 644.3,1119.5 638.3,1123.0 628.4,1120.5" fill="#d8c656" opacity="0.9" stroke="#d8c656" stroke-width="0.8" stroke-linejoin="round"/>
<polygon points="624.6,1122.6 634.6,1125.2 628.5,1128.8 618.4,1126.1" fill="#d8c656" opacity="0.9" stroke="#d8c656" stroke-width="0.8" stroke-linejoin="round"/>
<polygon points="614.6,1128.4 624.6,1131.1 618.3,1134.8 608.1,1132.0" fill="#d8c656" opacity="0.9" stroke="#d8c656" stroke-width="0.8" stroke-linejoin="round"/>
<polygon points="808.6,1035.3 812.6,1035.9 807.5,1039.0 803.5,1038.4" fill="#d8c656" opacity="0.9" stroke="#d8c656" stroke-width="0.8" stroke-linejoin="round"/>
<polygon points="815.1,1036.3 819.1,1036.9 814.1,1040.0 810.0,1039.4" fill="#d8c656" opacity="0.9" stroke="#d8c656" stroke-width="0.8" stroke-linejoin="round"/>
<polygon points="821.6,1037.2 825.6,1037.8 820.7,1041.0 816.6,1040.4" fill="#d8c656" opacity="0.9" stroke="#d8c656" stroke-width="0.8" stroke-linejoin="round"/>
<polygon points="828.2,1038.2 832.3,1038.8 827.4,1042.1 823.2,1041.4" fill="#d8c656" opacity="0.9" stroke="#d8c656" stroke-width="0.8" stroke-linejoin="round"/>
<polygon points="834.8,1039.2 839.0,1039.8 834.1,1043.1 829.9,1042.5" fill="#d8c656" opacity="0.9" stroke="#d8c656" stroke-width="0.8" stroke-linejoin="round"/>
<polygon points="841.5,1040.2 845.7,1040.8 841.0,1044.1 836.7,1043.5" fill="#d8c656" opacity="0.9" stroke="#d8c656" stroke-width="0.8" stroke-linejoin="round"/>
<polygon points="848.3,1041.2 852.6,1041.9 847.9,1045.2 843.6,1044.5" fill="#d8c656" opacity="0.9" stroke="#d8c656" stroke-width="0.8" stroke-linejoin="round"/>
<polygon points="855.2,1042.2 859.5,1042.9 854.9,1046.2 850.5,1045.6" fill="#d8c656" opacity="0.9" stroke="#d8c656" stroke-width="0.8" stroke-linejoin="round"/>
<polygon points="862.2,1043.3 866.5,1043.9 861.9,1047.3 857.5,1046.7" fill="#d8c656" opacity="0.9" stroke="#d8c656" stroke-width="0.8" stroke-linejoin="round"/>
<polygon points="869.2,1044.3 873.6,1045.0 869.1,1048.4 864.6,1047.7" fill="#d8c656" opacity="0.9" stroke="#d8c656" stroke-width="0.8" stroke-linejoin="round"/>
<polygon points="876.3,1045.4 880.8,1046.1 876.3,1049.5 871.8,1048.8" fill="#d8c656" opacity="0.9" stroke="#d8c656" stroke-width="0.8" stroke-linejoin="round"/>
<polygon points="883.5,1046.5 888.0,1047.1 883.6,1050.6 879.1,1049.9" fill="#d8c656" opacity="0.9" stroke="#d8c656" stroke-width="0.8" stroke-linejoin="round"/>
<polygon points="890.8,1047.5 895.3,1048.2 891.0,1051.7 886.4,1051.0" fill="#d8c656" opacity="0.9" stroke="#d8c656" stroke-width="0.8" stroke-linejoin="round"/>
<polygon points="898.1,1048.6 902.7,1049.3 898.5,1052.9 893.8,1052.2" fill="#d8c656" opacity="0.9" stroke="#d8c656" stroke-width="0.8" stroke-linejoin="round"/>
<polygon points="905.6,1049.7 910.2,1050.4 906.0,1054.0 901.3,1053.3" fill="#d8c656" opacity="0.9" stroke="#d8c656" stroke-width="0.8" stroke-linejoin="round"/>
<polygon points="913.1,1050.9 917.8,1051.6 913.7,1055.2 908.9,1054.5" fill="#d8c656" opacity="0.9" stroke="#d8c656" stroke-width="0.8" stroke-linejoin="round"/>
<polygon points="920.7,1052.0 925.5,1052.7 921.4,1056.4 916.6,1055.6" fill="#d8c656" opacity="0.9" stroke="#d8c656" stroke-width="0.8" stroke-linejoin="round"/>
<polygon points="928.4,1053.1 933.2,1053.9 929.3,1057.6 924.4,1056.8" fill="#d8c656" opacity="0.9" stroke="#d8c656" stroke-width="0.8" stroke-linejoin="round"/>
<polygon points="936.2,1054.3 941.1,1055.0 937.2,1058.8 932.3,1058.0" fill="#d8c656" opacity="0.9" stroke="#d8c656" stroke-width="0.8" stroke-linejoin="round"/>
<polygon points="944.1,1055.5 949.0,1056.2 945.2,1060.0 940.3,1059.2" fill="#d8c656" opacity="0.9" stroke="#d8c656" stroke-width="0.8" stroke-linejoin="round"/>
<polygon points="952.0,1056.7 957.0,1057.4 953.4,1061.2 948.3,1060.5" fill="#d8c656" opacity="0.9" stroke="#d8c656" stroke-width="0.8" stroke-linejoin="round"/>
<polygon points="960.1,1057.9 965.2,1058.6 961.6,1062.5 956.5,1061.7" fill="#d8c656" opacity="0.9" stroke="#d8c656" stroke-width="0.8" stroke-linejoin="round"/>
<polygon points="968.3,1059.1 973.4,1059.8 969.9,1063.7 964.7,1063.0" fill="#d8c656" opacity="0.9" stroke="#d8c656" stroke-width="0.8" stroke-linejoin="round"/>
<polygon points="976.6,1060.3 981.7,1061.1 978.3,1065.0 973.1,1064.2" fill="#d8c656" opacity="0.9" stroke="#d8c656" stroke-width="0.8" stroke-linejoin="round"/>
<polygon points="984.9,1061.6 990.2,1062.3 986.9,1066.3 981.6,1065.5" fill="#d8c656" opacity="0.9" stroke="#d8c656" stroke-width="0.8" stroke-linejoin="round"/>
<polygon points="993.4,1062.8 998.7,1063.6 995.5,1067.6 990.1,1066.8" fill="#d8c656" opacity="0.9" stroke="#d8c656" stroke-width="0.8" stroke-linejoin="round"/>
<g clip-path="url(#cp3)"><ellipse cx="778" cy="1082" rx="40" ry="16" fill="#c040e8" opacity="0.6" filter="url(#blur4)"/></g>
<polygon points="795.5,1048.2 807.7,1050.6 800.2,1055.7 787.8,1053.2" fill="#dcd8f2" stroke="#dcd8f2" stroke-width="1.5" stroke-linejoin="round"/>
<polygon points="798.2,1046.4 809.3,1048.7 801.9,1053.7 790.6,1051.4" fill="#34303a" stroke="#34303a" stroke-width="1.6" stroke-linejoin="round"/>
<polygon points="815.5,1052.2 828.0,1054.7 820.7,1060.0 808.1,1057.4" fill="#dcd8f2" stroke="#dcd8f2" stroke-width="1.5" stroke-linejoin="round"/>
<polygon points="818.1,1050.4 829.4,1052.7 822.3,1057.9 810.8,1055.5" fill="#34303a" stroke="#34303a" stroke-width="1.6" stroke-linejoin="round"/>
<polygon points="836.0,1056.4 848.7,1058.9 841.8,1064.3 828.9,1061.6" fill="#dcd8f2" stroke="#dcd8f2" stroke-width="1.5" stroke-linejoin="round"/>
<polygon points="838.4,1054.5 850.0,1056.9 843.2,1062.1 831.5,1059.7" fill="#34303a" stroke="#34303a" stroke-width="1.6" stroke-linejoin="round"/>
<polygon points="856.9,1060.6 869.9,1063.2 863.3,1068.7 850.1,1066.0" fill="#dcd8f2" stroke="#dcd8f2" stroke-width="1.5" stroke-linejoin="round"/>
<polygon points="859.2,1058.7 871.1,1061.1 864.6,1066.5 852.6,1064.1" fill="#34303a" stroke="#34303a" stroke-width="1.6" stroke-linejoin="round"/>
<polygon points="878.3,1064.9 891.5,1067.6 885.4,1073.3 871.9,1070.5" fill="#dcd8f2" stroke="#dcd8f2" stroke-width="1.5" stroke-linejoin="round"/>
<polygon points="880.5,1063.0 892.6,1065.4 886.5,1071.0 874.2,1068.5" fill="#34303a" stroke="#34303a" stroke-width="1.6" stroke-linejoin="round"/>
<polygon points="900.1,1069.4 913.7,1072.1 907.9,1077.9 894.1,1075.1" fill="#dcd8f2" stroke="#dcd8f2" stroke-width="1.5" stroke-linejoin="round"/>
<polygon points="902.2,1067.4 914.6,1069.9 908.8,1075.6 896.3,1073.0" fill="#34303a" stroke="#34303a" stroke-width="1.6" stroke-linejoin="round"/>
<polygon points="922.4,1073.9 936.3,1076.7 930.9,1082.7 916.8,1079.8" fill="#dcd8f2" stroke="#dcd8f2" stroke-width="1.5" stroke-linejoin="round"/>
<polygon points="924.4,1071.8 937.0,1074.4 931.7,1080.3 918.8,1077.6" fill="#34303a" stroke="#34303a" stroke-width="1.6" stroke-linejoin="round"/>
<polygon points="781.5,1057.2 794.0,1059.8 786.0,1065.3 773.3,1062.6" fill="#dcd8f2" stroke="#dcd8f2" stroke-width="1.5" stroke-linejoin="round"/>
<polygon points="784.4,1055.4 795.8,1057.7 787.9,1063.1 776.3,1060.6" fill="#34303a" stroke="#34303a" stroke-width="1.6" stroke-linejoin="round"/>
<polygon points="802.1,1061.5 814.9,1064.2 807.2,1069.8 794.2,1067.0" fill="#dcd8f2" stroke="#dcd8f2" stroke-width="1.5" stroke-linejoin="round"/>
<polygon points="804.9,1059.6 816.5,1062.0 808.9,1067.5 797.1,1065.0" fill="#34303a" stroke="#34303a" stroke-width="1.6" stroke-linejoin="round"/>
<polygon points="823.1,1065.9 836.2,1068.6 828.8,1074.4 815.6,1071.6" fill="#dcd8f2" stroke="#dcd8f2" stroke-width="1.5" stroke-linejoin="round"/>
<polygon points="825.8,1064.0 837.7,1066.4 830.4,1072.1 818.3,1069.5" fill="#34303a" stroke="#34303a" stroke-width="1.6" stroke-linejoin="round"/>
<polygon points="844.7,1070.4 858.0,1073.2 851.0,1079.1 837.4,1076.2" fill="#dcd8f2" stroke="#dcd8f2" stroke-width="1.5" stroke-linejoin="round"/>
<polygon points="847.2,1068.4 859.4,1070.9 852.4,1076.7 840.0,1074.1" fill="#34303a" stroke="#34303a" stroke-width="1.6" stroke-linejoin="round"/>
<polygon points="866.7,1075.0 880.3,1077.9 873.7,1083.9 859.8,1081.0" fill="#dcd8f2" stroke="#dcd8f2" stroke-width="1.5" stroke-linejoin="round"/>
<polygon points="869.0,1072.9 881.5,1075.5 875.0,1081.5 862.3,1078.8" fill="#34303a" stroke="#34303a" stroke-width="1.6" stroke-linejoin="round"/>
<polygon points="889.2,1079.7 903.2,1082.6 896.9,1088.9 882.7,1085.9" fill="#dcd8f2" stroke="#dcd8f2" stroke-width="1.5" stroke-linejoin="round"/>
<polygon points="891.4,1077.6 904.2,1080.2 898.0,1086.4 885.0,1083.6" fill="#34303a" stroke="#34303a" stroke-width="1.6" stroke-linejoin="round"/>
<polygon points="912.2,1084.5 926.5,1087.5 920.7,1094.0 906.1,1090.9" fill="#dcd8f2" stroke="#dcd8f2" stroke-width="1.5" stroke-linejoin="round"/>
<polygon points="914.3,1082.3 927.4,1085.1 921.6,1091.4 908.3,1088.6" fill="#34303a" stroke="#34303a" stroke-width="1.6" stroke-linejoin="round"/>
<polygon points="766.6,1066.9 779.4,1069.7 770.8,1075.5 757.7,1072.7" fill="#dcd8f2" stroke="#dcd8f2" stroke-width="1.5" stroke-linejoin="round"/>
<polygon points="769.7,1064.9 781.4,1067.4 772.8,1073.2 760.9,1070.6" fill="#34303a" stroke="#34303a" stroke-width="1.6" stroke-linejoin="round"/>
<polygon points="787.7,1071.5 800.9,1074.3 792.6,1080.3 779.2,1077.4" fill="#dcd8f2" stroke="#dcd8f2" stroke-width="1.5" stroke-linejoin="round"/>
<polygon points="790.7,1069.4 802.7,1072.0 794.5,1077.9 782.3,1075.3" fill="#34303a" stroke="#34303a" stroke-width="1.6" stroke-linejoin="round"/>
<polygon points="809.4,1076.2 822.8,1079.1 814.9,1085.3 801.2,1082.2" fill="#dcd8f2" stroke="#dcd8f2" stroke-width="1.5" stroke-linejoin="round"/>
<polygon points="812.2,1074.1 824.5,1076.7 816.6,1082.8 804.1,1080.0" fill="#34303a" stroke="#34303a" stroke-width="1.6" stroke-linejoin="round"/>
<polygon points="831.5,1081.0 845.3,1083.9 837.7,1090.3 823.7,1087.2" fill="#dcd8f2" stroke="#dcd8f2" stroke-width="1.5" stroke-linejoin="round"/>
<polygon points="834.2,1078.8 846.8,1081.5 839.3,1087.7 826.5,1084.9" fill="#34303a" stroke="#34303a" stroke-width="1.6" stroke-linejoin="round"/>
<polygon points="854.2,1085.9 868.3,1088.9 861.1,1095.4 846.8,1092.3" fill="#dcd8f2" stroke="#dcd8f2" stroke-width="1.5" stroke-linejoin="round"/>
<polygon points="856.8,1083.6 869.6,1086.4 862.5,1092.8 849.5,1090.0" fill="#34303a" stroke="#34303a" stroke-width="1.6" stroke-linejoin="round"/>
<polygon points="877.4,1090.9 891.9,1094.0 885.1,1100.7 870.4,1097.5" fill="#dcd8f2" stroke="#dcd8f2" stroke-width="1.5" stroke-linejoin="round"/>
<polygon points="879.8,1088.6 893.0,1091.4 886.4,1098.0 873.0,1095.1" fill="#34303a" stroke="#34303a" stroke-width="1.6" stroke-linejoin="round"/>
<polygon points="901.2,1096.0 916.0,1099.2 909.7,1106.1 894.6,1102.8" fill="#dcd8f2" stroke="#dcd8f2" stroke-width="1.5" stroke-linejoin="round"/>
<polygon points="903.5,1093.6 917.0,1096.5 910.8,1103.4 897.0,1100.4" fill="#34303a" stroke="#34303a" stroke-width="1.6" stroke-linejoin="round"/>
<polygon points="750.5,1077.4 763.7,1080.3 754.4,1086.6 740.9,1083.6" fill="#dcd8f2" stroke="#dcd8f2" stroke-width="1.5" stroke-linejoin="round"/>
<polygon points="753.8,1075.2 765.8,1077.9 756.6,1084.1 744.4,1081.3" fill="#34303a" stroke="#34303a" stroke-width="1.6" stroke-linejoin="round"/>
<polygon points="772.2,1082.2 785.8,1085.3 776.8,1091.7 763.0,1088.6" fill="#dcd8f2" stroke="#dcd8f2" stroke-width="1.5" stroke-linejoin="round"/>
<polygon points="775.4,1080.0 787.8,1082.8 778.9,1089.1 766.4,1086.3" fill="#34303a" stroke="#34303a" stroke-width="1.6" stroke-linejoin="round"/>
<polygon points="794.5,1087.2 808.4,1090.3 799.8,1097.0 785.7,1093.8" fill="#dcd8f2" stroke="#dcd8f2" stroke-width="1.5" stroke-linejoin="round"/>
<polygon points="797.6,1084.9 810.2,1087.7 801.8,1094.3 788.9,1091.4" fill="#34303a" stroke="#34303a" stroke-width="1.6" stroke-linejoin="round"/>
<polygon points="817.3,1092.3 831.5,1095.5 823.4,1102.4 808.9,1099.1" fill="#dcd8f2" stroke="#dcd8f2" stroke-width="1.5" stroke-linejoin="round"/>
<polygon points="820.3,1090.0 833.2,1092.8 825.2,1099.6 812.0,1096.6" fill="#34303a" stroke="#34303a" stroke-width="1.6" stroke-linejoin="round"/>
<polygon points="840.7,1097.5 855.3,1100.8 847.6,1107.9 832.7,1104.5" fill="#dcd8f2" stroke="#dcd8f2" stroke-width="1.5" stroke-linejoin="round"/>
<polygon points="843.5,1095.1 856.8,1098.1 849.1,1105.0 835.6,1102.0" fill="#34303a" stroke="#34303a" stroke-width="1.6" stroke-linejoin="round"/>
<polygon points="864.7,1102.9 879.6,1106.2 872.4,1113.5 857.2,1110.1" fill="#dcd8f2" stroke="#dcd8f2" stroke-width="1.5" stroke-linejoin="round"/>
<polygon points="867.3,1100.4 880.9,1103.4 873.8,1110.6 859.9,1107.5" fill="#34303a" stroke="#34303a" stroke-width="1.6" stroke-linejoin="round"/>
<polygon points="889.3,1108.4 904.6,1111.8 897.8,1119.3 882.2,1115.8" fill="#dcd8f2" stroke="#dcd8f2" stroke-width="1.5" stroke-linejoin="round"/>
<polygon points="891.8,1105.8 905.7,1108.9 899.0,1116.3 884.8,1113.1" fill="#34303a" stroke="#34303a" stroke-width="1.6" stroke-linejoin="round"/>
<polygon points="733.1,1088.6 746.7,1091.8 736.7,1098.6 722.8,1095.3" fill="#dcd8f2" stroke="#dcd8f2" stroke-width="1.5" stroke-linejoin="round"/>
<polygon points="736.7,1086.3 749.1,1089.1 739.2,1095.8 726.6,1092.9" fill="#34303a" stroke="#34303a" stroke-width="1.6" stroke-linejoin="round"/>
<polygon points="755.5,1093.8 769.5,1097.0 759.8,1104.0 745.6,1100.7" fill="#dcd8f2" stroke="#dcd8f2" stroke-width="1.5" stroke-linejoin="round"/>
<polygon points="759.0,1091.4 771.7,1094.3 762.1,1101.2 749.2,1098.2" fill="#34303a" stroke="#34303a" stroke-width="1.6" stroke-linejoin="round"/>
<polygon points="778.5,1099.1 792.8,1102.4 783.5,1109.7 769.0,1106.2" fill="#dcd8f2" stroke="#dcd8f2" stroke-width="1.5" stroke-linejoin="round"/>
<polygon points="781.8,1096.7 794.8,1099.7 785.7,1106.8 772.4,1103.7" fill="#34303a" stroke="#34303a" stroke-width="1.6" stroke-linejoin="round"/>
<polygon points="802.0,1104.6 816.7,1108.0 807.8,1115.4 792.9,1111.9" fill="#dcd8f2" stroke="#dcd8f2" stroke-width="1.5" stroke-linejoin="round"/>
<polygon points="805.2,1102.1 818.6,1105.1 809.8,1112.5 796.2,1109.3" fill="#34303a" stroke="#34303a" stroke-width="1.6" stroke-linejoin="round"/>
<polygon points="826.2,1110.2 841.2,1113.7 832.8,1121.4 817.5,1117.7" fill="#dcd8f2" stroke="#dcd8f2" stroke-width="1.5" stroke-linejoin="round"/>
<polygon points="829.2,1107.6 842.9,1110.7 834.6,1118.3 820.7,1115.0" fill="#34303a" stroke="#34303a" stroke-width="1.6" stroke-linejoin="round"/>
<polygon points="851.0,1115.9 866.4,1119.5 858.5,1127.4 842.8,1123.7" fill="#dcd8f2" stroke="#dcd8f2" stroke-width="1.5" stroke-linejoin="round"/>
<polygon points="853.8,1113.2 867.9,1116.5 860.1,1124.3 845.7,1120.9" fill="#34303a" stroke="#34303a" stroke-width="1.6" stroke-linejoin="round"/>
<polygon points="876.4,1121.8 892.2,1125.5 884.9,1133.7 868.7,1129.9" fill="#dcd8f2" stroke="#dcd8f2" stroke-width="1.5" stroke-linejoin="round"/>
<polygon points="879.1,1119.1 893.5,1122.4 886.2,1130.4 871.5,1127.0" fill="#34303a" stroke="#34303a" stroke-width="1.6" stroke-linejoin="round"/>
<polygon points="714.4,1100.8 728.4,1104.1 717.5,1111.5 703.2,1108.0" fill="#dcd8f2" stroke="#dcd8f2" stroke-width="1.5" stroke-linejoin="round"/>
<polygon points="718.3,1098.2 731.0,1101.3 720.3,1108.6 707.3,1105.4" fill="#34303a" stroke="#34303a" stroke-width="1.6" stroke-linejoin="round"/>
<polygon points="737.5,1106.3 751.8,1109.8 741.3,1117.4 726.7,1113.8" fill="#dcd8f2" stroke="#dcd8f2" stroke-width="1.5" stroke-linejoin="round"/>
<polygon points="741.2,1103.7 754.3,1106.9 743.9,1114.3 730.6,1111.1" fill="#34303a" stroke="#34303a" stroke-width="1.6" stroke-linejoin="round"/>
<polygon points="761.2,1112.0 775.9,1115.6 765.8,1123.4 750.8,1119.7" fill="#dcd8f2" stroke="#dcd8f2" stroke-width="1.5" stroke-linejoin="round"/>
<polygon points="764.7,1109.4 778.2,1112.6 768.2,1120.3 754.6,1116.9" fill="#34303a" stroke="#34303a" stroke-width="1.6" stroke-linejoin="round"/>
<polygon points="785.5,1117.9 800.6,1121.5 791.0,1129.6 775.5,1125.8" fill="#dcd8f2" stroke="#dcd8f2" stroke-width="1.5" stroke-linejoin="round"/>
<polygon points="788.9,1115.1 802.7,1118.4 793.2,1126.4 779.1,1123.0" fill="#34303a" stroke="#34303a" stroke-width="1.6" stroke-linejoin="round"/>
<polygon points="810.4,1123.9 826.0,1127.7 816.8,1136.0 801.0,1132.1" fill="#dcd8f2" stroke="#dcd8f2" stroke-width="1.5" stroke-linejoin="round"/>
<polygon points="813.7,1121.1 827.8,1124.5 818.8,1132.7 804.4,1129.1" fill="#34303a" stroke="#34303a" stroke-width="1.6" stroke-linejoin="round"/>
<polygon points="836.0,1130.1 852.0,1133.9 843.4,1142.6 827.1,1138.6" fill="#dcd8f2" stroke="#dcd8f2" stroke-width="1.5" stroke-linejoin="round"/>
<polygon points="839.1,1127.2 853.7,1130.6 845.2,1139.1 830.3,1135.5" fill="#34303a" stroke="#34303a" stroke-width="1.6" stroke-linejoin="round"/>
<polygon points="862.4,1136.4 878.8,1140.4 870.7,1149.3 854.0,1145.2" fill="#dcd8f2" stroke="#dcd8f2" stroke-width="1.5" stroke-linejoin="round"/>
<polygon points="865.3,1133.4 880.2,1137.0 872.3,1145.8 857.0,1142.0" fill="#34303a" stroke="#34303a" stroke-width="1.6" stroke-linejoin="round"/>
<polygon points="694.1,1113.9 708.5,1117.6 696.6,1125.6 681.9,1121.8" fill="#dcd8f2" stroke="#dcd8f2" stroke-width="1.5" stroke-linejoin="round"/>
<polygon points="698.3,1111.2 711.4,1114.5 699.7,1122.4 686.3,1118.9" fill="#34303a" stroke="#34303a" stroke-width="1.6" stroke-linejoin="round"/>
<polygon points="717.9,1119.9 732.7,1123.6 721.2,1131.9 706.1,1128.0" fill="#dcd8f2" stroke="#dcd8f2" stroke-width="1.5" stroke-linejoin="round"/>
<polygon points="721.9,1117.1 735.4,1120.5 724.2,1128.6 710.4,1125.1" fill="#34303a" stroke="#34303a" stroke-width="1.6" stroke-linejoin="round"/>
<polygon points="742.3,1126.1 757.5,1129.9 746.5,1138.4 731.0,1134.4" fill="#dcd8f2" stroke="#dcd8f2" stroke-width="1.5" stroke-linejoin="round"/>
<polygon points="746.2,1123.2 760.1,1126.6 749.3,1135.0 735.1,1131.4" fill="#34303a" stroke="#34303a" stroke-width="1.6" stroke-linejoin="round"/>
<polygon points="767.4,1132.4 783.1,1136.3 772.6,1145.1 756.6,1141.0" fill="#dcd8f2" stroke="#dcd8f2" stroke-width="1.5" stroke-linejoin="round"/>
<polygon points="771.1,1129.4 785.4,1132.9 775.1,1141.6 760.5,1137.9" fill="#34303a" stroke="#34303a" stroke-width="1.6" stroke-linejoin="round"/>
<polygon points="793.2,1138.9 809.3,1142.9 799.3,1152.0 782.9,1147.8" fill="#dcd8f2" stroke="#dcd8f2" stroke-width="1.5" stroke-linejoin="round"/>
<polygon points="796.8,1135.8 811.4,1139.4 801.6,1148.4 786.7,1144.6" fill="#34303a" stroke="#34303a" stroke-width="1.6" stroke-linejoin="round"/>
<polygon points="819.8,1145.5 836.3,1149.7 826.9,1159.1 810.0,1154.8" fill="#dcd8f2" stroke="#dcd8f2" stroke-width="1.5" stroke-linejoin="round"/>
<polygon points="823.1,1142.3 838.2,1146.1 828.9,1155.4 813.5,1151.4" fill="#34303a" stroke="#34303a" stroke-width="1.6" stroke-linejoin="round"/>
<polygon points="847.1,1152.4 864.1,1156.7 855.3,1166.5 837.9,1162.0" fill="#dcd8f2" stroke="#dcd8f2" stroke-width="1.5" stroke-linejoin="round"/>
<polygon points="850.2,1149.1 865.8,1153.0 857.1,1162.5 841.2,1158.5" fill="#34303a" stroke="#34303a" stroke-width="1.6" stroke-linejoin="round"/>
<polyline points="779.5,1054.7 782.5,1061.6 799.9,1058.9 803.4,1066.0 820.7,1063.3 824.7,1070.5 842.0,1067.7 846.6,1075.1 863.8,1072.2 869.0,1079.8 886.1,1076.9 891.8,1084.7 908.9,1081.6 915.3,1089.6 932.2,1086.5" fill="none" stroke="#e02a40" stroke-width="2.2" stroke-dasharray="5 4"/>
<line x1="753" y1="1083" x2="753" y2="1062" stroke="#f0e030" stroke-width="3.5"/>
<polygon points="753,1058 749,1066 757,1066" fill="#f0e030"/>
<line x1="899" y1="1118" x2="899" y2="1099" stroke="#f0e030" stroke-width="3.5"/>
<polygon points="899,1095 895,1103 903,1103" fill="#f0e030"/>
<rect x="752" y="896" width="54" height="190" rx="12" fill="#f0a8f6" opacity="0.7" filter="url(#blur4)"/>
<rect x="769" y="894" width="18" height="191" rx="5" fill="#a414f2" filter="url(#blur1)"/>
<rect x="780" y="902" width="3" height="178" fill="#c860f6" opacity="0.8"/>
<text x="694" y="937" font-size="31.5" text-anchor="start" fill="#262626" stroke="#262626" stroke-width="0.45">Movement</text>
<line x1="723.6" y1="956.5" x2="876" y2="956.5" stroke="#e8283c" stroke-width="2.2"/>
<polygon points="890,956.5 873,950 873,963" fill="#e8283c"/>
</svg></body></html>
